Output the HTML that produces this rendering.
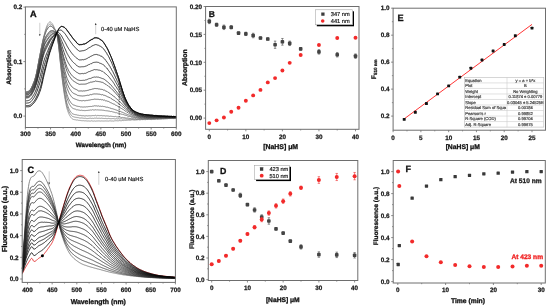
<!DOCTYPE html>
<html><head><meta charset="utf-8"><style>
html,body{margin:0;padding:0;background:#fff;}
svg{display:block;}
text{font-family:'Liberation Sans', Arial, sans-serif;text-rendering:geometricPrecision;}
.tl{font-weight:bold;fill:#1a1a1a;stroke:#1a1a1a;stroke-width:0.25px;}
.b{stroke-width:0.3px;}
</style></head><body>
<svg width="550" height="306" viewBox="0 0 550 306">
<rect width="550" height="306" fill="#fff"/>
<clipPath id="cA"><rect x="25.4" y="6.9" width="150.9" height="120.6"/></clipPath>
<polyline points="25.4,92.1 25.9,92.0 26.4,91.9 26.9,91.8 27.4,91.7 27.9,91.6 28.4,91.3 28.9,91.0 29.4,90.5 29.9,90.0 30.4,89.4 30.9,88.7 31.4,87.8 31.9,86.8 32.4,85.7 32.9,84.5 33.4,83.2 34.0,81.9 34.5,80.4 35.0,78.8 35.5,77.1 36.0,75.2 36.5,73.1 37.0,70.7 37.5,68.1 38.0,65.4 38.5,62.6 39.0,59.9 39.5,57.2 40.0,54.7 40.5,52.1 41.0,49.5 41.5,46.9 42.0,44.5 42.5,42.1 43.0,39.8 43.5,37.6 44.0,35.6 44.5,33.6 45.0,31.7 45.5,30.0 46.0,28.4 46.5,26.9 47.0,25.6 47.5,24.5 48.0,23.6 48.5,22.9 49.0,22.4 49.5,22.0 50.0,21.8 50.6,22.0 51.1,22.4 51.6,22.9 52.1,23.5 52.6,24.2 53.1,25.1 53.6,26.1 54.1,27.3 54.6,28.4 55.1,29.2 55.6,30.0 56.1,31.1 56.6,33.0 57.1,35.6 57.6,38.7 58.1,42.2 58.6,46.3 59.1,50.7 59.6,55.5 60.1,60.6 60.6,65.4 61.1,69.9 61.6,74.2 62.1,78.4 62.6,82.3 63.1,86.1 63.6,89.8 64.1,93.3 64.6,96.5 65.1,99.4 65.6,102.2 66.1,104.8 66.6,107.1 67.1,109.0 67.7,110.7 68.2,112.2 68.7,113.5 69.2,114.6 69.7,115.6 70.2,116.3 70.7,117.1 71.2,117.8 71.7,118.3 72.2,118.8 72.7,119.2 73.2,119.4 73.7,119.5 74.2,119.6 74.7,119.7 75.2,119.8 75.7,119.8 76.2,120.1 76.7,120.0 77.2,120.0 77.7,120.0 78.2,120.2 78.7,120.4 79.2,120.4 79.7,120.4 80.2,120.4 80.7,120.6 81.2,120.6 81.7,120.7 82.2,120.6 82.7,120.8 83.2,120.7 83.7,120.7 84.3,120.8 84.8,120.9 85.3,120.7 85.8,121.0 86.3,120.9 86.8,121.0 87.3,121.1 87.8,120.9 88.3,120.9 88.8,121.0 89.3,121.0 89.8,121.1 90.3,121.1 90.8,121.0 91.3,120.8 91.8,120.9 92.3,121.1 92.8,120.9 93.3,121.1 93.8,121.1 94.3,120.9 94.8,121.1 95.3,121.2 95.8,121.1 96.3,121.0 96.8,121.0 97.3,120.9 97.8,121.1 98.3,120.9 98.8,121.0 99.3,121.0 99.8,120.9 100.3,121.0 100.8,121.1 101.4,120.9 101.9,121.1 102.4,121.0 102.9,121.0 103.4,121.0 103.9,121.1 104.4,121.0 104.9,121.0 105.4,120.9 105.9,121.1 106.4,121.0 106.9,121.0 107.4,121.1 107.9,120.7 108.4,121.0 108.9,121.1 109.4,120.8 109.9,121.1 110.4,120.9 110.9,120.9 111.4,121.0 111.9,121.0 112.4,121.0 112.9,120.9 113.4,121.1 113.9,121.0 114.4,120.9 114.9,120.7 115.4,120.8 115.9,120.6 116.4,120.7 116.9,120.8 117.4,120.8 118.0,121.0 118.5,120.8 119.0,120.8 119.5,120.6 120.0,120.6 120.5,120.7 121.0,120.7 121.5,120.7 122.0,120.6 122.5,120.5 123.0,120.5 123.5,120.6 124.0,120.2 124.5,120.3 125.0,120.4 125.5,120.4 126.0,120.4 126.5,120.3 127.0,120.3 127.5,120.2 128.0,120.2 128.5,120.1 129.0,120.1 129.5,120.2 130.0,120.1 130.5,120.2 131.0,120.2 131.5,119.9 132.0,120.1 132.5,119.8 133.0,120.1 133.5,120.0 134.0,119.9 134.6,120.0 135.1,119.9 135.6,120.0 136.1,120.0 136.6,119.9 137.1,119.9 137.6,119.7 138.1,119.9 138.6,119.6 139.1,120.1 139.6,119.8 140.1,119.7 140.6,119.8 141.1,119.6 141.6,119.6 142.1,119.7 142.6,119.6 143.1,119.3 143.6,119.6 144.1,119.6 144.6,119.6 145.1,119.5 145.6,119.7 146.1,119.5 146.6,119.2 147.1,119.4 147.6,119.4 148.1,119.3 148.6,119.2 149.1,119.3 149.6,119.2 150.1,119.2 150.6,119.3 151.1,119.1 151.7,119.6 152.2,119.3 152.7,119.2 153.2,119.3 153.7,119.2 154.2,119.3 154.7,119.2 155.2,118.9 155.7,119.1 156.2,119.1 156.7,118.9 157.2,119.1 157.7,119.0 158.2,119.0 158.7,118.8 159.2,119.1 159.7,118.9 160.2,118.9 160.7,119.0 161.2,118.8 161.7,119.0 162.2,118.7 162.7,118.8 163.2,118.7 163.7,118.8 164.2,118.7 164.7,119.0 165.2,118.7 165.7,118.8 166.2,118.7 166.7,118.7 167.2,118.6 167.7,118.7 168.3,118.4 168.8,118.3 169.3,118.6 169.8,118.5 170.3,118.5 170.8,118.4 171.3,118.3 171.8,118.6 172.3,118.5 172.8,118.5 173.3,118.5 173.8,118.6 174.3,118.3 174.8,118.5 175.3,118.2 175.8,118.2 176.3,118.4" fill="none" stroke="rgb(140,140,140)" stroke-width="0.85" stroke-linejoin="round" clip-path="url(#cA)"/>
<polyline points="25.4,92.2 25.9,92.1 26.4,92.0 26.9,91.9 27.4,91.8 27.9,91.6 28.4,91.4 28.9,91.0 29.4,90.6 29.9,90.0 30.4,89.5 30.9,88.7 31.4,87.9 31.9,86.8 32.4,85.7 32.9,84.6 33.4,83.3 34.0,82.0 34.5,80.5 35.0,78.9 35.5,77.2 36.0,75.3 36.5,73.2 37.0,70.8 37.5,68.2 38.0,65.5 38.5,62.7 39.0,60.0 39.5,57.4 40.0,54.9 40.5,52.3 41.0,49.7 41.5,47.2 42.0,44.8 42.5,42.4 43.0,40.3 43.5,38.2 44.0,36.3 44.5,34.5 45.0,32.8 45.5,31.3 46.0,29.9 46.5,28.6 47.0,27.5 47.5,26.6 48.0,25.7 48.5,25.1 49.0,24.6 49.5,24.1 50.0,23.9 50.6,24.0 51.1,24.3 51.6,24.6 52.1,25.1 52.6,25.7 53.1,26.3 53.6,27.2 54.1,28.1 54.6,29.0 55.1,29.7 55.6,30.3 56.1,31.3 56.6,33.0 57.1,35.5 57.6,38.4 58.1,41.7 58.6,45.6 59.1,49.9 59.6,54.5 60.1,59.4 60.6,64.1 61.1,68.4 61.6,72.6 62.1,76.6 62.6,80.5 63.1,84.2 63.6,87.8 64.1,91.2 64.6,94.2 65.1,97.1 65.6,99.8 66.1,102.3 66.6,104.5 67.1,106.4 67.7,108.1 68.2,109.5 68.7,110.9 69.2,112.0 69.7,112.9 70.2,113.7 70.7,114.4 71.2,115.1 71.7,115.7 72.2,116.2 72.7,116.5 73.2,116.7 73.7,116.8 74.2,117.0 74.7,117.1 75.2,117.2 75.7,117.3 76.2,117.2 76.7,117.6 77.2,117.5 77.7,117.6 78.2,117.5 78.7,117.8 79.2,117.9 79.7,118.0 80.2,118.0 80.7,118.1 81.2,118.0 81.7,118.0 82.2,118.1 82.7,118.1 83.2,118.3 83.7,118.2 84.3,118.3 84.8,118.3 85.3,118.2 85.8,118.4 86.3,118.6 86.8,118.4 87.3,118.5 87.8,118.6 88.3,118.5 88.8,118.3 89.3,118.2 89.8,118.4 90.3,118.3 90.8,118.2 91.3,118.5 91.8,118.3 92.3,118.3 92.8,118.3 93.3,118.5 93.8,118.3 94.3,118.2 94.8,118.1 95.3,118.1 95.8,118.3 96.3,118.1 96.8,118.2 97.3,118.4 97.8,118.2 98.3,118.3 98.8,118.2 99.3,118.3 99.8,118.2 100.3,118.3 100.8,118.4 101.4,118.2 101.9,118.3 102.4,118.4 102.9,118.2 103.4,118.4 103.9,118.5 104.4,118.5 104.9,118.6 105.4,118.5 105.9,118.2 106.4,118.6 106.9,118.5 107.4,118.6 107.9,118.6 108.4,118.4 108.9,118.5 109.4,118.6 109.9,118.6 110.4,118.7 110.9,118.7 111.4,118.7 111.9,118.7 112.4,118.6 112.9,118.6 113.4,118.6 113.9,118.7 114.4,118.9 114.9,118.7 115.4,118.9 115.9,118.7 116.4,118.7 116.9,118.7 117.4,118.9 118.0,119.0 118.5,118.7 119.0,118.7 119.5,119.0 120.0,118.9 120.5,118.8 121.0,119.0 121.5,118.7 122.0,119.0 122.5,119.1 123.0,118.8 123.5,119.0 124.0,119.1 124.5,118.9 125.0,119.3 125.5,118.9 126.0,119.2 126.5,119.1 127.0,119.2 127.5,119.1 128.0,119.1 128.5,119.3 129.0,119.1 129.5,119.3 130.0,119.3 130.5,119.3 131.0,119.4 131.5,119.4 132.0,119.2 132.5,119.3 133.0,119.2 133.5,119.3 134.0,119.5 134.6,119.6 135.1,119.4 135.6,119.3 136.1,119.4 136.6,119.5 137.1,119.3 137.6,119.6 138.1,119.5 138.6,119.4 139.1,119.1 139.6,119.3 140.1,119.5 140.6,119.3 141.1,119.3 141.6,119.3 142.1,119.4 142.6,119.4 143.1,119.3 143.6,119.3 144.1,119.1 144.6,119.1 145.1,119.4 145.6,119.3 146.1,119.3 146.6,119.3 147.1,119.2 147.6,119.2 148.1,119.2 148.6,119.1 149.1,119.2 149.6,119.3 150.1,119.3 150.6,119.3 151.1,119.2 151.7,119.3 152.2,119.0 152.7,119.1 153.2,119.1 153.7,119.1 154.2,119.2 154.7,119.1 155.2,118.8 155.7,119.2 156.2,118.9 156.7,118.9 157.2,118.9 157.7,118.9 158.2,118.8 158.7,119.0 159.2,118.8 159.7,118.7 160.2,118.9 160.7,118.9 161.2,118.8 161.7,118.6 162.2,118.6 162.7,118.6 163.2,118.8 163.7,118.8 164.2,118.6 164.7,118.6 165.2,118.7 165.7,118.6 166.2,118.5 166.7,118.4 167.2,118.6 167.7,118.5 168.3,118.6 168.8,118.5 169.3,118.5 169.8,118.3 170.3,118.1 170.8,118.4 171.3,118.3 171.8,118.3 172.3,118.5 172.8,118.2 173.3,118.4 173.8,118.1 174.3,118.1 174.8,118.2 175.3,118.3 175.8,118.0 176.3,118.2" fill="none" stroke="rgb(130,130,130)" stroke-width="0.85" stroke-linejoin="round" clip-path="url(#cA)"/>
<polyline points="25.4,92.4 25.9,92.3 26.4,92.2 26.9,92.1 27.4,92.0 27.9,91.8 28.4,91.6 28.9,91.2 29.4,90.8 29.9,90.2 30.4,89.7 30.9,89.0 31.4,88.1 31.9,87.1 32.4,86.0 32.9,84.8 33.4,83.6 34.0,82.2 34.5,80.8 35.0,79.2 35.5,77.5 36.0,75.6 36.5,73.6 37.0,71.2 37.5,68.6 38.0,65.9 38.5,63.2 39.0,60.4 39.5,57.9 40.0,55.4 40.5,52.8 41.0,50.3 41.5,47.8 42.0,45.4 42.5,43.2 43.0,41.1 43.5,39.1 44.0,37.3 44.5,35.7 45.0,34.2 45.5,32.8 46.0,31.6 46.5,30.5 47.0,29.6 47.5,28.7 48.0,28.0 48.5,27.4 49.0,26.9 49.5,26.4 50.0,26.1 50.6,26.1 51.1,26.2 51.6,26.5 52.1,26.7 52.6,27.1 53.1,27.6 53.6,28.3 54.1,29.0 54.6,29.7 55.1,30.2 55.6,30.7 56.1,31.5 56.6,33.0 57.1,35.3 57.6,38.0 58.1,41.2 58.6,45.0 59.1,49.0 59.6,53.4 60.1,58.2 60.6,62.7 61.1,66.9 61.6,71.0 62.1,74.9 62.6,78.6 63.1,82.2 63.6,85.7 64.1,89.0 64.6,91.9 65.1,94.7 65.6,97.4 66.1,99.8 66.6,102.0 67.1,103.9 67.7,105.5 68.2,106.9 68.7,108.2 69.2,109.3 69.7,110.2 70.2,111.0 70.7,111.7 71.2,112.4 71.7,113.0 72.2,113.5 72.7,113.9 73.2,114.1 73.7,114.2 74.2,114.4 74.7,114.5 75.2,114.6 75.7,114.7 76.2,114.8 76.7,114.8 77.2,115.1 77.7,115.1 78.2,115.2 78.7,115.3 79.2,115.4 79.7,115.5 80.2,115.4 80.7,115.5 81.2,115.7 81.7,115.6 82.2,115.7 82.7,115.7 83.2,115.7 83.7,115.7 84.3,116.0 84.8,115.8 85.3,115.7 85.8,116.0 86.3,115.7 86.8,115.8 87.3,115.8 87.8,116.0 88.3,115.7 88.8,115.9 89.3,115.8 89.8,115.7 90.3,115.8 90.8,115.8 91.3,115.8 91.8,115.7 92.3,115.6 92.8,115.6 93.3,115.6 93.8,115.6 94.3,115.6 94.8,115.6 95.3,115.3 95.8,115.5 96.3,115.8 96.8,115.7 97.3,115.4 97.8,115.7 98.3,115.6 98.8,115.5 99.3,115.7 99.8,115.5 100.3,115.5 100.8,115.7 101.4,115.5 101.9,115.8 102.4,115.8 102.9,115.7 103.4,115.7 103.9,115.8 104.4,115.7 104.9,116.0 105.4,116.0 105.9,116.0 106.4,115.9 106.9,115.9 107.4,115.9 107.9,116.2 108.4,116.1 108.9,116.1 109.4,116.3 109.9,116.3 110.4,116.2 110.9,116.2 111.4,116.3 111.9,116.3 112.4,116.4 112.9,116.5 113.4,116.5 113.9,116.7 114.4,116.6 114.9,116.7 115.4,116.4 115.9,116.7 116.4,116.8 116.9,116.9 117.4,116.9 118.0,117.0 118.5,117.0 119.0,117.1 119.5,117.0 120.0,117.2 120.5,117.2 121.0,117.2 121.5,117.5 122.0,117.4 122.5,117.4 123.0,117.5 123.5,117.6 124.0,117.8 124.5,117.6 125.0,117.8 125.5,117.9 126.0,117.8 126.5,118.1 127.0,117.9 127.5,118.0 128.0,118.1 128.5,118.2 129.0,118.4 129.5,118.5 130.0,118.2 130.5,118.5 131.0,118.5 131.5,118.3 132.0,118.6 132.5,118.6 133.0,118.7 133.5,118.7 134.0,118.8 134.6,118.8 135.1,118.7 135.6,118.7 136.1,119.2 136.6,119.1 137.1,118.9 137.6,118.9 138.1,119.0 138.6,118.8 139.1,119.2 139.6,118.9 140.1,119.0 140.6,119.0 141.1,119.0 141.6,119.0 142.1,119.1 142.6,119.1 143.1,119.0 143.6,119.0 144.1,119.2 144.6,118.9 145.1,118.9 145.6,118.9 146.1,119.0 146.6,119.0 147.1,119.1 147.6,119.1 148.1,119.0 148.6,119.0 149.1,119.1 149.6,118.8 150.1,119.1 150.6,119.0 151.1,119.0 151.7,118.8 152.2,118.9 152.7,118.9 153.2,119.0 153.7,119.0 154.2,119.0 154.7,118.7 155.2,118.8 155.7,118.7 156.2,118.9 156.7,118.5 157.2,118.9 157.7,119.0 158.2,118.8 158.7,118.7 159.2,118.6 159.7,118.8 160.2,118.6 160.7,118.5 161.2,118.7 161.7,118.7 162.2,118.8 162.7,118.6 163.2,118.5 163.7,118.5 164.2,118.4 164.7,118.4 165.2,118.5 165.7,118.4 166.2,118.6 166.7,118.5 167.2,118.4 167.7,118.5 168.3,118.3 168.8,118.2 169.3,118.3 169.8,118.4 170.3,118.4 170.8,118.2 171.3,118.4 171.8,118.3 172.3,118.3 172.8,118.2 173.3,118.1 173.8,118.3 174.3,118.3 174.8,118.0 175.3,118.1 175.8,118.1 176.3,118.1" fill="none" stroke="rgb(121,121,121)" stroke-width="0.85" stroke-linejoin="round" clip-path="url(#cA)"/>
<polyline points="25.4,92.4 25.9,92.3 26.4,92.2 26.9,92.1 27.4,92.0 27.9,91.8 28.4,91.6 28.9,91.2 29.4,90.8 29.9,90.2 30.4,89.7 30.9,89.0 31.4,88.1 31.9,87.1 32.4,86.0 32.9,84.8 33.4,83.6 34.0,82.2 34.5,80.8 35.0,79.2 35.5,77.5 36.0,75.6 36.5,73.6 37.0,71.2 37.5,68.6 38.0,65.9 38.5,63.2 39.0,60.4 39.5,57.9 40.0,55.4 40.5,52.8 41.0,50.3 41.5,47.8 42.0,45.4 42.5,43.2 43.0,41.1 43.5,39.1 44.0,37.3 44.5,35.7 45.0,34.2 45.5,32.8 46.0,31.6 46.5,30.5 47.0,29.6 47.5,28.8 48.0,28.0 48.5,27.4 49.0,26.9 49.5,26.4 50.0,26.2 50.6,26.1 51.1,26.3 51.6,26.5 52.1,26.8 52.6,27.3 53.1,27.8 53.6,28.4 54.1,29.2 54.6,29.9 55.1,30.4 55.6,30.9 56.1,31.6 56.6,33.0 57.1,35.2 57.6,37.6 58.1,40.5 58.6,44.0 59.1,47.7 59.6,51.7 60.1,56.0 60.6,60.2 61.1,64.0 61.6,67.8 62.1,71.4 62.6,74.8 63.1,78.2 63.6,81.4 64.1,84.5 64.6,87.2 65.1,89.8 65.6,92.3 66.1,94.6 66.6,96.7 67.1,98.5 67.7,100.0 68.2,101.4 68.7,102.6 69.2,103.7 69.7,104.6 70.2,105.3 70.7,106.1 71.2,106.8 71.7,107.4 72.2,107.9 72.7,108.3 73.2,108.5 73.7,108.7 74.2,108.9 74.7,109.0 75.2,109.2 75.7,109.3 76.2,109.7 76.7,109.8 77.2,109.6 77.7,109.9 78.2,109.9 78.7,110.1 79.2,110.1 79.7,110.3 80.2,110.4 80.7,110.4 81.2,110.4 81.7,110.2 82.2,110.5 82.7,110.4 83.2,110.5 83.7,110.5 84.3,110.7 84.8,110.4 85.3,110.6 85.8,110.5 86.3,110.5 86.8,110.4 87.3,110.4 87.8,110.4 88.3,110.3 88.8,110.3 89.3,110.2 89.8,110.2 90.3,110.0 90.8,110.0 91.3,110.0 91.8,110.2 92.3,109.8 92.8,109.7 93.3,110.0 93.8,109.9 94.3,110.1 94.8,109.8 95.3,109.9 95.8,109.6 96.3,110.1 96.8,109.8 97.3,109.8 97.8,109.9 98.3,110.0 98.8,109.9 99.3,110.0 99.8,110.0 100.3,110.0 100.8,110.1 101.4,110.1 101.9,110.0 102.4,110.2 102.9,110.2 103.4,110.3 103.9,110.2 104.4,110.5 104.9,110.3 105.4,110.8 105.9,110.7 106.4,110.8 106.9,110.6 107.4,110.8 107.9,111.0 108.4,111.1 108.9,110.9 109.4,111.2 109.9,111.2 110.4,111.5 110.9,111.6 111.4,111.5 111.9,111.4 112.4,111.8 112.9,111.8 113.4,112.1 113.9,112.0 114.4,112.3 114.9,112.4 115.4,112.7 115.9,112.6 116.4,112.7 116.9,112.7 117.4,113.1 118.0,113.0 118.5,113.3 119.0,113.4 119.5,113.6 120.0,113.8 120.5,113.9 121.0,113.8 121.5,114.2 122.0,114.3 122.5,114.3 123.0,114.8 123.5,114.6 124.0,114.9 124.5,115.0 125.0,115.0 125.5,115.3 126.0,115.5 126.5,115.5 127.0,115.7 127.5,116.0 128.0,116.1 128.5,116.4 129.0,116.2 129.5,116.6 130.0,116.6 130.5,116.6 131.0,116.8 131.5,117.1 132.0,117.2 132.5,117.3 133.0,117.3 133.5,117.4 134.0,117.6 134.6,117.4 135.1,117.8 135.6,117.9 136.1,117.9 136.6,117.9 137.1,118.0 137.6,118.1 138.1,118.0 138.6,118.1 139.1,118.3 139.6,118.6 140.1,118.2 140.6,118.5 141.1,118.5 141.6,118.5 142.1,118.6 142.6,118.6 143.1,118.5 143.6,118.6 144.1,118.5 144.6,118.6 145.1,118.6 145.6,118.7 146.1,118.6 146.6,118.5 147.1,118.6 147.6,118.7 148.1,118.6 148.6,118.6 149.1,118.5 149.6,118.6 150.1,118.6 150.6,118.7 151.1,118.4 151.7,118.7 152.2,118.7 152.7,118.6 153.2,118.7 153.7,118.4 154.2,118.5 154.7,118.5 155.2,118.6 155.7,118.6 156.2,118.4 156.7,118.4 157.2,118.2 157.7,118.3 158.2,118.7 158.7,118.4 159.2,118.5 159.7,118.3 160.2,118.4 160.7,118.3 161.2,118.4 161.7,118.3 162.2,118.2 162.7,118.4 163.2,118.5 163.7,118.4 164.2,118.1 164.7,118.3 165.2,118.3 165.7,118.4 166.2,118.1 166.7,118.2 167.2,118.2 167.7,118.3 168.3,118.2 168.8,118.2 169.3,118.1 169.8,118.0 170.3,118.3 170.8,118.3 171.3,118.1 171.8,118.1 172.3,118.2 172.8,118.1 173.3,118.1 173.8,118.1 174.3,118.1 174.8,118.0 175.3,117.9 175.8,117.9 176.3,117.9" fill="none" stroke="rgb(112,112,112)" stroke-width="0.85" stroke-linejoin="round" clip-path="url(#cA)"/>
<polyline points="25.4,93.3 25.9,93.3 26.4,93.2 26.9,93.1 27.4,93.0 27.9,92.8 28.4,92.6 28.9,92.3 29.4,91.9 29.9,91.4 30.4,90.8 30.9,90.1 31.4,89.3 31.9,88.3 32.4,87.3 32.9,86.1 33.4,84.9 34.0,83.6 34.5,82.2 35.0,80.7 35.5,79.1 36.0,77.3 36.5,75.3 37.0,73.0 37.5,70.6 38.0,68.0 38.5,65.4 39.0,62.8 39.5,60.3 40.0,57.9 40.5,55.5 41.0,53.1 41.5,50.7 42.0,48.4 42.5,46.2 43.0,44.3 43.5,42.5 44.0,40.9 44.5,39.4 45.0,38.2 45.5,37.2 46.0,36.2 46.5,35.4 47.0,34.7 47.5,34.0 48.0,33.3 48.5,32.7 49.0,32.1 49.5,31.5 50.0,31.1 50.6,30.8 51.1,30.7 51.6,30.5 52.1,30.5 52.6,30.5 53.1,30.6 53.6,30.8 54.1,31.1 54.6,31.4 55.1,31.5 55.6,31.6 56.1,32.0 56.6,33.0 57.1,34.8 57.6,37.0 58.1,39.6 58.6,42.8 59.1,46.3 59.6,50.1 60.1,54.2 60.6,58.2 61.1,61.8 61.6,65.4 62.1,68.8 62.6,72.1 63.1,75.3 63.6,78.4 64.1,81.3 64.6,84.0 65.1,86.5 65.6,88.8 66.1,91.1 66.6,93.1 67.1,94.8 67.7,96.3 68.2,97.7 68.7,98.9 69.2,99.9 69.7,100.8 70.2,101.5 70.7,102.3 71.2,103.0 71.7,103.6 72.2,104.1 72.7,104.5 73.2,104.8 73.7,105.0 74.2,105.2 74.7,105.3 75.2,105.5 75.7,105.7 76.2,105.9 76.7,106.1 77.2,106.1 77.7,106.4 78.2,106.5 78.7,106.4 79.2,106.5 79.7,106.6 80.2,106.9 80.7,106.9 81.2,106.9 81.7,106.9 82.2,107.0 82.7,107.0 83.2,106.9 83.7,107.1 84.3,106.9 84.8,107.0 85.3,107.0 85.8,107.0 86.3,106.8 86.8,106.8 87.3,106.9 87.8,106.7 88.3,106.6 88.8,106.6 89.3,106.6 89.8,106.4 90.3,106.4 90.8,106.5 91.3,106.5 91.8,106.4 92.3,106.2 92.8,106.2 93.3,106.1 93.8,106.1 94.3,105.9 94.8,105.7 95.3,106.0 95.8,105.7 96.3,105.9 96.8,105.8 97.3,106.0 97.8,106.2 98.3,106.0 98.8,105.9 99.3,106.3 99.8,106.2 100.3,106.2 100.8,106.2 101.4,106.4 101.9,106.4 102.4,106.3 102.9,106.2 103.4,106.5 103.9,106.5 104.4,106.6 104.9,106.7 105.4,106.9 105.9,107.0 106.4,107.2 106.9,107.2 107.4,107.2 107.9,107.4 108.4,107.5 108.9,107.8 109.4,107.7 109.9,108.3 110.4,108.2 110.9,108.3 111.4,108.6 111.9,108.5 112.4,108.7 112.9,108.9 113.4,109.0 113.9,109.3 114.4,109.4 114.9,109.5 115.4,109.8 115.9,109.7 116.4,110.1 116.9,110.1 117.4,110.4 118.0,110.6 118.5,110.9 119.0,111.0 119.5,111.2 120.0,111.3 120.5,111.4 121.0,111.8 121.5,112.0 122.0,112.1 122.5,112.3 123.0,112.6 123.5,112.8 124.0,113.1 124.5,113.2 125.0,113.4 125.5,113.8 126.0,114.0 126.5,114.1 127.0,114.4 127.5,114.6 128.0,114.7 128.5,114.9 129.0,115.1 129.5,115.3 130.0,115.7 130.5,115.8 131.0,115.9 131.5,116.1 132.0,116.5 132.5,116.4 133.0,116.5 133.5,116.7 134.0,116.9 134.6,117.0 135.1,117.3 135.6,117.3 136.1,117.6 136.6,117.4 137.1,117.3 137.6,117.4 138.1,117.8 138.6,117.6 139.1,117.6 139.6,117.9 140.1,118.1 140.6,117.8 141.1,118.1 141.6,118.1 142.1,117.9 142.6,118.1 143.1,118.1 143.6,118.0 144.1,118.2 144.6,118.3 145.1,118.1 145.6,118.2 146.1,118.2 146.6,118.2 147.1,118.4 147.6,118.3 148.1,118.3 148.6,118.3 149.1,118.3 149.6,118.3 150.1,118.3 150.6,118.5 151.1,118.3 151.7,118.5 152.2,118.1 152.7,118.4 153.2,118.3 153.7,118.2 154.2,118.3 154.7,118.4 155.2,118.4 155.7,118.3 156.2,118.2 156.7,118.2 157.2,118.2 157.7,118.3 158.2,118.2 158.7,118.1 159.2,118.3 159.7,117.8 160.2,118.3 160.7,118.1 161.2,118.0 161.7,118.1 162.2,118.1 162.7,118.1 163.2,118.0 163.7,118.4 164.2,118.1 164.7,118.2 165.2,118.2 165.7,118.1 166.2,118.1 166.7,118.0 167.2,118.1 167.7,117.9 168.3,118.3 168.8,118.1 169.3,118.2 169.8,118.0 170.3,118.1 170.8,117.9 171.3,118.1 171.8,117.8 172.3,117.9 172.8,118.0 173.3,118.1 173.8,118.0 174.3,118.1 174.8,117.8 175.3,117.8 175.8,118.0 176.3,117.6" fill="none" stroke="rgb(102,102,102)" stroke-width="0.85" stroke-linejoin="round" clip-path="url(#cA)"/>
<polyline points="25.4,93.5 25.9,93.4 26.4,93.4 26.9,93.3 27.4,93.2 27.9,93.0 28.4,92.8 28.9,92.5 29.4,92.1 29.9,91.6 30.4,91.0 30.9,90.4 31.4,89.5 31.9,88.6 32.4,87.5 32.9,86.4 33.4,85.2 34.0,83.9 34.5,82.5 35.0,81.0 35.5,79.4 36.0,77.6 36.5,75.6 37.0,73.4 37.5,71.0 38.0,68.4 38.5,65.8 39.0,63.2 39.5,60.8 40.0,58.4 40.5,56.0 41.0,53.6 41.5,51.2 42.0,48.9 42.5,46.8 43.0,44.8 43.5,43.0 44.0,41.4 44.5,40.0 45.0,38.8 45.5,37.8 46.0,36.9 46.5,36.1 47.0,35.3 47.5,34.7 48.0,34.0 48.5,33.4 49.0,32.8 49.5,32.2 50.0,31.7 50.6,31.4 51.1,31.3 51.6,31.1 52.1,31.0 52.6,31.0 53.1,31.1 53.6,31.3 54.1,31.6 54.6,31.8 55.1,31.8 55.6,31.9 56.1,32.1 56.6,33.1 57.1,34.6 57.6,36.5 58.1,38.8 58.6,41.6 59.1,44.6 59.6,48.0 60.1,51.7 60.6,55.1 61.1,58.4 61.6,61.6 62.1,64.7 62.6,67.6 63.1,70.5 63.6,73.3 64.1,76.0 64.6,78.4 65.1,80.7 65.6,82.9 66.1,84.9 66.6,86.8 67.1,88.4 67.7,89.8 68.2,91.1 68.7,92.3 69.2,93.3 69.7,94.1 70.2,94.9 70.7,95.6 71.2,96.3 71.7,96.9 72.2,97.5 72.7,97.9 73.2,98.2 73.7,98.5 74.2,98.7 74.7,98.9 75.2,99.1 75.7,99.3 76.2,99.4 76.7,99.7 77.2,99.9 77.7,100.1 78.2,100.4 78.7,100.2 79.2,100.4 79.7,100.7 80.2,100.6 80.7,100.6 81.2,100.7 81.7,100.8 82.2,100.6 82.7,100.8 83.2,100.6 83.7,100.5 84.3,100.7 84.8,100.8 85.3,100.6 85.8,100.8 86.3,100.7 86.8,100.2 87.3,100.5 87.8,100.3 88.3,100.3 88.8,100.1 89.3,100.0 89.8,100.2 90.3,100.0 90.8,99.7 91.3,99.6 91.8,99.6 92.3,99.6 92.8,99.4 93.3,99.4 93.8,99.4 94.3,99.3 94.8,99.0 95.3,99.3 95.8,99.1 96.3,99.2 96.8,99.4 97.3,99.3 97.8,99.3 98.3,99.4 98.8,99.3 99.3,99.5 99.8,99.6 100.3,99.4 100.8,99.6 101.4,99.8 101.9,99.7 102.4,99.6 102.9,100.0 103.4,100.2 103.9,100.0 104.4,100.0 104.9,100.3 105.4,100.7 105.9,101.0 106.4,100.8 106.9,101.1 107.4,101.2 107.9,101.5 108.4,101.4 108.9,101.8 109.4,102.0 109.9,102.2 110.4,102.6 110.9,102.6 111.4,102.9 111.9,103.3 112.4,103.5 112.9,103.7 113.4,104.0 113.9,104.0 114.4,104.2 114.9,104.6 115.4,105.0 115.9,105.3 116.4,105.4 116.9,105.8 117.4,106.0 118.0,106.5 118.5,106.8 119.0,106.7 119.5,107.3 120.0,107.5 120.5,107.9 121.0,108.0 121.5,108.5 122.0,108.8 122.5,109.1 123.0,109.4 123.5,109.6 124.0,110.3 124.5,110.4 125.0,110.9 125.5,111.2 126.0,111.6 126.5,111.8 127.0,112.3 127.5,112.5 128.0,112.7 128.5,113.2 129.0,113.5 129.5,113.7 130.0,114.0 130.5,114.3 131.0,114.5 131.5,114.8 132.0,114.9 132.5,115.3 133.0,115.5 133.5,115.5 134.0,115.9 134.6,116.0 135.1,116.1 135.6,116.1 136.1,116.4 136.6,116.6 137.1,116.7 137.6,116.7 138.1,116.9 138.6,117.0 139.1,117.0 139.6,117.2 140.1,117.3 140.6,117.5 141.1,117.5 141.6,117.6 142.1,117.6 142.6,117.6 143.1,117.6 143.6,117.6 144.1,117.7 144.6,117.7 145.1,117.9 145.6,117.6 146.1,117.5 146.6,117.8 147.1,117.8 147.6,117.9 148.1,117.8 148.6,118.0 149.1,118.1 149.6,117.8 150.1,118.1 150.6,117.9 151.1,118.0 151.7,118.0 152.2,117.8 152.7,117.8 153.2,118.0 153.7,118.0 154.2,117.9 154.7,118.0 155.2,118.1 155.7,118.0 156.2,118.2 156.7,117.9 157.2,118.0 157.7,117.9 158.2,118.1 158.7,118.0 159.2,117.9 159.7,117.8 160.2,117.8 160.7,117.9 161.2,118.0 161.7,117.9 162.2,117.9 162.7,117.9 163.2,117.8 163.7,118.0 164.2,117.7 164.7,117.9 165.2,117.9 165.7,117.9 166.2,118.0 166.7,117.9 167.2,117.8 167.7,118.0 168.3,117.9 168.8,118.0 169.3,117.9 169.8,117.7 170.3,117.8 170.8,117.8 171.3,117.8 171.8,117.9 172.3,117.7 172.8,117.8 173.3,117.8 173.8,117.9 174.3,117.8 174.8,117.6 175.3,117.6 175.8,117.7 176.3,117.7" fill="none" stroke="rgb(93,93,93)" stroke-width="0.85" stroke-linejoin="round" clip-path="url(#cA)"/>
<polyline points="25.4,94.0 25.9,93.9 26.4,93.9 26.9,93.8 27.4,93.7 27.9,93.5 28.4,93.3 28.9,93.0 29.4,92.6 29.9,92.1 30.4,91.6 30.9,90.9 31.4,90.1 31.9,89.2 32.4,88.1 32.9,87.0 33.4,85.9 34.0,84.6 34.5,83.2 35.0,81.7 35.5,80.2 36.0,78.4 36.5,76.5 37.0,74.3 37.5,71.9 38.0,69.4 38.5,66.9 39.0,64.3 39.5,61.9 40.0,59.6 40.5,57.2 41.0,54.9 41.5,52.5 42.0,50.3 42.5,48.1 43.0,46.2 43.5,44.5 44.0,42.9 44.5,41.5 45.0,40.3 45.5,39.4 46.0,38.5 46.5,37.7 47.0,37.0 47.5,36.3 48.0,35.6 48.5,35.0 49.0,34.4 49.5,33.8 50.0,33.2 50.6,32.8 51.1,32.6 51.6,32.3 52.1,32.2 52.6,32.1 53.1,32.0 53.6,32.1 54.1,32.3 54.6,32.4 55.1,32.3 55.6,32.2 56.1,32.3 56.6,33.1 57.1,34.4 57.6,36.1 58.1,38.1 58.6,40.5 59.1,43.3 59.6,46.3 60.1,49.6 60.6,52.7 61.1,55.7 61.6,58.6 62.1,61.4 62.6,64.1 63.1,66.8 63.6,69.4 64.1,71.8 64.6,74.0 65.1,76.1 65.6,78.2 66.1,80.1 66.6,81.9 67.1,83.4 67.7,84.8 68.2,86.0 68.7,87.1 69.2,88.1 69.7,89.0 70.2,89.7 70.7,90.4 71.2,91.1 71.7,91.7 72.2,92.3 72.7,92.8 73.2,93.1 73.7,93.4 74.2,93.6 74.7,93.9 75.2,94.1 75.7,94.3 76.2,94.6 76.7,94.7 77.2,95.1 77.7,95.4 78.2,95.3 78.7,95.7 79.2,95.9 79.7,95.6 80.2,96.0 80.7,95.7 81.2,96.0 81.7,95.8 82.2,95.8 82.7,96.1 83.2,95.9 83.7,95.9 84.3,95.8 84.8,95.8 85.3,95.6 85.8,95.7 86.3,95.6 86.8,95.3 87.3,95.3 87.8,95.2 88.3,95.4 88.8,95.2 89.3,95.0 89.8,94.9 90.3,94.7 90.8,94.4 91.3,94.7 91.8,94.5 92.3,94.3 92.8,94.2 93.3,94.0 93.8,94.1 94.3,94.1 94.8,93.7 95.3,93.9 95.8,94.0 96.3,94.0 96.8,93.9 97.3,94.1 97.8,93.9 98.3,94.1 98.8,94.2 99.3,94.3 99.8,94.1 100.3,94.4 100.8,94.5 101.4,94.8 101.9,94.7 102.4,94.6 102.9,94.7 103.4,95.1 103.9,95.3 104.4,95.3 104.9,95.5 105.4,95.6 105.9,96.0 106.4,96.1 106.9,96.5 107.4,96.7 107.9,96.9 108.4,97.1 108.9,97.2 109.4,97.4 109.9,98.0 110.4,97.9 110.9,98.4 111.4,98.7 111.9,98.8 112.4,99.5 112.9,99.7 113.4,100.0 113.9,100.2 114.4,100.4 114.9,100.8 115.4,101.3 115.9,101.5 116.4,102.0 116.9,102.2 117.4,102.8 118.0,103.0 118.5,103.6 119.0,103.8 119.5,104.4 120.0,104.6 120.5,105.2 121.0,105.5 121.5,106.0 122.0,106.4 122.5,106.7 123.0,107.0 123.5,107.5 124.0,108.0 124.5,108.4 125.0,108.8 125.5,109.2 126.0,109.7 126.5,110.0 127.0,110.6 127.5,110.9 128.0,111.5 128.5,111.5 129.0,112.2 129.5,112.5 130.0,112.7 130.5,113.2 131.0,113.6 131.5,114.0 132.0,114.1 132.5,114.1 133.0,114.5 133.5,114.6 134.0,114.9 134.6,115.2 135.1,115.5 135.6,115.6 136.1,115.7 136.6,115.9 137.1,116.1 137.6,116.2 138.1,116.4 138.6,116.7 139.1,116.7 139.6,116.7 140.1,116.9 140.6,117.0 141.1,117.1 141.6,117.1 142.1,117.1 142.6,117.2 143.1,117.3 143.6,117.3 144.1,117.4 144.6,117.5 145.1,117.6 145.6,117.6 146.1,117.5 146.6,117.5 147.1,117.5 147.6,117.6 148.1,117.6 148.6,117.7 149.1,117.5 149.6,117.5 150.1,117.6 150.6,117.7 151.1,117.7 151.7,117.7 152.2,117.8 152.7,117.7 153.2,117.9 153.7,117.9 154.2,117.6 154.7,117.6 155.2,117.6 155.7,117.8 156.2,117.7 156.7,117.7 157.2,117.8 157.7,117.9 158.2,117.5 158.7,117.6 159.2,117.6 159.7,117.7 160.2,117.8 160.7,117.7 161.2,117.7 161.7,117.9 162.2,117.7 162.7,117.6 163.2,117.5 163.7,117.6 164.2,117.7 164.7,117.8 165.2,117.5 165.7,117.7 166.2,117.6 166.7,117.7 167.2,117.8 167.7,117.4 168.3,117.6 168.8,117.5 169.3,117.7 169.8,117.6 170.3,117.5 170.8,117.7 171.3,117.7 171.8,117.7 172.3,117.8 172.8,117.5 173.3,117.6 173.8,117.8 174.3,117.4 174.8,117.4 175.3,117.4 175.8,117.8 176.3,117.5" fill="none" stroke="rgb(84,84,84)" stroke-width="0.85" stroke-linejoin="round" clip-path="url(#cA)"/>
<polyline points="25.4,94.9 25.9,94.8 26.4,94.7 26.9,94.7 27.4,94.6 27.9,94.5 28.4,94.3 28.9,93.9 29.4,93.5 29.9,93.1 30.4,92.6 30.9,92.0 31.4,91.2 31.9,90.3 32.4,89.2 32.9,88.2 33.4,87.1 34.0,85.9 34.5,84.5 35.0,83.1 35.5,81.6 36.0,79.9 36.5,78.1 37.0,75.9 37.5,73.6 38.0,71.2 38.5,68.8 39.0,66.4 39.5,64.1 40.0,61.8 40.5,59.5 41.0,57.2 41.5,54.9 42.0,52.7 42.5,50.6 43.0,48.6 43.5,46.9 44.0,45.4 44.5,44.0 45.0,42.9 45.5,41.9 46.0,41.1 46.5,40.3 47.0,39.6 47.5,38.9 48.0,38.1 48.5,37.5 49.0,36.8 49.5,36.1 50.0,35.4 50.6,34.9 51.1,34.5 51.6,34.1 52.1,33.8 52.6,33.6 53.1,33.4 53.6,33.3 54.1,33.2 54.6,33.1 55.1,32.9 55.6,32.6 56.1,32.6 56.6,33.1 57.1,34.2 57.6,35.5 58.1,37.3 58.6,39.4 59.1,41.8 59.6,44.5 60.1,47.4 60.6,50.2 61.1,52.9 61.6,55.5 62.1,58.1 62.6,60.5 63.1,63.0 63.6,65.3 64.1,67.6 64.6,69.6 65.1,71.5 65.6,73.4 66.1,75.3 66.6,76.9 67.1,78.4 67.7,79.7 68.2,80.9 68.7,81.9 69.2,82.9 69.7,83.7 70.2,84.5 70.7,85.2 71.2,85.9 71.7,86.5 72.2,87.1 72.7,87.5 73.2,87.9 73.7,88.2 74.2,88.5 74.7,88.8 75.2,89.0 75.7,89.3 76.2,89.5 76.7,89.7 77.2,90.1 77.7,90.3 78.2,90.7 78.7,91.0 79.2,90.8 79.7,91.1 80.2,90.9 80.7,91.0 81.2,91.0 81.7,90.9 82.2,91.2 82.7,91.0 83.2,91.0 83.7,90.8 84.3,90.9 84.8,91.0 85.3,90.9 85.8,90.6 86.3,90.7 86.8,90.5 87.3,90.4 87.8,90.4 88.3,90.2 88.8,90.2 89.3,89.9 89.8,89.6 90.3,89.6 90.8,89.7 91.3,89.2 91.8,89.4 92.3,89.2 92.8,88.8 93.3,88.8 93.8,88.8 94.3,88.5 94.8,88.6 95.3,88.5 95.8,88.6 96.3,88.6 96.8,88.6 97.3,88.5 97.8,88.8 98.3,88.8 98.8,89.1 99.3,89.1 99.8,88.9 100.3,89.2 100.8,89.3 101.4,89.3 101.9,89.5 102.4,89.5 102.9,89.7 103.4,90.1 103.9,90.0 104.4,90.1 104.9,90.4 105.4,90.8 105.9,91.0 106.4,91.3 106.9,91.4 107.4,91.7 107.9,92.2 108.4,92.4 108.9,92.7 109.4,93.1 109.9,93.4 110.4,93.7 110.9,94.3 111.4,94.4 111.9,94.9 112.4,95.3 112.9,95.6 113.4,96.1 113.9,96.2 114.4,96.9 114.9,97.2 115.4,97.6 115.9,98.2 116.4,98.7 116.9,99.0 117.4,99.5 118.0,100.1 118.5,100.6 119.0,100.8 119.5,101.2 120.0,101.9 120.5,102.3 121.0,102.8 121.5,103.3 122.0,104.0 122.5,104.4 123.0,104.9 123.5,105.2 124.0,106.0 124.5,106.5 125.0,107.1 125.5,107.6 126.0,108.3 126.5,108.6 127.0,109.0 127.5,109.7 128.0,110.1 128.5,110.7 129.0,111.0 129.5,111.4 130.0,111.8 130.5,112.3 131.0,112.6 131.5,113.0 132.0,113.2 132.5,113.5 133.0,113.6 133.5,114.1 134.0,114.2 134.6,114.6 135.1,114.8 135.6,114.9 136.1,115.2 136.6,115.4 137.1,115.7 137.6,115.5 138.1,115.7 138.6,116.1 139.1,116.3 139.6,116.4 140.1,116.4 140.6,116.6 141.1,116.5 141.6,116.7 142.1,116.4 142.6,116.8 143.1,116.9 143.6,116.7 144.1,116.9 144.6,117.0 145.1,117.1 145.6,117.0 146.1,117.2 146.6,117.2 147.1,117.3 147.6,117.4 148.1,117.3 148.6,117.3 149.1,117.1 149.6,117.3 150.1,117.4 150.6,117.3 151.1,117.3 151.7,117.6 152.2,117.4 152.7,117.6 153.2,117.6 153.7,117.5 154.2,117.4 154.7,117.4 155.2,117.4 155.7,117.3 156.2,117.4 156.7,117.4 157.2,117.5 157.7,117.3 158.2,117.3 158.7,117.5 159.2,117.5 159.7,117.4 160.2,117.4 160.7,117.5 161.2,117.4 161.7,117.6 162.2,117.5 162.7,117.4 163.2,117.6 163.7,117.5 164.2,117.5 164.7,117.5 165.2,117.7 165.7,117.5 166.2,117.5 166.7,117.5 167.2,117.4 167.7,117.4 168.3,117.5 168.8,117.5 169.3,117.3 169.8,117.4 170.3,117.5 170.8,117.5 171.3,117.4 171.8,117.4 172.3,117.5 172.8,117.4 173.3,117.5 173.8,117.5 174.3,117.3 174.8,117.6 175.3,117.4 175.8,117.5 176.3,117.5" fill="none" stroke="rgb(74,74,74)" stroke-width="0.85" stroke-linejoin="round" clip-path="url(#cA)"/>
<polyline points="25.4,95.3 25.9,95.2 26.4,95.1 26.9,95.1 27.4,95.0 27.9,94.8 28.4,94.6 28.9,94.3 29.4,94.0 29.9,93.5 30.4,93.0 30.9,92.4 31.4,91.6 31.9,90.7 32.4,89.7 32.9,88.7 33.4,87.6 34.0,86.4 34.5,85.1 35.0,83.7 35.5,82.2 36.0,80.5 36.5,78.7 37.0,76.6 37.5,74.4 38.0,72.0 38.5,69.6 39.0,67.3 39.5,65.0 40.0,62.7 40.5,60.5 41.0,58.2 41.5,55.9 42.0,53.7 42.5,51.6 43.0,49.7 43.5,47.9 44.0,46.4 44.5,45.1 45.0,43.9 45.5,43.0 46.0,42.1 46.5,41.3 47.0,40.6 47.5,39.9 48.0,39.1 48.5,38.4 49.0,37.7 49.5,37.0 50.0,36.3 50.6,35.8 51.1,35.3 51.6,34.9 52.1,34.5 52.6,34.2 53.1,34.0 53.6,33.9 54.1,33.8 54.6,33.6 55.1,33.3 55.6,32.9 56.1,32.8 56.6,33.1 57.1,33.9 57.6,35.0 58.1,36.3 58.6,38.1 59.1,40.0 59.6,42.2 60.1,44.6 60.6,46.9 61.1,49.1 61.6,51.3 62.1,53.5 62.6,55.6 63.1,57.7 63.6,59.8 64.1,61.7 64.6,63.5 65.1,65.2 65.6,66.9 66.1,68.6 66.6,70.1 67.1,71.4 67.7,72.6 68.2,73.8 68.7,74.8 69.2,75.7 69.7,76.5 70.2,77.2 70.7,77.9 71.2,78.6 71.7,79.3 72.2,79.9 72.7,80.4 73.2,80.8 73.7,81.1 74.2,81.4 74.7,81.8 75.2,82.1 75.7,82.4 76.2,82.7 76.7,83.1 77.2,83.3 77.7,83.6 78.2,83.9 78.7,84.0 79.2,84.3 79.7,84.3 80.2,84.2 80.7,84.3 81.2,84.2 81.7,84.2 82.2,84.3 82.7,84.1 83.2,84.1 83.7,84.2 84.3,84.2 84.8,84.1 85.3,84.2 85.8,83.8 86.3,83.8 86.8,83.8 87.3,83.6 87.8,83.1 88.3,83.1 88.8,82.7 89.3,82.7 89.8,82.6 90.3,82.3 90.8,82.1 91.3,82.3 91.8,81.9 92.3,82.0 92.8,81.8 93.3,81.8 93.8,81.4 94.3,81.5 94.8,81.4 95.3,81.0 95.8,81.1 96.3,81.2 96.8,81.4 97.3,81.3 97.8,81.6 98.3,81.6 98.8,81.5 99.3,81.6 99.8,81.8 100.3,81.8 100.8,82.0 101.4,82.2 101.9,82.3 102.4,82.3 102.9,82.7 103.4,82.8 103.9,83.1 104.4,83.6 104.9,83.8 105.4,84.2 105.9,84.3 106.4,84.7 106.9,85.2 107.4,85.5 107.9,85.7 108.4,86.0 108.9,86.5 109.4,86.9 109.9,87.3 110.4,87.8 110.9,88.2 111.4,88.8 111.9,89.3 112.4,89.8 112.9,90.2 113.4,90.5 113.9,91.3 114.4,91.9 114.9,92.2 115.4,92.8 115.9,93.5 116.4,94.1 116.9,94.7 117.4,95.2 118.0,95.5 118.5,96.5 119.0,97.0 119.5,97.7 120.0,98.3 120.5,98.9 121.0,99.5 121.5,100.3 122.0,101.0 122.5,101.5 123.0,102.2 123.5,102.9 124.0,103.6 124.5,104.4 125.0,104.8 125.5,105.7 126.0,106.4 126.5,107.0 127.0,107.5 127.5,107.8 128.0,108.7 128.5,109.2 129.0,109.6 129.5,110.3 130.0,110.8 130.5,111.2 131.0,111.6 131.5,112.1 132.0,112.3 132.5,112.6 133.0,112.7 133.5,113.2 134.0,113.5 134.6,113.9 135.1,114.2 135.6,114.6 136.1,114.6 136.6,115.1 137.1,115.1 137.6,115.1 138.1,115.4 138.6,115.5 139.1,115.7 139.6,115.9 140.1,115.8 140.6,116.0 141.1,116.0 141.6,116.1 142.1,116.2 142.6,116.4 143.1,116.3 143.6,116.4 144.1,116.6 144.6,116.6 145.1,116.5 145.6,116.6 146.1,116.8 146.6,116.9 147.1,116.8 147.6,116.7 148.1,116.9 148.6,116.9 149.1,117.0 149.6,117.0 150.1,117.0 150.6,117.0 151.1,117.1 151.7,117.2 152.2,116.8 152.7,117.0 153.2,117.2 153.7,117.1 154.2,117.1 154.7,117.0 155.2,117.1 155.7,117.2 156.2,117.1 156.7,117.3 157.2,117.3 157.7,117.1 158.2,117.2 158.7,117.2 159.2,117.3 159.7,117.3 160.2,117.2 160.7,117.2 161.2,117.0 161.7,117.3 162.2,117.2 162.7,117.3 163.2,117.3 163.7,117.1 164.2,117.1 164.7,117.3 165.2,117.4 165.7,117.2 166.2,117.2 166.7,117.3 167.2,117.5 167.7,117.1 168.3,117.4 168.8,117.2 169.3,117.4 169.8,117.3 170.3,117.2 170.8,117.4 171.3,117.3 171.8,117.3 172.3,117.2 172.8,117.2 173.3,117.3 173.8,117.4 174.3,117.2 174.8,117.3 175.3,117.3 175.8,117.5 176.3,117.3" fill="none" stroke="rgb(65,65,65)" stroke-width="0.85" stroke-linejoin="round" clip-path="url(#cA)"/>
<polyline points="25.4,98.1 25.9,98.1 26.4,98.0 26.9,98.0 27.4,97.9 27.9,97.8 28.4,97.7 28.9,97.4 29.4,97.1 29.9,96.7 30.4,96.3 30.9,95.8 31.4,95.1 31.9,94.3 32.4,93.4 32.9,92.5 33.4,91.6 34.0,90.5 34.5,89.4 35.0,88.1 35.5,86.8 36.0,85.4 36.5,83.8 37.0,82.0 37.5,80.1 38.0,78.0 38.5,76.0 39.0,73.9 39.5,71.9 40.0,69.9 40.5,67.8 41.0,65.7 41.5,63.6 42.0,61.4 42.5,59.3 43.0,57.3 43.5,55.5 44.0,53.9 44.5,52.5 45.0,51.3 45.5,50.1 46.0,49.1 46.5,48.1 47.0,47.2 47.5,46.3 48.0,45.3 48.5,44.4 49.0,43.4 49.5,42.4 50.0,41.4 50.6,40.6 51.1,39.7 51.6,38.9 52.1,38.2 52.6,37.5 53.1,36.8 53.6,36.2 54.1,35.7 54.6,35.1 55.1,34.4 55.6,33.7 56.1,33.1 56.6,33.1 57.1,33.6 57.6,34.3 58.1,35.4 58.6,36.9 59.1,38.6 59.6,40.5 60.1,42.7 60.6,44.8 61.1,46.7 61.6,48.8 62.1,50.8 62.6,52.8 63.1,54.7 63.6,56.6 64.1,58.4 64.6,60.0 65.1,61.6 65.6,63.2 66.1,64.7 66.6,66.2 67.1,67.5 67.7,68.6 68.2,69.7 68.7,70.7 69.2,71.6 69.7,72.4 70.2,73.1 70.7,73.8 71.2,74.5 71.7,75.2 72.2,75.7 72.7,76.3 73.2,76.7 73.7,77.1 74.2,77.4 74.7,77.8 75.2,78.1 75.7,78.4 76.2,78.9 76.7,79.3 77.2,79.6 77.7,79.8 78.2,79.9 78.7,80.2 79.2,80.3 79.7,80.4 80.2,80.4 80.7,80.5 81.2,80.4 81.7,80.5 82.2,80.5 82.7,80.3 83.2,80.3 83.7,80.3 84.3,80.4 84.8,80.2 85.3,79.9 85.8,80.0 86.3,79.8 86.8,79.7 87.3,79.4 87.8,79.3 88.3,78.8 88.8,78.9 89.3,78.7 89.8,78.4 90.3,78.5 90.8,78.3 91.3,78.1 91.8,77.9 92.3,77.5 92.8,77.7 93.3,77.1 93.8,77.2 94.3,77.0 94.8,77.1 95.3,77.2 95.8,77.1 96.3,76.9 96.8,77.1 97.3,77.1 97.8,77.2 98.3,77.1 98.8,77.3 99.3,77.5 99.8,77.6 100.3,77.7 100.8,78.0 101.4,78.2 101.9,78.4 102.4,78.5 102.9,78.8 103.4,78.8 103.9,79.2 104.4,79.3 104.9,79.9 105.4,80.2 105.9,80.6 106.4,80.9 106.9,81.3 107.4,81.8 107.9,82.1 108.4,82.7 108.9,83.1 109.4,83.6 109.9,83.9 110.4,84.6 110.9,85.1 111.4,85.4 111.9,86.1 112.4,86.8 112.9,87.3 113.4,87.8 113.9,88.5 114.4,89.0 114.9,89.7 115.4,90.4 115.9,90.8 116.4,91.4 116.9,92.1 117.4,92.9 118.0,93.5 118.5,94.2 119.0,94.7 119.5,95.6 120.0,96.3 120.5,96.9 121.0,97.7 121.5,98.5 122.0,99.4 122.5,100.1 123.0,101.0 123.5,101.4 124.0,102.4 124.5,103.1 125.0,103.8 125.5,104.6 126.0,105.3 126.5,106.0 127.0,106.7 127.5,107.3 128.0,107.9 128.5,108.6 129.0,109.1 129.5,109.6 130.0,110.2 130.5,110.5 131.0,111.2 131.5,111.6 132.0,111.8 132.5,112.0 133.0,112.4 133.5,112.9 134.0,113.0 134.6,113.5 135.1,113.8 135.6,114.1 136.1,114.1 136.6,114.4 137.1,114.8 137.6,115.0 138.1,115.0 138.6,115.3 139.1,115.4 139.6,115.4 140.1,115.7 140.6,115.8 141.1,115.8 141.6,115.9 142.1,115.8 142.6,116.1 143.1,116.1 143.6,116.1 144.1,116.3 144.6,116.3 145.1,116.3 145.6,116.5 146.1,116.6 146.6,116.6 147.1,116.4 147.6,116.6 148.1,116.7 148.6,116.8 149.1,116.7 149.6,116.9 150.1,116.7 150.6,116.9 151.1,116.9 151.7,116.7 152.2,116.8 152.7,116.8 153.2,117.0 153.7,116.8 154.2,116.9 154.7,116.9 155.2,116.9 155.7,116.8 156.2,117.0 156.7,116.8 157.2,116.9 157.7,117.0 158.2,117.0 158.7,117.0 159.2,116.9 159.7,117.0 160.2,117.1 160.7,117.1 161.2,117.0 161.7,117.2 162.2,117.2 162.7,117.1 163.2,117.1 163.7,117.0 164.2,117.2 164.7,117.3 165.2,117.4 165.7,117.2 166.2,117.2 166.7,117.1 167.2,117.1 167.7,117.3 168.3,117.0 168.8,117.2 169.3,117.2 169.8,117.2 170.3,117.4 170.8,116.9 171.3,117.2 171.8,117.1 172.3,117.3 172.8,117.4 173.3,117.3 173.8,117.3 174.3,117.4 174.8,117.5 175.3,117.1 175.8,117.3 176.3,117.2" fill="none" stroke="rgb(56,56,56)" stroke-width="0.85" stroke-linejoin="round" clip-path="url(#cA)"/>
<polyline points="25.4,96.6 25.9,96.5 26.4,96.4 26.9,96.4 27.4,96.3 27.9,96.2 28.4,96.0 28.9,95.7 29.4,95.4 29.9,95.0 30.4,94.5 30.9,93.9 31.4,93.2 31.9,92.3 32.4,91.4 32.9,90.4 33.4,89.4 34.0,88.3 34.5,87.0 35.0,85.7 35.5,84.3 36.0,82.7 36.5,81.0 37.0,79.1 37.5,77.0 38.0,74.7 38.5,72.5 39.0,70.2 39.5,68.1 40.0,65.9 40.5,63.8 41.0,61.6 41.5,59.4 42.0,57.2 42.5,55.1 43.0,53.2 43.5,51.4 44.0,49.9 44.5,48.5 45.0,47.3 45.5,46.3 46.0,45.4 46.5,44.6 47.0,43.8 47.5,43.0 48.0,42.1 48.5,41.3 49.0,40.5 49.5,39.7 50.0,38.9 50.6,38.2 51.1,37.6 51.6,37.0 52.1,36.5 52.6,36.0 53.1,35.6 53.6,35.3 54.1,35.0 54.6,34.7 55.1,34.1 55.6,33.6 56.1,33.2 56.6,33.1 57.1,33.5 57.6,34.0 58.1,34.8 58.6,35.8 59.1,37.1 59.6,38.5 60.1,40.1 60.6,41.6 61.1,43.1 61.6,44.7 62.1,46.3 62.6,47.9 63.1,49.5 63.6,51.1 64.1,52.5 64.6,53.9 65.1,55.3 65.6,56.6 66.1,58.0 66.6,59.3 67.1,60.5 67.7,61.6 68.2,62.6 68.7,63.5 69.2,64.3 69.7,65.1 70.2,65.8 70.7,66.5 71.2,67.2 71.7,67.9 72.2,68.5 72.7,69.0 73.2,69.5 73.7,69.9 74.2,70.3 74.7,70.7 75.2,71.1 75.7,71.5 76.2,71.8 76.7,72.2 77.2,72.7 77.7,72.8 78.2,73.3 78.7,73.4 79.2,73.7 79.7,73.7 80.2,73.8 80.7,73.7 81.2,73.6 81.7,73.6 82.2,73.7 82.7,73.4 83.2,73.6 83.7,73.7 84.3,73.5 84.8,73.2 85.3,73.3 85.8,73.3 86.3,73.0 86.8,72.7 87.3,72.5 87.8,72.2 88.3,71.9 88.8,71.6 89.3,71.6 89.8,71.4 90.3,71.2 90.8,71.0 91.3,70.7 91.8,70.6 92.3,70.5 92.8,70.1 93.3,69.9 93.8,69.9 94.3,69.6 94.8,69.6 95.3,69.8 95.8,69.6 96.3,69.7 96.8,69.7 97.3,69.8 97.8,69.8 98.3,69.9 98.8,70.3 99.3,70.1 99.8,70.4 100.3,70.4 100.8,70.7 101.4,71.1 101.9,71.1 102.4,71.3 102.9,71.5 103.4,71.9 103.9,72.4 104.4,72.8 104.9,73.2 105.4,73.6 105.9,74.0 106.4,74.4 106.9,74.8 107.4,75.3 107.9,75.9 108.4,76.3 108.9,76.9 109.4,77.6 109.9,78.0 110.4,78.7 110.9,79.4 111.4,79.9 111.9,80.6 112.4,81.2 112.9,81.8 113.4,82.6 113.9,83.3 114.4,84.2 114.9,85.2 115.4,86.0 115.9,86.6 116.4,87.1 116.9,88.1 117.4,89.0 118.0,89.7 118.5,90.4 119.0,91.4 119.5,92.2 120.0,93.1 120.5,94.0 121.0,94.9 121.5,96.0 122.0,96.7 122.5,97.7 123.0,98.6 123.5,99.4 124.0,100.5 124.5,101.4 125.0,102.1 125.5,103.2 126.0,103.8 126.5,104.7 127.0,105.4 127.5,106.2 128.0,106.7 128.5,107.6 129.0,108.0 129.5,108.7 130.0,109.3 130.5,109.7 131.0,110.1 131.5,110.8 132.0,111.1 132.5,111.6 133.0,111.8 133.5,112.2 134.0,112.7 134.6,113.0 135.1,113.4 135.6,113.6 136.1,113.7 136.6,114.1 137.1,114.2 137.6,114.6 138.1,114.4 138.6,114.9 139.1,114.9 139.6,115.0 140.1,115.0 140.6,115.3 141.1,115.4 141.6,115.6 142.1,115.5 142.6,115.9 143.1,115.6 143.6,115.7 144.1,115.7 144.6,116.1 145.1,116.1 145.6,116.1 146.1,116.0 146.6,116.3 147.1,116.1 147.6,116.4 148.1,116.2 148.6,116.3 149.1,116.3 149.6,116.4 150.1,116.3 150.6,116.6 151.1,116.4 151.7,116.6 152.2,116.5 152.7,116.6 153.2,116.5 153.7,116.5 154.2,116.6 154.7,116.7 155.2,116.5 155.7,116.7 156.2,116.6 156.7,116.7 157.2,116.6 157.7,116.6 158.2,116.6 158.7,116.6 159.2,116.6 159.7,117.0 160.2,116.9 160.7,116.9 161.2,116.8 161.7,116.8 162.2,117.0 162.7,116.7 163.2,116.9 163.7,116.7 164.2,117.0 164.7,116.8 165.2,116.8 165.7,117.0 166.2,116.9 166.7,116.9 167.2,117.0 167.7,116.9 168.3,117.2 168.8,116.9 169.3,117.0 169.8,117.1 170.3,116.9 170.8,117.2 171.3,117.1 171.8,116.9 172.3,117.0 172.8,117.1 173.3,116.9 173.8,117.1 174.3,117.1 174.8,117.0 175.3,117.0 175.8,117.0 176.3,117.2" fill="none" stroke="rgb(46,46,46)" stroke-width="0.85" stroke-linejoin="round" clip-path="url(#cA)"/>
<polyline points="25.4,97.4 25.9,97.3 26.4,97.2 26.9,97.2 27.4,97.1 27.9,97.0 28.4,96.8 28.9,96.6 29.4,96.2 29.9,95.8 30.4,95.4 30.9,94.9 31.4,94.1 31.9,93.3 32.4,92.4 32.9,91.5 33.4,90.5 34.0,89.4 34.5,88.2 35.0,86.9 35.5,85.5 36.0,84.0 36.5,82.4 37.0,80.5 37.5,78.5 38.0,76.4 38.5,74.2 39.0,72.1 39.5,70.0 40.0,67.9 40.5,65.8 41.0,63.7 41.5,61.5 42.0,59.3 42.5,57.2 43.0,55.2 43.5,53.5 44.0,51.9 44.5,50.5 45.0,49.3 45.5,48.3 46.0,47.3 46.5,46.4 47.0,45.5 47.5,44.7 48.0,43.8 48.5,42.9 49.0,42.0 49.5,41.1 50.0,40.3 50.6,39.5 51.1,38.8 51.6,38.2 52.1,37.6 52.6,37.0 53.1,36.6 53.6,36.1 54.1,35.7 54.6,35.3 55.1,34.6 55.6,34.0 56.1,33.4 56.6,33.2 57.1,33.2 57.6,33.4 58.1,33.8 58.6,34.4 59.1,35.2 59.6,36.1 60.1,37.2 60.6,38.3 61.1,39.3 61.6,40.5 62.1,41.7 62.6,42.9 63.1,44.2 63.6,45.4 64.1,46.6 64.6,47.8 65.1,48.9 65.6,50.0 66.1,51.2 66.6,52.3 67.1,53.4 67.7,54.4 68.2,55.4 68.7,56.2 69.2,57.0 69.7,57.8 70.2,58.5 70.7,59.2 71.2,59.9 71.7,60.5 72.2,61.2 72.7,61.8 73.2,62.3 73.7,62.7 74.2,63.2 74.7,63.6 75.2,64.0 75.7,64.4 76.2,64.8 76.7,65.6 77.2,65.8 77.7,66.0 78.2,66.5 78.7,66.7 79.2,66.7 79.7,67.0 80.2,67.0 80.7,66.8 81.2,66.6 81.7,66.9 82.2,66.8 82.7,66.7 83.2,66.7 83.7,66.7 84.3,66.5 84.8,66.6 85.3,66.4 85.8,66.0 86.3,66.2 86.8,65.5 87.3,65.3 87.8,65.3 88.3,64.8 88.8,64.6 89.3,64.5 89.8,64.3 90.3,64.1 90.8,63.6 91.3,63.7 91.8,63.4 92.3,63.1 92.8,62.9 93.3,62.4 93.8,62.5 94.3,62.4 94.8,62.3 95.3,62.2 95.8,62.3 96.3,62.1 96.8,62.3 97.3,62.3 97.8,62.3 98.3,62.4 98.8,62.6 99.3,63.0 99.8,63.1 100.3,63.3 100.8,63.5 101.4,63.7 101.9,64.0 102.4,64.1 102.9,64.6 103.4,64.7 103.9,65.3 104.4,65.8 104.9,66.2 105.4,66.9 105.9,67.4 106.4,67.8 106.9,68.5 107.4,68.6 107.9,69.7 108.4,70.4 108.9,70.8 109.4,71.6 109.9,72.4 110.4,73.1 110.9,73.8 111.4,74.6 111.9,75.2 112.4,76.2 112.9,76.9 113.4,77.7 113.9,78.6 114.4,79.6 114.9,80.6 115.4,81.5 115.9,82.5 116.4,83.2 116.9,84.2 117.4,85.2 118.0,86.1 118.5,87.1 119.0,88.0 119.5,89.1 120.0,90.2 120.5,91.3 121.0,92.2 121.5,93.4 122.0,94.4 122.5,95.6 123.0,96.6 123.5,97.6 124.0,98.7 124.5,99.6 125.0,100.7 125.5,101.7 126.0,102.5 126.5,103.5 127.0,104.3 127.5,105.3 128.0,105.8 128.5,106.6 129.0,107.2 129.5,107.9 130.0,108.4 130.5,109.1 131.0,109.6 131.5,110.0 132.0,110.4 132.5,111.0 133.0,111.3 133.5,111.7 134.0,112.3 134.6,112.5 135.1,112.8 135.6,113.3 136.1,113.5 136.6,113.8 137.1,113.6 137.6,114.0 138.1,114.2 138.6,114.2 139.1,114.3 139.6,114.5 140.1,114.5 140.6,114.7 141.1,114.6 141.6,115.2 142.1,115.2 142.6,115.4 143.1,115.3 143.6,115.5 144.1,115.4 144.6,115.8 145.1,115.5 145.6,115.6 146.1,115.6 146.6,115.7 147.1,115.8 147.6,115.8 148.1,116.1 148.6,116.0 149.1,116.0 149.6,115.8 150.1,116.1 150.6,116.3 151.1,115.9 151.7,116.3 152.2,116.2 152.7,116.3 153.2,116.6 153.7,116.2 154.2,116.4 154.7,116.3 155.2,116.4 155.7,116.3 156.2,116.2 156.7,116.4 157.2,116.5 157.7,116.5 158.2,116.5 158.7,116.6 159.2,116.5 159.7,116.5 160.2,116.7 160.7,116.7 161.2,116.4 161.7,116.6 162.2,116.4 162.7,116.6 163.2,116.6 163.7,116.7 164.2,116.5 164.7,116.6 165.2,116.7 165.7,116.9 166.2,116.9 166.7,116.8 167.2,116.9 167.7,116.7 168.3,116.7 168.8,116.7 169.3,116.8 169.8,116.8 170.3,116.8 170.8,116.8 171.3,117.0 171.8,116.9 172.3,116.9 172.8,116.8 173.3,116.9 173.8,117.0 174.3,116.7 174.8,116.8 175.3,116.8 175.8,116.8 176.3,117.0" fill="none" stroke="rgb(37,37,37)" stroke-width="0.85" stroke-linejoin="round" clip-path="url(#cA)"/>
<polyline points="25.4,100.9 25.9,100.8 26.4,100.8 26.9,100.8 27.4,100.7 27.9,100.7 28.4,100.5 28.9,100.3 29.4,100.1 29.9,99.8 30.4,99.4 30.9,99.0 31.4,98.4 31.9,97.7 32.4,97.0 32.9,96.2 33.4,95.3 34.0,94.4 34.5,93.4 35.0,92.4 35.5,91.2 36.0,90.0 36.5,88.6 37.0,87.1 37.5,85.5 38.0,83.8 38.5,82.0 39.0,80.2 39.5,78.4 40.0,76.6 40.5,74.8 41.0,72.8 41.5,70.8 42.0,68.6 42.5,66.5 43.0,64.4 43.5,62.5 44.0,60.8 44.5,59.2 45.0,57.7 45.5,56.4 46.0,55.1 46.5,53.8 47.0,52.6 47.5,51.4 48.0,50.2 48.5,49.0 49.0,47.8 49.5,46.5 50.0,45.4 50.6,44.3 51.1,43.2 51.6,42.2 52.1,41.2 52.6,40.3 53.1,39.4 53.6,38.6 54.1,37.7 54.6,36.8 55.1,35.8 55.6,34.8 56.1,33.8 56.6,33.2 57.1,32.8 57.6,32.6 58.1,32.5 58.6,32.6 59.1,32.9 59.6,33.4 60.1,34.0 60.6,34.6 61.1,35.2 61.6,36.0 62.1,36.9 62.6,37.8 63.1,38.7 63.6,39.6 64.1,40.6 64.6,41.4 65.1,42.3 65.6,43.2 66.1,44.2 66.6,45.2 67.1,46.2 67.7,47.1 68.2,48.0 68.7,48.8 69.2,49.5 69.7,50.3 70.2,51.0 70.7,51.7 71.2,52.4 71.7,53.1 72.2,53.7 72.7,54.3 73.2,54.9 73.7,55.4 74.2,55.8 74.7,56.3 75.2,56.8 75.7,57.3 76.2,57.8 76.7,58.2 77.2,58.7 77.7,58.8 78.2,59.2 78.7,59.7 79.2,59.9 79.7,59.9 80.2,59.9 80.7,59.9 81.2,60.0 81.7,59.7 82.2,59.6 82.7,59.7 83.2,59.8 83.7,59.7 84.3,59.4 84.8,59.5 85.3,59.3 85.8,59.1 86.3,58.9 86.8,58.5 87.3,58.4 87.8,58.0 88.3,57.8 88.8,57.3 89.3,57.3 89.8,56.9 90.3,56.5 90.8,56.4 91.3,56.1 91.8,55.9 92.3,55.6 92.8,55.4 93.3,55.0 93.8,55.0 94.3,54.8 94.8,54.5 95.3,54.6 95.8,54.4 96.3,54.4 96.8,54.6 97.3,54.9 97.8,54.6 98.3,55.1 98.8,55.1 99.3,55.3 99.8,55.4 100.3,55.8 100.8,56.1 101.4,56.2 101.9,56.4 102.4,57.0 102.9,57.2 103.4,57.8 103.9,58.2 104.4,58.8 104.9,59.4 105.4,60.0 105.9,60.4 106.4,61.5 106.9,61.7 107.4,62.6 107.9,63.4 108.4,64.2 108.9,64.7 109.4,65.8 109.9,66.3 110.4,67.5 110.9,68.1 111.4,69.2 111.9,70.1 112.4,71.0 112.9,71.7 113.4,72.9 113.9,73.9 114.4,74.9 114.9,75.9 115.4,77.2 115.9,78.1 116.4,79.3 116.9,80.4 117.4,81.7 118.0,82.5 118.5,83.7 119.0,85.0 119.5,85.8 120.0,87.5 120.5,88.6 121.0,89.8 121.5,91.2 122.0,92.4 122.5,93.5 123.0,95.0 123.5,96.2 124.0,97.3 124.5,98.5 125.0,99.5 125.5,100.7 126.0,101.6 126.5,102.3 127.0,103.4 127.5,104.0 128.0,105.1 128.5,105.9 129.0,106.8 129.5,107.2 130.0,107.8 130.5,108.1 131.0,109.2 131.5,109.6 132.0,110.1 132.5,110.6 133.0,111.0 133.5,111.5 134.0,111.8 134.6,112.3 135.1,112.6 135.6,112.7 136.1,112.8 136.6,113.2 137.1,113.5 137.6,113.6 138.1,113.7 138.6,113.9 139.1,113.9 139.6,114.3 140.1,114.4 140.6,114.6 141.1,114.4 141.6,114.7 142.1,114.9 142.6,115.0 143.1,114.9 143.6,115.2 144.1,115.0 144.6,115.1 145.1,115.2 145.6,115.3 146.1,115.4 146.6,115.3 147.1,115.5 147.6,115.4 148.1,115.7 148.6,115.5 149.1,115.7 149.6,115.6 150.1,115.7 150.6,115.8 151.1,115.8 151.7,115.9 152.2,115.8 152.7,116.1 153.2,116.1 153.7,115.9 154.2,116.0 154.7,116.2 155.2,116.0 155.7,116.2 156.2,116.1 156.7,116.3 157.2,116.1 157.7,116.2 158.2,116.2 158.7,116.5 159.2,116.4 159.7,116.5 160.2,116.4 160.7,116.4 161.2,116.6 161.7,116.4 162.2,116.4 162.7,116.4 163.2,116.5 163.7,116.4 164.2,116.4 164.7,116.7 165.2,116.4 165.7,116.7 166.2,116.6 166.7,116.7 167.2,116.6 167.7,116.6 168.3,116.5 168.8,116.8 169.3,116.5 169.8,116.6 170.3,116.5 170.8,116.8 171.3,116.5 171.8,116.7 172.3,116.7 172.8,116.7 173.3,116.7 173.8,116.6 174.3,116.8 174.8,117.0 175.3,116.8 175.8,116.8 176.3,116.9" fill="none" stroke="rgb(28,28,28)" stroke-width="0.85" stroke-linejoin="round" clip-path="url(#cA)"/>
<polyline points="25.4,103.1 25.9,103.1 26.4,103.1 26.9,103.1 27.4,103.0 27.9,103.0 28.4,102.9 28.9,102.8 29.4,102.6 29.9,102.3 30.4,102.1 30.9,101.7 31.4,101.2 31.9,100.6 32.4,99.9 32.9,99.2 33.4,98.5 34.0,97.7 34.5,96.8 35.0,95.9 35.5,94.9 36.0,93.8 36.5,92.6 37.0,91.3 37.5,90.0 38.0,88.5 38.5,87.0 39.0,85.4 39.5,83.9 40.0,82.2 40.5,80.6 41.0,78.7 41.5,76.7 42.0,74.6 42.5,72.4 43.0,70.2 43.5,68.2 44.0,66.3 44.5,64.6 45.0,62.9 45.5,61.3 46.0,59.7 46.5,58.2 47.0,56.7 47.5,55.2 48.0,53.8 48.5,52.3 49.0,50.9 49.5,49.5 50.0,48.2 50.6,46.9 51.1,45.6 51.6,44.4 52.1,43.2 52.6,42.1 53.1,41.1 53.6,40.0 54.1,39.0 54.6,37.9 55.1,36.6 55.6,35.4 56.1,34.2 56.6,33.2 57.1,32.4 57.6,31.7 58.1,31.1 58.6,30.7 59.1,30.4 59.6,30.2 60.1,30.1 60.6,30.1 61.1,30.2 61.6,30.4 62.1,30.8 62.6,31.2 63.1,31.7 63.6,32.2 64.1,32.8 64.6,33.3 65.1,33.9 65.6,34.6 66.1,35.3 66.6,36.1 67.1,36.9 67.7,37.7 68.2,38.5 68.7,39.3 69.2,39.9 69.7,40.6 70.2,41.3 70.7,42.0 71.2,42.7 71.7,43.4 72.2,44.1 72.7,44.7 73.2,45.3 73.7,45.9 74.2,46.4 74.7,46.9 75.2,47.5 75.7,48.0 76.2,48.5 76.7,49.2 77.2,49.7 77.7,49.9 78.2,50.3 78.7,50.7 79.2,50.9 79.7,51.3 80.2,51.0 80.7,51.2 81.2,51.0 81.7,50.9 82.2,50.8 82.7,50.7 83.2,50.6 83.7,50.7 84.3,50.5 84.8,50.2 85.3,50.0 85.8,50.1 86.3,49.6 86.8,49.3 87.3,49.0 87.8,48.7 88.3,48.2 88.8,47.8 89.3,47.6 89.8,47.5 90.3,47.3 90.8,46.7 91.3,46.4 91.8,46.2 92.3,45.9 92.8,45.7 93.3,45.1 93.8,45.3 94.3,44.9 94.8,44.9 95.3,44.6 95.8,44.6 96.3,44.6 96.8,44.8 97.3,45.0 97.8,45.1 98.3,45.3 98.8,45.3 99.3,45.7 99.8,46.1 100.3,46.2 100.8,46.6 101.4,47.0 101.9,47.2 102.4,47.6 102.9,48.1 103.4,48.7 103.9,49.4 104.4,50.1 104.9,50.4 105.4,51.5 105.9,52.1 106.4,52.8 106.9,53.6 107.4,54.7 107.9,55.2 108.4,56.3 108.9,56.9 109.4,58.2 109.9,59.3 110.4,60.0 110.9,61.2 111.4,62.2 111.9,63.3 112.4,64.6 112.9,65.8 113.4,66.9 113.9,68.0 114.4,69.4 114.9,70.7 115.4,71.8 115.9,73.1 116.4,74.5 116.9,75.6 117.4,77.3 118.0,78.6 118.5,80.1 119.0,81.3 119.5,82.7 120.0,84.3 120.5,85.9 121.0,87.2 121.5,88.8 122.0,90.2 122.5,91.8 123.0,93.0 123.5,94.5 124.0,95.6 124.5,97.0 125.0,98.3 125.5,99.4 126.0,100.4 126.5,101.3 127.0,102.5 127.5,103.4 128.0,104.4 128.5,105.1 129.0,106.0 129.5,106.6 130.0,107.0 130.5,107.8 131.0,108.5 131.5,109.1 132.0,109.7 132.5,110.0 133.0,110.6 133.5,111.1 134.0,111.1 134.6,111.5 135.1,111.9 135.6,112.2 136.1,112.2 136.6,112.4 137.1,112.8 137.6,113.0 138.1,113.2 138.6,113.3 139.1,113.5 139.6,113.7 140.1,113.9 140.6,114.1 141.1,114.1 141.6,114.2 142.1,114.4 142.6,114.5 143.1,114.5 143.6,114.6 144.1,114.7 144.6,114.6 145.1,114.7 145.6,114.7 146.1,115.1 146.6,114.8 147.1,115.2 147.6,115.1 148.1,115.2 148.6,115.1 149.1,115.4 149.6,115.2 150.1,115.5 150.6,115.3 151.1,115.6 151.7,115.2 152.2,115.6 152.7,115.6 153.2,115.6 153.7,115.6 154.2,115.7 154.7,115.7 155.2,115.8 155.7,115.8 156.2,115.7 156.7,115.9 157.2,115.8 157.7,115.9 158.2,116.0 158.7,115.9 159.2,115.9 159.7,116.1 160.2,116.0 160.7,116.1 161.2,116.1 161.7,115.9 162.2,116.1 162.7,116.3 163.2,116.0 163.7,116.3 164.2,116.3 164.7,116.3 165.2,116.2 165.7,116.5 166.2,116.4 166.7,116.4 167.2,116.3 167.7,116.4 168.3,116.4 168.8,116.4 169.3,116.6 169.8,116.6 170.3,116.4 170.8,116.6 171.3,116.5 171.8,116.6 172.3,116.7 172.8,116.7 173.3,116.6 173.8,116.4 174.3,116.7 174.8,116.5 175.3,116.7 175.8,116.7 176.3,116.7" fill="none" stroke="rgb(18,18,18)" stroke-width="0.85" stroke-linejoin="round" clip-path="url(#cA)"/>
<polyline points="25.4,105.6 25.9,105.6 26.4,105.6 26.9,105.6 27.4,105.6 27.9,105.6 28.4,105.5 28.9,105.4 29.4,105.3 29.9,105.1 30.4,104.9 30.9,104.6 31.4,104.2 31.9,103.6 32.4,103.1 32.9,102.5 33.4,101.9 34.0,101.2 34.5,100.5 35.0,99.7 35.5,98.8 36.0,97.9 36.5,97.0 37.0,95.9 37.5,94.8 38.0,93.6 38.5,92.4 39.0,91.1 39.5,89.7 40.0,88.3 40.5,86.8 41.0,85.1 41.5,83.1 42.0,81.0 42.5,78.8 43.0,76.5 43.5,74.3 44.0,72.3 44.5,70.3 45.0,68.4 45.5,66.5 46.0,64.6 46.5,62.7 47.0,60.9 47.5,59.1 48.0,57.4 48.5,55.7 49.0,54.0 49.5,52.4 50.0,50.9 50.6,49.4 51.1,47.9 51.6,46.5 52.1,45.1 52.6,43.8 53.1,42.6 53.6,41.3 54.1,40.1 54.6,38.7 55.1,37.3 55.6,35.9 56.1,34.5 56.6,33.3 57.1,32.2 57.6,31.1 58.1,30.1 58.6,29.3 59.1,28.6 59.6,28.0 60.1,27.4 60.6,26.9 61.1,26.6 61.6,26.5 62.1,26.5 62.6,26.7 63.1,26.9 63.6,27.1 64.1,27.4 64.6,27.7 65.1,28.0 65.6,28.5 66.1,29.1 66.6,29.8 67.1,30.5 67.7,31.2 68.2,32.0 68.7,32.6 69.2,33.3 69.7,33.9 70.2,34.6 70.7,35.3 71.2,36.0 71.7,36.7 72.2,37.4 72.7,38.1 73.2,38.7 73.7,39.3 74.2,39.9 74.7,40.5 75.2,41.0 75.7,41.6 76.2,42.1 76.7,42.9 77.2,43.3 77.7,43.8 78.2,44.2 78.7,44.6 79.2,44.6 79.7,45.0 80.2,44.7 80.7,44.8 81.2,44.8 81.7,44.6 82.2,44.5 82.7,44.5 83.2,44.4 83.7,44.1 84.3,44.2 84.8,44.2 85.3,43.7 85.8,43.6 86.3,43.3 86.8,43.1 87.3,42.5 87.8,42.3 88.3,41.9 88.8,41.5 89.3,41.3 89.8,40.6 90.3,40.5 90.8,40.1 91.3,39.9 91.8,39.4 92.3,39.5 92.8,39.0 93.3,38.9 93.8,38.4 94.3,38.1 94.8,38.0 95.3,38.1 95.8,37.9 96.3,37.9 96.8,38.0 97.3,38.0 97.8,38.3 98.3,38.4 98.8,38.7 99.3,38.9 99.8,39.4 100.3,39.7 100.8,40.0 101.4,40.4 101.9,40.7 102.4,41.2 102.9,41.7 103.4,42.4 103.9,43.0 104.4,43.9 104.9,44.4 105.4,45.4 105.9,46.3 106.4,47.2 106.9,47.8 107.4,48.7 107.9,49.9 108.4,50.8 108.9,51.8 109.4,53.1 109.9,54.1 110.4,55.3 110.9,56.5 111.4,57.8 111.9,58.9 112.4,60.2 112.9,61.5 113.4,63.0 113.9,64.3 114.4,65.5 114.9,67.1 115.4,68.5 115.9,69.9 116.4,71.6 116.9,73.0 117.4,74.5 118.0,76.2 118.5,77.3 119.0,79.2 119.5,80.9 120.0,82.4 120.5,84.0 121.0,85.7 121.5,87.4 122.0,88.8 122.5,90.4 123.0,92.0 123.5,93.5 124.0,95.0 124.5,96.4 125.0,97.6 125.5,98.9 126.0,100.0 126.5,101.0 127.0,102.0 127.5,103.0 128.0,104.0 128.5,104.5 129.0,105.5 129.5,106.1 130.0,106.8 130.5,107.7 131.0,108.2 131.5,108.8 132.0,109.3 132.5,110.1 133.0,110.5 133.5,110.6 134.0,111.1 134.6,111.4 135.1,111.5 135.6,111.9 136.1,112.0 136.6,112.5 137.1,112.4 137.6,112.7 138.1,113.0 138.6,113.2 139.1,113.2 139.6,113.6 140.1,113.4 140.6,113.6 141.1,114.0 141.6,114.0 142.1,114.0 142.6,114.0 143.1,114.3 143.6,114.3 144.1,114.4 144.6,114.5 145.1,114.6 145.6,114.5 146.1,114.6 146.6,114.7 147.1,114.7 147.6,114.8 148.1,114.7 148.6,114.8 149.1,114.9 149.6,115.1 150.1,115.0 150.6,115.1 151.1,115.2 151.7,115.3 152.2,115.3 152.7,115.1 153.2,115.3 153.7,115.4 154.2,115.4 154.7,115.5 155.2,115.4 155.7,115.6 156.2,115.6 156.7,115.5 157.2,115.7 157.7,115.6 158.2,115.8 158.7,115.8 159.2,115.7 159.7,115.8 160.2,115.8 160.7,115.9 161.2,116.1 161.7,115.9 162.2,115.9 162.7,116.2 163.2,115.9 163.7,115.9 164.2,115.9 164.7,116.1 165.2,116.0 165.7,116.3 166.2,115.9 166.7,116.2 167.2,116.2 167.7,116.2 168.3,116.4 168.8,116.4 169.3,116.3 169.8,116.5 170.3,116.3 170.8,116.4 171.3,116.3 171.8,116.4 172.3,116.5 172.8,116.5 173.3,116.4 173.8,116.4 174.3,116.4 174.8,116.7 175.3,116.6 175.8,116.6 176.3,116.5" fill="none" stroke="rgb(9,9,9)" stroke-width="0.85" stroke-linejoin="round" clip-path="url(#cA)"/>
<polyline points="25.4,106.8 25.9,106.8 26.4,106.8 26.9,106.8 27.4,106.8 27.9,106.8 28.4,106.8 28.9,106.7 29.4,106.6 29.9,106.5 30.4,106.3 30.9,106.0 31.4,105.6 31.9,105.2 32.4,104.6 32.9,104.1 33.4,103.6 34.0,103.0 34.5,102.3 35.0,101.6 35.5,100.8 36.0,100.0 36.5,99.2 37.0,98.2 37.5,97.3 38.0,96.2 38.5,95.1 39.0,93.9 39.5,92.7 40.0,91.4 40.5,89.9 41.0,88.3 41.5,86.4 42.0,84.2 42.5,82.0 43.0,79.6 43.5,77.4 44.0,75.2 44.5,73.2 45.0,71.1 45.5,69.0 46.0,67.0 46.5,64.9 47.0,62.9 47.5,61.0 48.0,59.1 48.5,57.2 49.0,55.5 49.5,53.8 50.0,52.1 50.6,50.5 51.1,48.9 51.6,47.4 52.1,46.0 52.6,44.6 53.1,43.2 53.6,41.9 54.1,40.5 54.6,39.1 55.1,37.5 55.6,36.0 56.1,34.5 56.6,33.3 57.1,32.1 57.6,31.0 58.1,30.0 58.6,29.1 59.1,28.4 59.6,27.8 60.1,27.2 60.6,26.7 61.1,26.4 61.6,26.3 62.1,26.3 62.6,26.5 63.1,26.6 63.6,26.9 64.1,27.1 64.6,27.4 65.1,27.8 65.6,28.3 66.1,28.9 66.6,29.5 67.1,30.2 67.7,31.0 68.2,31.7 68.7,32.4 69.2,33.0 69.7,33.7 70.2,34.4 70.7,35.1 71.2,35.8 71.7,36.5 72.2,37.2 72.7,37.8 73.2,38.5 73.7,39.1 74.2,39.7 74.7,40.2 75.2,40.8 75.7,41.3 76.2,41.9 76.7,42.7 77.2,43.1 77.7,43.7 78.2,43.9 78.7,44.2 79.2,44.7 79.7,44.5 80.2,44.6 80.7,44.4 81.2,44.4 81.7,44.5 82.2,44.4 82.7,44.3 83.2,44.0 83.7,43.9 84.3,43.7 84.8,43.8 85.3,43.5 85.8,43.4 86.3,43.0 86.8,42.8 87.3,42.4 87.8,41.8 88.3,41.7 88.8,41.1 89.3,40.6 89.8,40.6 90.3,40.3 90.8,39.9 91.3,39.8 91.8,39.2 92.3,39.1 92.8,38.8 93.3,38.4 93.8,38.2 94.3,37.8 94.8,37.7 95.3,37.5 95.8,37.7 96.3,37.7 96.8,37.7 97.3,38.0 97.8,38.0 98.3,38.1 98.8,38.3 99.3,38.7 99.8,39.1 100.3,39.2 100.8,39.8 101.4,39.9 101.9,40.4 102.4,41.1 102.9,41.4 103.4,42.1 103.9,42.7 104.4,43.5 104.9,44.5 105.4,45.1 105.9,46.1 106.4,46.9 106.9,47.6 107.4,48.8 107.9,49.5 108.4,50.6 108.9,51.9 109.4,52.9 109.9,54.1 110.4,55.2 110.9,56.2 111.4,57.4 111.9,58.6 112.4,60.1 112.9,61.3 113.4,62.8 113.9,64.2 114.4,65.6 114.9,66.9 115.4,68.6 115.9,69.9 116.4,71.5 116.9,72.8 117.4,74.3 118.0,75.9 118.5,77.7 119.0,79.1 119.5,80.8 120.0,82.3 120.5,84.2 121.0,85.6 121.5,87.3 122.0,88.9 122.5,90.7 123.0,92.1 123.5,93.4 124.0,95.0 124.5,96.5 125.0,97.8 125.5,98.8 126.0,99.9 126.5,101.2 127.0,102.0 127.5,102.9 128.0,103.8 128.5,104.7 129.0,105.6 129.5,106.1 130.0,107.0 130.5,107.5 131.0,108.2 131.5,109.0 132.0,109.4 132.5,109.9 133.0,110.5 133.5,110.5 134.0,111.0 134.6,111.3 135.1,111.5 135.6,111.9 136.1,112.2 136.6,112.3 137.1,112.6 137.6,112.6 138.1,113.1 138.6,113.2 139.1,113.1 139.6,113.5 140.1,113.7 140.6,113.6 141.1,113.8 141.6,114.1 142.1,114.1 142.6,114.1 143.1,114.2 143.6,114.4 144.1,114.4 144.6,114.5 145.1,114.5 145.6,114.6 146.1,114.6 146.6,114.8 147.1,114.7 147.6,114.9 148.1,114.8 148.6,115.1 149.1,115.2 149.6,115.0 150.1,115.2 150.6,115.2 151.1,115.3 151.7,115.1 152.2,115.2 152.7,115.3 153.2,115.5 153.7,115.4 154.2,115.5 154.7,115.5 155.2,115.4 155.7,115.5 156.2,115.7 156.7,115.4 157.2,115.5 157.7,115.8 158.2,115.8 158.7,115.7 159.2,115.8 159.7,115.8 160.2,115.9 160.7,116.0 161.2,115.9 161.7,116.0 162.2,116.0 162.7,116.0 163.2,116.3 163.7,116.1 164.2,115.9 164.7,116.1 165.2,115.9 165.7,116.2 166.2,116.3 166.7,116.3 167.2,116.1 167.7,116.2 168.3,116.2 168.8,116.3 169.3,116.2 169.8,116.4 170.3,116.5 170.8,116.3 171.3,116.3 171.8,116.4 172.3,116.6 172.8,116.5 173.3,116.4 173.8,116.6 174.3,116.6 174.8,116.7 175.3,116.5 175.8,116.5 176.3,116.7" fill="none" stroke="rgb(0,0,0)" stroke-width="0.85" stroke-linejoin="round" clip-path="url(#cA)"/>
<line x1="119.2" y1="81" x2="119.2" y2="117" stroke="#222" stroke-width="0.7" stroke-dasharray="1.6,0.9"/>
<rect x="25.40" y="6.90" width="150.90" height="120.60" fill="none" stroke="#6e6e6e" stroke-width="1.0"/>
<line x1="25.40" y1="127.50" x2="25.40" y2="129.50" stroke="#6e6e6e" stroke-width="0.8"/>
<line x1="50.55" y1="127.50" x2="50.55" y2="129.50" stroke="#6e6e6e" stroke-width="0.8"/>
<line x1="75.70" y1="127.50" x2="75.70" y2="129.50" stroke="#6e6e6e" stroke-width="0.8"/>
<line x1="100.85" y1="127.50" x2="100.85" y2="129.50" stroke="#6e6e6e" stroke-width="0.8"/>
<line x1="126.00" y1="127.50" x2="126.00" y2="129.50" stroke="#6e6e6e" stroke-width="0.8"/>
<line x1="151.15" y1="127.50" x2="151.15" y2="129.50" stroke="#6e6e6e" stroke-width="0.8"/>
<line x1="176.30" y1="127.50" x2="176.30" y2="129.50" stroke="#6e6e6e" stroke-width="0.8"/>
<line x1="37.97" y1="127.50" x2="37.97" y2="128.70" stroke="#6e6e6e" stroke-width="0.7"/>
<line x1="63.12" y1="127.50" x2="63.12" y2="128.70" stroke="#6e6e6e" stroke-width="0.7"/>
<line x1="88.28" y1="127.50" x2="88.28" y2="128.70" stroke="#6e6e6e" stroke-width="0.7"/>
<line x1="113.43" y1="127.50" x2="113.43" y2="128.70" stroke="#6e6e6e" stroke-width="0.7"/>
<line x1="138.57" y1="127.50" x2="138.57" y2="128.70" stroke="#6e6e6e" stroke-width="0.7"/>
<line x1="163.73" y1="127.50" x2="163.73" y2="128.70" stroke="#6e6e6e" stroke-width="0.7"/>
<text x="25.40" y="135.96" font-size="6.3" text-anchor="middle" class="tl">300</text>
<text x="50.55" y="135.96" font-size="6.3" text-anchor="middle" class="tl">350</text>
<text x="75.70" y="135.96" font-size="6.3" text-anchor="middle" class="tl">400</text>
<text x="100.85" y="135.96" font-size="6.3" text-anchor="middle" class="tl">450</text>
<text x="126.00" y="135.96" font-size="6.3" text-anchor="middle" class="tl">500</text>
<text x="151.15" y="135.96" font-size="6.3" text-anchor="middle" class="tl">550</text>
<text x="176.30" y="135.96" font-size="6.3" text-anchor="middle" class="tl">600</text>
<line x1="23.40" y1="116.10" x2="25.40" y2="116.10" stroke="#6e6e6e" stroke-width="0.8"/>
<line x1="23.40" y1="61.60" x2="25.40" y2="61.60" stroke="#6e6e6e" stroke-width="0.8"/>
<line x1="23.40" y1="7.10" x2="25.40" y2="7.10" stroke="#6e6e6e" stroke-width="0.8"/>
<line x1="24.20" y1="88.85" x2="25.40" y2="88.85" stroke="#6e6e6e" stroke-width="0.7"/>
<line x1="24.20" y1="34.35" x2="25.40" y2="34.35" stroke="#6e6e6e" stroke-width="0.7"/>
<text x="22.20" y="118.36" font-size="6.3" text-anchor="end" class="tl">0.0</text>
<text x="22.20" y="63.86" font-size="6.3" text-anchor="end" class="tl">0.1</text>
<text x="22.20" y="9.36" font-size="6.3" text-anchor="end" class="tl">0.2</text>
<text x="30.10" y="17.40" font-size="9.2" text-anchor="start" font-weight="bold" fill="#111" stroke="#111" stroke-width="0.3" >A</text>
<text x="0" y="0" font-size="6.5" text-anchor="middle" font-weight="bold" fill="#111" stroke="#111" stroke-width="0.3" transform="translate(10.93,67.40) rotate(-90)">Absorption</text>
<text x="101.00" y="146.50" font-size="6.3" text-anchor="middle" font-weight="bold" fill="#111" stroke="#111" stroke-width="0.3" >Wavelength (nm)</text>
<line x1="39.80" y1="22.80" x2="39.80" y2="36.00" stroke="#bbb" stroke-width="0.7"/>
<path d="M38.90,34.20L40.70,34.20L39.80,36.00Z" fill="#333"/>
<line x1="95.70" y1="34.20" x2="95.70" y2="23.10" stroke="#bbb" stroke-width="0.7"/>
<path d="M94.80,24.90L96.60,24.90L95.70,23.10Z" fill="#333"/>
<text x="101.00" y="31.00" font-size="5.8" text-anchor="start" font-weight="normal" fill="#222" stroke="#222" stroke-width="0.2" >0-40 uM NaHS</text>
<rect x="205.60" y="6.50" width="153.40" height="122.80" fill="none" stroke="#6e6e6e" stroke-width="1.0"/>
<path d="M209.30,19.17V23.63M208.10,19.17H210.50M208.10,23.63H210.50" stroke="#444" stroke-width="0.6" fill="none"/>
<rect x="207.50" y="19.60" width="3.60" height="3.60" rx="0.9" fill="#444444"/>
<path d="M216.61,23.02V26.36M215.41,23.02H217.81M215.41,26.36H217.81" stroke="#444" stroke-width="0.6" fill="none"/>
<rect x="214.81" y="22.89" width="3.60" height="3.60" rx="0.9" fill="#444444"/>
<path d="M223.92,25.08V29.55M222.72,25.08H225.12M222.72,29.55H225.12" stroke="#444" stroke-width="0.6" fill="none"/>
<rect x="222.12" y="25.51" width="3.60" height="3.60" rx="0.9" fill="#444444"/>
<path d="M231.23,25.64V28.99M230.03,25.64H232.43M230.03,28.99H232.43" stroke="#444" stroke-width="0.6" fill="none"/>
<rect x="229.43" y="25.51" width="3.60" height="3.60" rx="0.9" fill="#444444"/>
<path d="M238.54,32.00V34.23M237.34,32.00H239.74M237.34,34.23H239.74" stroke="#444" stroke-width="0.6" fill="none"/>
<rect x="236.74" y="31.32" width="3.60" height="3.60" rx="0.9" fill="#444444"/>
<path d="M245.85,32.17V35.52M244.65,32.17H247.05M244.65,35.52H247.05" stroke="#444" stroke-width="0.6" fill="none"/>
<rect x="244.05" y="32.04" width="3.60" height="3.60" rx="0.9" fill="#444444"/>
<path d="M253.16,33.28V37.75M251.96,33.28H254.36M251.96,37.75H254.36" stroke="#444" stroke-width="0.6" fill="none"/>
<rect x="251.36" y="33.72" width="3.60" height="3.60" rx="0.9" fill="#444444"/>
<path d="M260.47,36.91V39.14M259.27,36.91H261.67M259.27,39.14H261.67" stroke="#444" stroke-width="0.6" fill="none"/>
<rect x="258.67" y="36.23" width="3.60" height="3.60" rx="0.9" fill="#444444"/>
<path d="M267.78,37.86V40.09M266.58,37.86H268.98M266.58,40.09H268.98" stroke="#444" stroke-width="0.6" fill="none"/>
<rect x="265.98" y="37.18" width="3.60" height="3.60" rx="0.9" fill="#444444"/>
<path d="M275.09,41.10V48.35M273.89,41.10H276.29M273.89,48.35H276.29" stroke="#444" stroke-width="0.6" fill="none"/>
<rect x="273.29" y="42.92" width="3.60" height="3.60" rx="0.9" fill="#444444"/>
<path d="M282.40,38.47V45.17M281.20,38.47H283.60M281.20,45.17H283.60" stroke="#444" stroke-width="0.6" fill="none"/>
<rect x="280.60" y="40.02" width="3.60" height="3.60" rx="0.9" fill="#444444"/>
<path d="M289.71,41.10V45.56M288.51,41.10H290.91M288.51,45.56H290.91" stroke="#444" stroke-width="0.6" fill="none"/>
<rect x="287.91" y="41.53" width="3.60" height="3.60" rx="0.9" fill="#444444"/>
<path d="M300.68,47.79V50.02M299.48,47.79H301.88M299.48,50.02H301.88" stroke="#444" stroke-width="0.6" fill="none"/>
<rect x="298.88" y="47.11" width="3.60" height="3.60" rx="0.9" fill="#444444"/>
<path d="M318.95,49.63V54.10M317.75,49.63H320.15M317.75,54.10H320.15" stroke="#444" stroke-width="0.6" fill="none"/>
<rect x="317.15" y="50.07" width="3.60" height="3.60" rx="0.9" fill="#444444"/>
<path d="M337.23,52.48V56.94M336.03,52.48H338.43M336.03,56.94H338.43" stroke="#444" stroke-width="0.6" fill="none"/>
<rect x="335.43" y="52.91" width="3.60" height="3.60" rx="0.9" fill="#444444"/>
<path d="M355.50,53.93V58.39M354.30,53.93H356.70M354.30,58.39H356.70" stroke="#444" stroke-width="0.6" fill="none"/>
<rect x="353.70" y="54.36" width="3.60" height="3.60" rx="0.9" fill="#444444"/>
<circle cx="209.30" cy="123.12" r="1.95" fill="#f22a2a"/>
<circle cx="216.61" cy="120.33" r="1.95" fill="#f22a2a"/>
<circle cx="223.92" cy="117.54" r="1.95" fill="#f22a2a"/>
<circle cx="231.23" cy="111.68" r="1.95" fill="#f22a2a"/>
<circle cx="238.54" cy="107.72" r="1.95" fill="#f22a2a"/>
<circle cx="245.85" cy="100.80" r="1.95" fill="#f22a2a"/>
<circle cx="253.16" cy="95.39" r="1.95" fill="#f22a2a"/>
<circle cx="260.47" cy="89.92" r="1.95" fill="#f22a2a"/>
<circle cx="267.78" cy="82.39" r="1.95" fill="#f22a2a"/>
<circle cx="275.09" cy="78.09" r="1.95" fill="#f22a2a"/>
<circle cx="282.40" cy="70.50" r="1.95" fill="#f22a2a"/>
<circle cx="289.71" cy="62.86" r="1.95" fill="#f22a2a"/>
<circle cx="300.68" cy="55.05" r="1.95" fill="#f22a2a"/>
<circle cx="318.95" cy="45.00" r="1.95" fill="#f22a2a"/>
<circle cx="337.23" cy="38.03" r="1.95" fill="#f22a2a"/>
<circle cx="355.50" cy="37.75" r="1.95" fill="#f22a2a"/>
<line x1="209.30" y1="129.30" x2="209.30" y2="131.30" stroke="#6e6e6e" stroke-width="0.8"/>
<line x1="245.85" y1="129.30" x2="245.85" y2="131.30" stroke="#6e6e6e" stroke-width="0.8"/>
<line x1="282.40" y1="129.30" x2="282.40" y2="131.30" stroke="#6e6e6e" stroke-width="0.8"/>
<line x1="318.95" y1="129.30" x2="318.95" y2="131.30" stroke="#6e6e6e" stroke-width="0.8"/>
<line x1="355.50" y1="129.30" x2="355.50" y2="131.30" stroke="#6e6e6e" stroke-width="0.8"/>
<line x1="227.58" y1="129.30" x2="227.58" y2="130.50" stroke="#6e6e6e" stroke-width="0.7"/>
<line x1="264.12" y1="129.30" x2="264.12" y2="130.50" stroke="#6e6e6e" stroke-width="0.7"/>
<line x1="300.68" y1="129.30" x2="300.68" y2="130.50" stroke="#6e6e6e" stroke-width="0.7"/>
<line x1="337.23" y1="129.30" x2="337.23" y2="130.50" stroke="#6e6e6e" stroke-width="0.7"/>
<text x="209.30" y="138.86" font-size="6.3" text-anchor="middle" class="tl">0</text>
<text x="245.85" y="138.86" font-size="6.3" text-anchor="middle" class="tl">10</text>
<text x="282.40" y="138.86" font-size="6.3" text-anchor="middle" class="tl">20</text>
<text x="318.95" y="138.86" font-size="6.3" text-anchor="middle" class="tl">30</text>
<text x="355.50" y="138.86" font-size="6.3" text-anchor="middle" class="tl">40</text>
<line x1="203.60" y1="118.10" x2="205.60" y2="118.10" stroke="#6e6e6e" stroke-width="0.8"/>
<line x1="203.60" y1="90.20" x2="205.60" y2="90.20" stroke="#6e6e6e" stroke-width="0.8"/>
<line x1="203.60" y1="62.30" x2="205.60" y2="62.30" stroke="#6e6e6e" stroke-width="0.8"/>
<line x1="203.60" y1="34.40" x2="205.60" y2="34.40" stroke="#6e6e6e" stroke-width="0.8"/>
<line x1="203.60" y1="6.50" x2="205.60" y2="6.50" stroke="#6e6e6e" stroke-width="0.8"/>
<line x1="204.40" y1="104.15" x2="205.60" y2="104.15" stroke="#6e6e6e" stroke-width="0.7"/>
<line x1="204.40" y1="76.25" x2="205.60" y2="76.25" stroke="#6e6e6e" stroke-width="0.7"/>
<line x1="204.40" y1="48.35" x2="205.60" y2="48.35" stroke="#6e6e6e" stroke-width="0.7"/>
<line x1="204.40" y1="20.45" x2="205.60" y2="20.45" stroke="#6e6e6e" stroke-width="0.7"/>
<text x="201.90" y="120.36" font-size="6.3" text-anchor="end" class="tl">0.00</text>
<text x="201.90" y="92.46" font-size="6.3" text-anchor="end" class="tl">0.05</text>
<text x="201.90" y="64.56" font-size="6.3" text-anchor="end" class="tl">0.10</text>
<text x="201.90" y="36.66" font-size="6.3" text-anchor="end" class="tl">0.15</text>
<text x="201.90" y="8.76" font-size="6.3" text-anchor="end" class="tl">0.20</text>
<text x="208.70" y="16.80" font-size="8.5" text-anchor="start" font-weight="bold" fill="#111" stroke="#111" stroke-width="0.3" >B</text>
<text x="0" y="0" font-size="6.9" text-anchor="middle" font-weight="bold" fill="#111" stroke="#111" stroke-width="0.3" transform="translate(186.77,67.70) rotate(-90)">Absorption</text>
<text x="280.70" y="148.90" font-size="6.9" text-anchor="middle" font-weight="bold" fill="#111" stroke="#111" stroke-width="0.3" >[NaHS] μM</text>
<rect x="316.8" y="11.3" width="37.2" height="15.0" fill="#000"/>
<rect x="315.3" y="9.8" width="37.4" height="15.0" fill="#fff" stroke="#999" stroke-width="0.5"/>
<rect x="321.25" y="12.45" width="3.30" height="3.30" rx="0.2" fill="#3c3c3c"/>
<circle cx="322.70" cy="21.00" r="1.80" fill="#f22a2a"/>
<text x="330.80" y="16.10" font-size="5.7" text-anchor="start" font-weight="normal" fill="#222" stroke="#222" stroke-width="0.2" >347 nm</text>
<text x="330.80" y="23.00" font-size="5.7" text-anchor="start" font-weight="normal" fill="#222" stroke="#222" stroke-width="0.2" >441 nm</text>
<rect x="393.10" y="8.20" width="152.40" height="122.00" fill="none" stroke="#6e6e6e" stroke-width="1.0"/>
<line x1="404.21" y1="118.85" x2="532.00" y2="24.39" stroke="#ff3535" stroke-width="1.0"/>
<rect x="402.76" y="117.89" width="2.90" height="2.90" rx="0.6" fill="#111"/>
<rect x="413.87" y="110.87" width="2.90" height="2.90" rx="0.6" fill="#111"/>
<rect x="424.99" y="102.11" width="2.90" height="2.90" rx="0.6" fill="#111"/>
<rect x="436.10" y="92.40" width="2.90" height="2.90" rx="0.6" fill="#111"/>
<rect x="447.21" y="84.44" width="2.90" height="2.90" rx="0.6" fill="#111"/>
<rect x="458.32" y="75.67" width="2.90" height="2.90" rx="0.6" fill="#111"/>
<rect x="469.43" y="66.77" width="2.90" height="2.90" rx="0.6" fill="#111"/>
<rect x="480.55" y="58.54" width="2.90" height="2.90" rx="0.6" fill="#111"/>
<rect x="491.66" y="49.51" width="2.90" height="2.90" rx="0.6" fill="#111"/>
<rect x="502.77" y="43.03" width="2.90" height="2.90" rx="0.6" fill="#111"/>
<rect x="513.88" y="34.26" width="2.90" height="2.90" rx="0.6" fill="#111"/>
<rect x="530.55" y="26.71" width="2.90" height="2.90" rx="0.6" fill="#111"/>
<line x1="393.10" y1="130.20" x2="393.10" y2="132.20" stroke="#6e6e6e" stroke-width="0.8"/>
<line x1="420.88" y1="130.20" x2="420.88" y2="132.20" stroke="#6e6e6e" stroke-width="0.8"/>
<line x1="448.66" y1="130.20" x2="448.66" y2="132.20" stroke="#6e6e6e" stroke-width="0.8"/>
<line x1="476.44" y1="130.20" x2="476.44" y2="132.20" stroke="#6e6e6e" stroke-width="0.8"/>
<line x1="504.22" y1="130.20" x2="504.22" y2="132.20" stroke="#6e6e6e" stroke-width="0.8"/>
<line x1="532.00" y1="130.20" x2="532.00" y2="132.20" stroke="#6e6e6e" stroke-width="0.8"/>
<line x1="406.99" y1="130.20" x2="406.99" y2="131.40" stroke="#6e6e6e" stroke-width="0.7"/>
<line x1="434.77" y1="130.20" x2="434.77" y2="131.40" stroke="#6e6e6e" stroke-width="0.7"/>
<line x1="462.55" y1="130.20" x2="462.55" y2="131.40" stroke="#6e6e6e" stroke-width="0.7"/>
<line x1="490.33" y1="130.20" x2="490.33" y2="131.40" stroke="#6e6e6e" stroke-width="0.7"/>
<line x1="518.11" y1="130.20" x2="518.11" y2="131.40" stroke="#6e6e6e" stroke-width="0.7"/>
<text x="393.10" y="139.76" font-size="6.3" text-anchor="middle" class="tl">0</text>
<text x="420.88" y="139.76" font-size="6.3" text-anchor="middle" class="tl">5</text>
<text x="448.66" y="139.76" font-size="6.3" text-anchor="middle" class="tl">10</text>
<text x="476.44" y="139.76" font-size="6.3" text-anchor="middle" class="tl">15</text>
<text x="504.22" y="139.76" font-size="6.3" text-anchor="middle" class="tl">20</text>
<text x="532.00" y="139.76" font-size="6.3" text-anchor="middle" class="tl">25</text>
<line x1="391.10" y1="116.10" x2="393.10" y2="116.10" stroke="#6e6e6e" stroke-width="0.8"/>
<line x1="391.10" y1="89.12" x2="393.10" y2="89.12" stroke="#6e6e6e" stroke-width="0.8"/>
<line x1="391.10" y1="62.15" x2="393.10" y2="62.15" stroke="#6e6e6e" stroke-width="0.8"/>
<line x1="391.10" y1="35.17" x2="393.10" y2="35.17" stroke="#6e6e6e" stroke-width="0.8"/>
<line x1="391.10" y1="8.20" x2="393.10" y2="8.20" stroke="#6e6e6e" stroke-width="0.8"/>
<line x1="391.90" y1="102.61" x2="393.10" y2="102.61" stroke="#6e6e6e" stroke-width="0.7"/>
<line x1="391.90" y1="75.64" x2="393.10" y2="75.64" stroke="#6e6e6e" stroke-width="0.7"/>
<line x1="391.90" y1="48.66" x2="393.10" y2="48.66" stroke="#6e6e6e" stroke-width="0.7"/>
<line x1="391.90" y1="21.69" x2="393.10" y2="21.69" stroke="#6e6e6e" stroke-width="0.7"/>
<text x="389.60" y="118.36" font-size="6.3" text-anchor="end" class="tl">0.2</text>
<text x="389.60" y="91.38" font-size="6.3" text-anchor="end" class="tl">0.4</text>
<text x="389.60" y="64.41" font-size="6.3" text-anchor="end" class="tl">0.6</text>
<text x="389.60" y="37.43" font-size="6.3" text-anchor="end" class="tl">0.8</text>
<text x="389.60" y="10.46" font-size="6.3" text-anchor="end" class="tl">1.0</text>
<text x="397.50" y="20.80" font-size="9.2" text-anchor="start" font-weight="bold" fill="#111" stroke="#111" stroke-width="0.3" >E</text>
<text x="0" y="0" font-size="6.7" font-weight="bold" fill="#111" stroke="#111" stroke-width="0.25" transform="translate(375.9,79.2) rotate(-90)">F<tspan font-size="4.5" dy="1.4">510 nm</tspan></text>
<text x="462.70" y="149.30" font-size="6.75" text-anchor="middle" font-weight="bold" fill="#111" stroke="#111" stroke-width="0.3" >[NaHS] μM</text>
<rect x="464.3" y="77.4" width="79.50" height="49.70" fill="#fff" stroke="#bbb" stroke-width="0.6"/>
<line x1="464.3" y1="82.92" x2="543.8" y2="82.92" stroke="#ccc" stroke-width="0.6"/>
<line x1="464.3" y1="88.44" x2="543.8" y2="88.44" stroke="#ccc" stroke-width="0.6"/>
<line x1="464.3" y1="93.97" x2="543.8" y2="93.97" stroke="#ccc" stroke-width="0.6"/>
<line x1="464.3" y1="99.49" x2="543.8" y2="99.49" stroke="#ccc" stroke-width="0.6"/>
<line x1="464.3" y1="105.01" x2="543.8" y2="105.01" stroke="#ccc" stroke-width="0.6"/>
<line x1="464.3" y1="110.53" x2="543.8" y2="110.53" stroke="#ccc" stroke-width="0.6"/>
<line x1="464.3" y1="116.06" x2="543.8" y2="116.06" stroke="#ccc" stroke-width="0.6"/>
<line x1="464.3" y1="121.58" x2="543.8" y2="121.58" stroke="#ccc" stroke-width="0.6"/>
<line x1="507.0" y1="77.4" x2="507.0" y2="127.1" stroke="#ccc" stroke-width="0.6"/>
<text x="465.30" y="81.56" font-size="4.1" text-anchor="start" font-weight="normal" fill="#444" stroke="#444" stroke-width="0.2" >Equation</text>
<text x="525.40" y="81.56" font-size="4.1" text-anchor="middle" font-weight="normal" fill="#444" stroke="#444" stroke-width="0.2" >y = a + b*x</text>
<text x="465.30" y="87.08" font-size="4.1" text-anchor="start" font-weight="normal" fill="#444" stroke="#444" stroke-width="0.2" >Plot</text>
<text x="525.40" y="87.08" font-size="4.1" text-anchor="middle" font-weight="normal" fill="#444" stroke="#444" stroke-width="0.2" >B</text>
<text x="465.30" y="92.61" font-size="4.1" text-anchor="start" font-weight="normal" fill="#444" stroke="#444" stroke-width="0.2" >Weight</text>
<text x="525.40" y="92.61" font-size="4.1" text-anchor="middle" font-weight="normal" fill="#444" stroke="#444" stroke-width="0.2" >No Weighting</text>
<text x="465.30" y="98.13" font-size="4.1" text-anchor="start" font-weight="normal" fill="#444" stroke="#444" stroke-width="0.2" >Intercept</text>
<text x="525.40" y="98.13" font-size="4.1" text-anchor="middle" font-weight="normal" fill="#444" stroke="#444" stroke-width="0.2" >0.11874 ± 0.00779</text>
<text x="465.30" y="103.65" font-size="4.1" text-anchor="start" font-weight="normal" fill="#444" stroke="#444" stroke-width="0.2" >Slope</text>
<text x="525.40" y="103.65" font-size="4.1" text-anchor="middle" font-weight="normal" fill="#444" stroke="#444" stroke-width="0.2" >0.03045 ± 5.24525E</text>
<text x="465.30" y="109.17" font-size="4.1" text-anchor="start" font-weight="normal" fill="#444" stroke="#444" stroke-width="0.2" >Residual Sum of Squa</text>
<text x="525.40" y="109.17" font-size="4.1" text-anchor="middle" font-weight="normal" fill="#444" stroke="#444" stroke-width="0.2" >0.00184</text>
<text x="465.30" y="114.69" font-size="4.1" text-anchor="start" font-weight="normal" fill="#444" stroke="#444" stroke-width="0.2" >Pearson's r</text>
<text x="525.40" y="114.69" font-size="4.1" text-anchor="middle" font-weight="normal" fill="#444" stroke="#444" stroke-width="0.2" >0.99852</text>
<text x="465.30" y="120.22" font-size="4.1" text-anchor="start" font-weight="normal" fill="#444" stroke="#444" stroke-width="0.2" >R-Square (COD)</text>
<text x="525.40" y="120.22" font-size="4.1" text-anchor="middle" font-weight="normal" fill="#444" stroke="#444" stroke-width="0.2" >0.99704</text>
<text x="465.30" y="125.74" font-size="4.1" text-anchor="start" font-weight="normal" fill="#444" stroke="#444" stroke-width="0.2" >Adj. R-Square</text>
<text x="525.40" y="125.74" font-size="4.1" text-anchor="middle" font-weight="normal" fill="#444" stroke="#444" stroke-width="0.2" >0.99675</text>
<clipPath id="cC"><rect x="22.2" y="159.5" width="153.20000000000002" height="122.89999999999998"/></clipPath>
<polyline points="20.1,276.3 20.6,275.7 21.1,275.2 21.6,274.6 22.1,273.9 22.6,273.1 23.1,272.2 23.6,271.2 24.0,270.2 24.5,269.2 25.0,268.3 25.5,267.5 26.0,266.6 26.5,265.7 27.0,264.9 27.5,264.1 28.0,263.3 28.5,262.6 29.0,261.8 29.5,261.1 30.0,260.3 30.5,259.4 31.0,258.7 31.4,258.4 31.9,258.6 32.4,258.9 32.9,259.8 33.4,260.9 33.9,261.4 34.4,261.4 34.9,261.3 35.4,261.1 35.9,260.8 36.4,260.4 36.9,259.9 37.4,259.4 37.9,258.9 38.3,258.6 38.8,258.2 39.3,257.9 39.8,257.6 40.3,257.3 40.8,257.0 41.3,256.6 41.8,256.2 42.3,255.8 42.8,255.3 43.3,254.8 43.8,254.3 44.3,253.7 44.8,253.1 45.2,252.5 45.7,251.9 46.2,251.3 46.7,250.6 47.2,249.9 47.7,249.2 48.2,248.5 48.7,247.8 49.2,247.0 49.7,246.3 50.2,245.6 50.7,244.9 51.2,244.2 51.7,243.4 52.2,242.5 52.6,241.6 53.1,240.5 53.6,239.3 54.1,238.0 54.6,236.5 55.1,235.0 55.6,233.5 56.1,231.8 56.6,230.1 57.1,228.2 57.6,226.3 58.1,224.4 58.6,222.6 59.1,220.9 59.5,219.2 60.0,217.4 60.5,215.7 61.0,214.1 61.5,212.4 62.0,210.7 62.5,209.0 63.0,207.4 63.5,205.7 64.0,204.0 64.5,202.4 65.0,200.8 65.5,199.2 66.0,197.7 66.4,196.2 66.9,194.8 67.4,193.3 67.9,191.9 68.4,190.6 68.9,189.3 69.4,188.0 69.9,186.9 70.4,185.8 70.9,184.7 71.4,183.6 71.9,182.6 72.4,181.7 72.9,180.8 73.3,180.0 73.8,179.3 74.3,178.6 74.8,178.0 75.3,177.5 75.8,177.0 76.3,176.5 76.8,176.2 77.3,176.0 77.8,175.8 78.3,175.6 78.8,175.4 79.3,175.3 79.8,175.3 80.3,175.3 80.7,175.3 81.2,175.4 81.7,175.5 82.2,175.7 82.7,175.8 83.2,176.0 83.7,176.3 84.2,176.7 84.7,177.1 85.2,177.6 85.7,178.1 86.2,178.7 86.7,179.3 87.2,179.9 87.6,180.6 88.1,181.3 88.6,182.2 89.1,183.0 89.6,184.0 90.1,184.9 90.6,185.9 91.1,186.9 91.6,187.9 92.1,189.0 92.6,190.2 93.1,191.4 93.6,192.6 94.1,194.0 94.5,195.3 95.0,196.6 95.5,198.0 96.0,199.4 96.5,200.7 97.0,202.0 97.5,203.4 98.0,204.7 98.5,206.0 99.0,207.4 99.5,208.7 100.0,210.1 100.5,211.4 101.0,212.7 101.4,214.0 101.9,215.2 102.4,216.4 102.9,217.7 103.4,218.9 103.9,220.1 104.4,221.2 104.9,222.4 105.4,223.6 105.9,224.8 106.4,226.0 106.9,227.2 107.4,228.5 107.9,229.7 108.4,231.0 108.8,232.2 109.3,233.4 109.8,234.6 110.3,235.7 110.8,236.8 111.3,237.8 111.8,238.8 112.3,239.7 112.8,240.6 113.3,241.4 113.8,242.2 114.3,243.0 114.8,243.8 115.3,244.6 115.7,245.4 116.2,246.1 116.7,246.8 117.2,247.6 117.7,248.3 118.2,249.0 118.7,249.7 119.2,250.4 119.7,251.1 120.2,251.8 120.7,252.4 121.2,253.1 121.7,253.8 122.2,254.4 122.6,255.0 123.1,255.6 123.6,256.2 124.1,256.8 124.6,257.3 125.1,257.9 125.6,258.4 126.1,258.9 126.6,259.4 127.1,259.9 127.6,260.4 128.1,260.9 128.6,261.4 129.1,261.9 129.6,262.3 130.0,262.7 130.5,263.2 131.0,263.6 131.5,264.0 132.0,264.4 132.5,264.7 133.0,265.1 133.5,265.5 134.0,265.8 134.5,266.2 135.0,266.5 135.5,266.9 136.0,267.2 136.5,267.5 136.9,267.8 137.4,268.1 137.9,268.4 138.4,268.7 138.9,269.0 139.4,269.3 139.9,269.5 140.4,269.8 140.9,270.0 141.4,270.2 141.9,270.4 142.4,270.7 142.9,270.9 143.4,271.1 143.8,271.3 144.3,271.5 144.8,271.7 145.3,271.8 145.8,272.0 146.3,272.2 146.8,272.4 147.3,272.5 147.8,272.7 148.3,272.9 148.8,273.0 149.3,273.2 149.8,273.3 150.3,273.4 150.8,273.6 151.2,273.7 151.7,273.8 152.2,274.0 152.7,274.1 153.2,274.2 153.7,274.4 154.2,274.5 154.7,274.6 155.2,274.7 155.7,274.8 156.2,274.9 156.7,275.0 157.2,275.1 157.7,275.2 158.1,275.3 158.6,275.4 159.1,275.5 159.6,275.6 160.1,275.7 160.6,275.7 161.1,275.8 161.6,275.9 162.1,275.9 162.6,276.0 163.1,276.1 163.6,276.1 164.1,276.2 164.6,276.2 165.0,276.3 165.5,276.3 166.0,276.4 166.5,276.4 167.0,276.5 167.5,276.5 168.0,276.6 168.5,276.6 169.0,276.7 169.5,276.7 170.0,276.8 170.5,276.8 171.0,276.8 171.5,276.9 171.9,276.9 172.4,277.0 172.9,277.0 173.4,277.1 173.9,277.1 174.4,277.2 174.9,277.2 175.4,277.3" fill="none" stroke="#e02020" stroke-width="0.85" stroke-linejoin="round" clip-path="url(#cC)"/>
<polyline points="20.1,272.5 20.6,270.2 21.1,268.1 21.6,265.7 22.1,262.7 22.6,258.4 23.1,252.8 23.6,246.4 24.0,240.0 24.5,233.2 25.0,225.8 25.5,218.5 26.0,211.8 26.5,205.7 27.0,199.7 27.5,194.4 28.0,190.1 28.5,186.6 29.0,183.6 29.5,181.4 30.0,179.8 30.5,178.5 31.0,177.6 31.4,177.2 31.9,176.8 32.4,176.6 32.9,176.4 33.4,176.2 33.9,176.0 34.4,175.6 34.9,174.8 35.4,174.0 35.9,173.3 36.4,172.7 36.9,172.0 37.4,171.5 37.9,171.1 38.3,171.0 38.8,170.9 39.3,170.8 39.8,170.9 40.3,171.1 40.8,171.4 41.3,171.7 41.8,172.2 42.3,172.8 42.8,173.6 43.3,174.4 43.8,175.2 44.3,176.0 44.8,176.9 45.2,177.8 45.7,178.7 46.2,179.7 46.7,180.8 47.2,181.9 47.7,183.0 48.2,184.1 48.7,185.4 49.2,186.6 49.7,187.9 50.2,189.3 50.7,190.7 51.2,192.0 51.7,193.5 52.2,194.9 52.6,196.5 53.1,198.1 53.6,199.9 54.1,201.8 54.6,203.9 55.1,206.0 55.6,208.2 56.1,210.4 56.6,212.7 57.1,215.3 57.6,217.9 58.1,220.4 58.6,222.6 59.1,224.7 59.5,226.7 60.0,228.7 60.5,230.5 61.0,232.3 61.5,234.0 62.0,235.6 62.5,237.2 63.0,238.7 63.5,240.2 64.0,241.6 64.5,242.9 65.0,244.2 65.5,245.4 66.0,246.5 66.4,247.5 66.9,248.5 67.4,249.5 67.9,250.5 68.4,251.4 68.9,252.2 69.4,253.0 69.9,253.8 70.4,254.5 70.9,255.2 71.4,255.8 71.9,256.3 72.4,256.9 72.9,257.4 73.3,257.9 73.8,258.4 74.3,258.8 74.8,259.2 75.3,259.6 75.8,260.0 76.3,260.4 76.8,260.8 77.3,261.1 77.8,261.5 78.3,261.8 78.8,262.2 79.3,262.5 79.8,262.8 80.3,263.1 80.7,263.3 81.2,263.6 81.7,263.8 82.2,264.1 82.7,264.3 83.2,264.5 83.7,264.7 84.2,264.9 84.7,265.1 85.2,265.2 85.7,265.4 86.2,265.6 86.7,265.7 87.2,265.9 87.6,266.1 88.1,266.2 88.6,266.4 89.1,266.5 89.6,266.7 90.1,266.8 90.6,267.0 91.1,267.1 91.6,267.3 92.1,267.4 92.6,267.5 93.1,267.7 93.6,267.8 94.1,267.9 94.5,268.1 95.0,268.2 95.5,268.3 96.0,268.5 96.5,268.6 97.0,268.7 97.5,268.9 98.0,269.0 98.5,269.1 99.0,269.2 99.5,269.4 100.0,269.5 100.5,269.6 101.0,269.8 101.4,269.9 101.9,270.1 102.4,270.2 102.9,270.3 103.4,270.5 103.9,270.6 104.4,270.7 104.9,270.9 105.4,271.0 105.9,271.2 106.4,271.3 106.9,271.4 107.4,271.5 107.9,271.7 108.4,271.8 108.8,271.9 109.3,272.0 109.8,272.2 110.3,272.3 110.8,272.4 111.3,272.5 111.8,272.6 112.3,272.7 112.8,272.8 113.3,272.9 113.8,273.0 114.3,273.1 114.8,273.2 115.3,273.3 115.7,273.4 116.2,273.5 116.7,273.6 117.2,273.7 117.7,273.8 118.2,273.9 118.7,274.0 119.2,274.1 119.7,274.2 120.2,274.3 120.7,274.4 121.2,274.5 121.7,274.5 122.2,274.6 122.6,274.7 123.1,274.8 123.6,274.9 124.1,274.9 124.6,275.0 125.1,275.1 125.6,275.1 126.1,275.2 126.6,275.3 127.1,275.3 127.6,275.4 128.1,275.5 128.6,275.5 129.1,275.6 129.6,275.6 130.0,275.7 130.5,275.8 131.0,275.8 131.5,275.9 132.0,275.9 132.5,276.0 133.0,276.1 133.5,276.1 134.0,276.2 134.5,276.2 135.0,276.3 135.5,276.3 136.0,276.4 136.5,276.4 136.9,276.5 137.4,276.5 137.9,276.6 138.4,276.6 138.9,276.7 139.4,276.7 139.9,276.8 140.4,276.8 140.9,276.9 141.4,276.9 141.9,277.0 142.4,277.0 142.9,277.0 143.4,277.1 143.8,277.1 144.3,277.2 144.8,277.2 145.3,277.2 145.8,277.3 146.3,277.3 146.8,277.4 147.3,277.4 147.8,277.4 148.3,277.4 148.8,277.5 149.3,277.5 149.8,277.5 150.3,277.6 150.8,277.6 151.2,277.6 151.7,277.6 152.2,277.7 152.7,277.7 153.2,277.7 153.7,277.7 154.2,277.8 154.7,277.8 155.2,277.8 155.7,277.8 156.2,277.8 156.7,277.9 157.2,277.9 157.7,277.9 158.1,277.9 158.6,277.9 159.1,277.9 159.6,278.0 160.1,278.0 160.6,278.0 161.1,278.0 161.6,278.0 162.1,278.0 162.6,278.1 163.1,278.1 163.6,278.1 164.1,278.1 164.6,278.1 165.0,278.1 165.5,278.1 166.0,278.2 166.5,278.2 167.0,278.2 167.5,278.2 168.0,278.2 168.5,278.2 169.0,278.3 169.5,278.3 170.0,278.3 170.5,278.3 171.0,278.3 171.5,278.3 171.9,278.3 172.4,278.4 172.9,278.4 173.4,278.4 173.9,278.4 174.4,278.4 174.9,278.4 175.4,278.5" fill="none" stroke="rgb(115,115,115)" stroke-width="0.85" stroke-linejoin="round" clip-path="url(#cC)"/>
<polyline points="20.1,272.9 20.6,270.9 21.1,268.9 21.6,266.8 22.1,264.1 22.6,260.2 23.1,255.1 23.6,249.4 24.0,243.6 24.5,237.5 25.0,230.9 25.5,224.3 26.0,218.3 26.5,212.8 27.0,207.5 27.5,202.8 28.0,198.9 28.5,195.7 29.0,193.0 29.5,191.0 30.0,189.4 30.5,188.2 31.0,187.3 31.4,186.9 31.9,186.6 32.4,186.4 32.9,186.3 33.4,186.4 33.9,186.2 34.4,185.8 34.9,185.2 35.4,184.4 35.9,183.8 36.4,183.2 36.9,182.5 37.4,182.0 37.9,181.6 38.3,181.5 38.8,181.3 39.3,181.2 39.8,181.3 40.3,181.4 40.8,181.6 41.3,181.8 41.8,182.2 42.3,182.7 42.8,183.4 43.3,184.0 43.8,184.6 44.3,185.3 44.8,186.0 45.2,186.7 45.7,187.5 46.2,188.3 46.7,189.1 47.2,190.0 47.7,190.9 48.2,191.8 48.7,192.8 49.2,193.8 49.7,194.9 50.2,195.9 50.7,197.1 51.2,198.2 51.7,199.3 52.2,200.5 52.6,201.7 53.1,203.0 53.6,204.4 54.1,205.9 54.6,207.5 55.1,209.1 55.6,210.8 56.1,212.6 56.6,214.5 57.1,216.5 57.6,218.6 58.1,220.7 58.6,222.6 59.1,224.4 59.5,226.2 60.0,227.9 60.5,229.6 61.0,231.2 61.5,232.8 62.0,234.3 62.5,235.7 63.0,237.1 63.5,238.5 64.0,239.8 64.5,241.0 65.0,242.2 65.5,243.3 66.0,244.3 66.4,245.3 66.9,246.2 67.4,247.1 67.9,247.9 68.4,248.7 68.9,249.5 69.4,250.2 69.9,250.9 70.4,251.5 70.9,252.1 71.4,252.6 71.9,253.2 72.4,253.6 72.9,254.1 73.3,254.5 73.8,255.0 74.3,255.4 74.8,255.7 75.3,256.1 75.8,256.5 76.3,256.8 76.8,257.1 77.3,257.5 77.8,257.8 78.3,258.1 78.8,258.4 79.3,258.7 79.8,259.0 80.3,259.3 80.7,259.5 81.2,259.8 81.7,260.0 82.2,260.3 82.7,260.5 83.2,260.7 83.7,260.9 84.2,261.1 84.7,261.3 85.2,261.5 85.7,261.7 86.2,261.8 86.7,262.0 87.2,262.2 87.6,262.4 88.1,262.6 88.6,262.8 89.1,262.9 89.6,263.1 90.1,263.3 90.6,263.5 91.1,263.7 91.6,263.9 92.1,264.0 92.6,264.2 93.1,264.4 93.6,264.6 94.1,264.8 94.5,264.9 95.0,265.1 95.5,265.3 96.0,265.5 96.5,265.7 97.0,265.9 97.5,266.0 98.0,266.2 98.5,266.4 99.0,266.6 99.5,266.8 100.0,267.0 100.5,267.1 101.0,267.3 101.4,267.5 101.9,267.7 102.4,267.9 102.9,268.1 103.4,268.3 103.9,268.4 104.4,268.6 104.9,268.8 105.4,269.0 105.9,269.2 106.4,269.3 106.9,269.5 107.4,269.7 107.9,269.9 108.4,270.0 108.8,270.2 109.3,270.4 109.8,270.5 110.3,270.7 110.8,270.9 111.3,271.0 111.8,271.1 112.3,271.3 112.8,271.4 113.3,271.6 113.8,271.7 114.3,271.8 114.8,272.0 115.3,272.1 115.7,272.2 116.2,272.4 116.7,272.5 117.2,272.6 117.7,272.7 118.2,272.8 118.7,273.0 119.2,273.1 119.7,273.2 120.2,273.3 120.7,273.4 121.2,273.5 121.7,273.6 122.2,273.8 122.6,273.9 123.1,274.0 123.6,274.1 124.1,274.2 124.6,274.2 125.1,274.3 125.6,274.4 126.1,274.5 126.6,274.6 127.1,274.7 127.6,274.8 128.1,274.8 128.6,274.9 129.1,275.0 129.6,275.1 130.0,275.1 130.5,275.2 131.0,275.3 131.5,275.4 132.0,275.4 132.5,275.5 133.0,275.6 133.5,275.7 134.0,275.7 134.5,275.8 135.0,275.9 135.5,275.9 136.0,276.0 136.5,276.1 136.9,276.1 137.4,276.2 137.9,276.2 138.4,276.3 138.9,276.4 139.4,276.4 139.9,276.5 140.4,276.5 140.9,276.6 141.4,276.6 141.9,276.7 142.4,276.7 142.9,276.8 143.4,276.8 143.8,276.9 144.3,276.9 144.8,277.0 145.3,277.0 145.8,277.1 146.3,277.1 146.8,277.1 147.3,277.2 147.8,277.2 148.3,277.3 148.8,277.3 149.3,277.3 149.8,277.4 150.3,277.4 150.8,277.4 151.2,277.4 151.7,277.5 152.2,277.5 152.7,277.5 153.2,277.6 153.7,277.6 154.2,277.6 154.7,277.6 155.2,277.7 155.7,277.7 156.2,277.7 156.7,277.7 157.2,277.8 157.7,277.8 158.1,277.8 158.6,277.8 159.1,277.8 159.6,277.9 160.1,277.9 160.6,277.9 161.1,277.9 161.6,277.9 162.1,278.0 162.6,278.0 163.1,278.0 163.6,278.0 164.1,278.0 164.6,278.0 165.0,278.1 165.5,278.1 166.0,278.1 166.5,278.1 167.0,278.1 167.5,278.1 168.0,278.2 168.5,278.2 169.0,278.2 169.5,278.2 170.0,278.2 170.5,278.2 171.0,278.2 171.5,278.3 171.9,278.3 172.4,278.3 172.9,278.3 173.4,278.3 173.9,278.4 174.4,278.4 174.9,278.4 175.4,278.4" fill="none" stroke="rgb(60,60,60)" stroke-width="0.85" stroke-linejoin="round" clip-path="url(#cC)"/>
<polyline points="20.1,273.1 20.6,271.1 21.1,269.2 21.6,267.1 22.1,264.5 22.6,260.8 23.1,255.9 23.6,250.4 24.0,244.8 24.5,239.0 25.0,232.6 25.5,226.3 26.0,220.6 26.5,215.3 27.0,210.2 27.5,205.6 28.0,201.9 28.5,198.8 29.0,196.2 29.5,194.2 30.0,192.7 30.5,191.5 31.0,190.7 31.4,190.2 31.9,190.0 32.4,189.8 32.9,189.8 33.4,189.8 33.9,189.7 34.4,189.3 34.9,188.7 35.4,188.0 35.9,187.4 36.4,186.8 36.9,186.1 37.4,185.6 37.9,185.2 38.3,185.1 38.8,184.9 39.3,184.8 39.8,184.8 40.3,184.9 40.8,185.1 41.3,185.3 41.8,185.7 42.3,186.2 42.8,186.7 43.3,187.3 43.8,187.9 44.3,188.5 44.8,189.1 45.2,189.8 45.7,190.5 46.2,191.2 46.7,192.0 47.2,192.8 47.7,193.6 48.2,194.5 48.7,195.4 49.2,196.3 49.7,197.3 50.2,198.3 50.7,199.3 51.2,200.3 51.7,201.4 52.2,202.5 52.6,203.6 53.1,204.8 53.6,206.1 54.1,207.4 54.6,208.9 55.1,210.4 55.6,211.9 56.1,213.5 56.6,215.2 57.1,217.1 57.6,219.0 58.1,220.9 58.6,222.6 59.1,224.3 59.5,225.8 60.0,227.4 60.5,228.9 61.0,230.3 61.5,231.7 62.0,233.0 62.5,234.3 63.0,235.5 63.5,236.7 64.0,237.9 64.5,238.9 65.0,240.0 65.5,240.9 66.0,241.8 66.4,242.6 66.9,243.4 67.4,244.2 67.9,244.9 68.4,245.6 68.9,246.2 69.4,246.9 69.9,247.4 70.4,248.0 70.9,248.5 71.4,248.9 71.9,249.4 72.4,249.8 72.9,250.1 73.3,250.5 73.8,250.9 74.3,251.2 74.8,251.5 75.3,251.9 75.8,252.2 76.3,252.5 76.8,252.8 77.3,253.1 77.8,253.4 78.3,253.7 78.8,254.0 79.3,254.2 79.8,254.5 80.3,254.8 80.7,255.0 81.2,255.2 81.7,255.5 82.2,255.7 82.7,255.9 83.2,256.1 83.7,256.3 84.2,256.5 84.7,256.7 85.2,256.9 85.7,257.2 86.2,257.4 86.7,257.6 87.2,257.8 87.6,258.0 88.1,258.2 88.6,258.4 89.1,258.6 89.6,258.9 90.1,259.1 90.6,259.3 91.1,259.5 91.6,259.8 92.1,260.0 92.6,260.2 93.1,260.5 93.6,260.7 94.1,260.9 94.5,261.2 95.0,261.4 95.5,261.7 96.0,261.9 96.5,262.2 97.0,262.4 97.5,262.7 98.0,262.9 98.5,263.1 99.0,263.4 99.5,263.6 100.0,263.9 100.5,264.1 101.0,264.4 101.4,264.6 101.9,264.9 102.4,265.1 102.9,265.4 103.4,265.6 103.9,265.8 104.4,266.1 104.9,266.3 105.4,266.5 105.9,266.8 106.4,267.0 106.9,267.2 107.4,267.5 107.9,267.7 108.4,267.9 108.8,268.2 109.3,268.4 109.8,268.6 110.3,268.8 110.8,269.0 111.3,269.2 111.8,269.4 112.3,269.6 112.8,269.8 113.3,269.9 113.8,270.1 114.3,270.3 114.8,270.4 115.3,270.6 115.7,270.8 116.2,270.9 116.7,271.1 117.2,271.3 117.7,271.4 118.2,271.6 118.7,271.7 119.2,271.9 119.7,272.0 120.2,272.2 120.7,272.3 121.2,272.4 121.7,272.6 122.2,272.7 122.6,272.8 123.1,273.0 123.6,273.1 124.1,273.2 124.6,273.3 125.1,273.4 125.6,273.6 126.1,273.7 126.6,273.8 127.1,273.9 127.6,274.0 128.1,274.1 128.6,274.2 129.1,274.3 129.6,274.4 130.0,274.5 130.5,274.6 131.0,274.7 131.5,274.8 132.0,274.8 132.5,274.9 133.0,275.0 133.5,275.1 134.0,275.2 134.5,275.3 135.0,275.4 135.5,275.4 136.0,275.5 136.5,275.6 136.9,275.7 137.4,275.7 137.9,275.8 138.4,275.9 138.9,276.0 139.4,276.0 139.9,276.1 140.4,276.2 140.9,276.2 141.4,276.3 141.9,276.3 142.4,276.4 142.9,276.5 143.4,276.5 143.8,276.6 144.3,276.6 144.8,276.7 145.3,276.7 145.8,276.8 146.3,276.8 146.8,276.9 147.3,276.9 147.8,277.0 148.3,277.0 148.8,277.1 149.3,277.1 149.8,277.1 150.3,277.2 150.8,277.2 151.2,277.2 151.7,277.3 152.2,277.3 152.7,277.3 153.2,277.4 153.7,277.4 154.2,277.4 154.7,277.5 155.2,277.5 155.7,277.5 156.2,277.6 156.7,277.6 157.2,277.6 157.7,277.6 158.1,277.7 158.6,277.7 159.1,277.7 159.6,277.7 160.1,277.8 160.6,277.8 161.1,277.8 161.6,277.8 162.1,277.8 162.6,277.9 163.1,277.9 163.6,277.9 164.1,277.9 164.6,277.9 165.0,278.0 165.5,278.0 166.0,278.0 166.5,278.0 167.0,278.0 167.5,278.1 168.0,278.1 168.5,278.1 169.0,278.1 169.5,278.1 170.0,278.1 170.5,278.2 171.0,278.2 171.5,278.2 171.9,278.2 172.4,278.2 172.9,278.2 173.4,278.3 173.9,278.3 174.4,278.3 174.9,278.3 175.4,278.3" fill="none" stroke="rgb(56,56,56)" stroke-width="0.85" stroke-linejoin="round" clip-path="url(#cC)"/>
<polyline points="20.1,273.3 20.6,271.3 21.1,269.5 21.6,267.5 22.1,265.0 22.6,261.4 23.1,256.7 23.6,251.4 24.0,246.1 24.5,240.5 25.0,234.4 25.5,228.3 26.0,222.8 26.5,217.8 27.0,212.9 27.5,208.5 28.0,204.9 28.5,201.9 29.0,199.4 29.5,197.5 30.0,196.0 30.5,194.8 31.0,194.0 31.4,193.6 31.9,193.3 32.4,193.2 32.9,193.2 33.4,193.3 33.9,193.3 34.4,192.9 34.9,192.3 35.4,191.6 35.9,191.0 36.4,190.4 36.9,189.7 37.4,189.2 37.9,188.9 38.3,188.7 38.8,188.5 39.3,188.4 39.8,188.4 40.3,188.5 40.8,188.6 41.3,188.8 41.8,189.1 42.3,189.6 42.8,190.1 43.3,190.6 43.8,191.1 44.3,191.7 44.8,192.3 45.2,192.9 45.7,193.5 46.2,194.1 46.7,194.8 47.2,195.6 47.7,196.3 48.2,197.1 48.7,197.9 49.2,198.8 49.7,199.7 50.2,200.6 50.7,201.6 51.2,202.5 51.7,203.5 52.2,204.5 52.6,205.5 53.1,206.6 53.6,207.7 54.1,209.0 54.6,210.3 55.1,211.6 55.6,213.1 56.1,214.5 56.6,216.0 57.1,217.7 57.6,219.4 58.1,221.1 58.6,222.6 59.1,224.0 59.5,225.4 60.0,226.8 60.5,228.1 61.0,229.3 61.5,230.5 62.0,231.6 62.5,232.6 63.0,233.7 63.5,234.7 64.0,235.6 64.5,236.5 65.0,237.3 65.5,238.1 66.0,238.8 66.4,239.5 66.9,240.1 67.4,240.7 67.9,241.3 68.4,241.9 68.9,242.4 69.4,242.9 69.9,243.3 70.4,243.8 70.9,244.1 71.4,244.5 71.9,244.8 72.4,245.1 72.9,245.4 73.3,245.7 73.8,246.0 74.3,246.3 74.8,246.6 75.3,246.8 75.8,247.1 76.3,247.3 76.8,247.6 77.3,247.9 77.8,248.1 78.3,248.4 78.8,248.6 79.3,248.9 79.8,249.1 80.3,249.4 80.7,249.6 81.2,249.8 81.7,250.0 82.2,250.3 82.7,250.5 83.2,250.7 83.7,250.9 84.2,251.1 84.7,251.3 85.2,251.6 85.7,251.8 86.2,252.0 86.7,252.3 87.2,252.5 87.6,252.7 88.1,253.0 88.6,253.2 89.1,253.5 89.6,253.8 90.1,254.1 90.6,254.3 91.1,254.6 91.6,254.9 92.1,255.2 92.6,255.5 93.1,255.8 93.6,256.1 94.1,256.4 94.5,256.7 95.0,257.0 95.5,257.4 96.0,257.7 96.5,258.0 97.0,258.3 97.5,258.6 98.0,258.9 98.5,259.3 99.0,259.6 99.5,259.9 100.0,260.2 100.5,260.6 101.0,260.9 101.4,261.2 101.9,261.5 102.4,261.8 102.9,262.1 103.4,262.4 103.9,262.7 104.4,263.0 104.9,263.3 105.4,263.6 105.9,263.9 106.4,264.2 106.9,264.5 107.4,264.8 107.9,265.1 108.4,265.4 108.8,265.7 109.3,266.0 109.8,266.3 110.3,266.6 110.8,266.8 111.3,267.1 111.8,267.3 112.3,267.6 112.8,267.8 113.3,268.0 113.8,268.2 114.3,268.4 114.8,268.6 115.3,268.9 115.7,269.1 116.2,269.3 116.7,269.5 117.2,269.6 117.7,269.8 118.2,270.0 118.7,270.2 119.2,270.4 119.7,270.6 120.2,270.8 120.7,271.0 121.2,271.1 121.7,271.3 122.2,271.5 122.6,271.6 123.1,271.8 123.6,271.9 124.1,272.1 124.6,272.2 125.1,272.4 125.6,272.5 126.1,272.7 126.6,272.8 127.1,272.9 127.6,273.1 128.1,273.2 128.6,273.3 129.1,273.4 129.6,273.6 130.0,273.7 130.5,273.8 131.0,273.9 131.5,274.0 132.0,274.1 132.5,274.2 133.0,274.3 133.5,274.5 134.0,274.6 134.5,274.7 135.0,274.8 135.5,274.9 136.0,275.0 136.5,275.0 136.9,275.1 137.4,275.2 137.9,275.3 138.4,275.4 138.9,275.5 139.4,275.6 139.9,275.7 140.4,275.7 140.9,275.8 141.4,275.9 141.9,275.9 142.4,276.0 142.9,276.1 143.4,276.2 143.8,276.2 144.3,276.3 144.8,276.3 145.3,276.4 145.8,276.5 146.3,276.5 146.8,276.6 147.3,276.6 147.8,276.7 148.3,276.7 148.8,276.8 149.3,276.8 149.8,276.9 150.3,276.9 150.8,277.0 151.2,277.0 151.7,277.0 152.2,277.1 152.7,277.1 153.2,277.2 153.7,277.2 154.2,277.2 154.7,277.3 155.2,277.3 155.7,277.3 156.2,277.4 156.7,277.4 157.2,277.4 157.7,277.5 158.1,277.5 158.6,277.5 159.1,277.6 159.6,277.6 160.1,277.6 160.6,277.6 161.1,277.7 161.6,277.7 162.1,277.7 162.6,277.7 163.1,277.8 163.6,277.8 164.1,277.8 164.6,277.8 165.0,277.8 165.5,277.9 166.0,277.9 166.5,277.9 167.0,277.9 167.5,277.9 168.0,278.0 168.5,278.0 169.0,278.0 169.5,278.0 170.0,278.0 170.5,278.1 171.0,278.1 171.5,278.1 171.9,278.1 172.4,278.1 172.9,278.2 173.4,278.2 173.9,278.2 174.4,278.2 174.9,278.2 175.4,278.3" fill="none" stroke="rgb(52,52,52)" stroke-width="0.85" stroke-linejoin="round" clip-path="url(#cC)"/>
<polyline points="20.1,273.4 20.6,271.6 21.1,269.8 21.6,267.9 22.1,265.5 22.6,262.0 23.1,257.5 23.6,252.4 24.0,247.3 24.5,241.9 25.0,236.1 25.5,230.4 26.0,225.1 26.5,220.2 27.0,215.6 27.5,211.4 28.0,207.9 28.5,205.1 29.0,202.6 29.5,200.8 30.0,199.3 30.5,198.1 31.0,197.3 31.4,196.9 31.9,196.7 32.4,196.6 32.9,196.6 33.4,196.8 33.9,196.8 34.4,196.4 34.9,195.8 35.4,195.2 35.9,194.6 36.4,194.0 36.9,193.4 37.4,192.8 37.9,192.5 38.3,192.3 38.8,192.1 39.3,192.0 39.8,192.0 40.3,192.0 40.8,192.2 41.3,192.3 41.8,192.6 42.3,193.0 42.8,193.4 43.3,193.9 43.8,194.4 44.3,194.9 44.8,195.4 45.2,195.9 45.7,196.5 46.2,197.1 46.7,197.7 47.2,198.4 47.7,199.1 48.2,199.8 48.7,200.5 49.2,201.3 49.7,202.1 50.2,202.9 50.7,203.8 51.2,204.7 51.7,205.5 52.2,206.4 52.6,207.4 53.1,208.4 53.6,209.4 54.1,210.5 54.6,211.7 55.1,212.9 55.6,214.2 56.1,215.5 56.6,216.8 57.1,218.3 57.6,219.8 58.1,221.3 58.6,222.6 59.1,223.8 59.5,225.0 60.0,226.2 60.5,227.2 61.0,228.3 61.5,229.2 62.0,230.2 62.5,231.0 63.0,231.8 63.5,232.6 64.0,233.4 64.5,234.1 65.0,234.7 65.5,235.4 66.0,235.9 66.4,236.4 66.9,236.9 67.4,237.4 67.9,237.8 68.4,238.2 68.9,238.6 69.4,239.0 69.9,239.3 70.4,239.6 70.9,239.9 71.4,240.2 71.9,240.4 72.4,240.6 72.9,240.8 73.3,241.0 73.8,241.3 74.3,241.5 74.8,241.7 75.3,241.9 75.8,242.1 76.3,242.3 76.8,242.5 77.3,242.7 77.8,243.0 78.3,243.2 78.8,243.4 79.3,243.6 79.8,243.8 80.3,244.1 80.7,244.3 81.2,244.5 81.7,244.7 82.2,244.9 82.7,245.1 83.2,245.3 83.7,245.6 84.2,245.8 84.7,246.0 85.2,246.3 85.7,246.5 86.2,246.8 86.7,247.0 87.2,247.3 87.6,247.6 88.1,247.9 88.6,248.2 89.1,248.5 89.6,248.8 90.1,249.1 90.6,249.5 91.1,249.8 91.6,250.1 92.1,250.5 92.6,250.8 93.1,251.2 93.6,251.6 94.1,251.9 94.5,252.3 95.0,252.7 95.5,253.1 96.0,253.5 96.5,253.9 97.0,254.3 97.5,254.7 98.0,255.1 98.5,255.5 99.0,255.9 99.5,256.3 100.0,256.7 100.5,257.0 101.0,257.4 101.4,257.8 101.9,258.2 102.4,258.6 102.9,258.9 103.4,259.3 103.9,259.7 104.4,260.0 104.9,260.4 105.4,260.8 105.9,261.1 106.4,261.5 106.9,261.9 107.4,262.2 107.9,262.6 108.4,263.0 108.8,263.3 109.3,263.7 109.8,264.0 110.3,264.4 110.8,264.7 111.3,265.0 111.8,265.3 112.3,265.6 112.8,265.8 113.3,266.1 113.8,266.4 114.3,266.6 114.8,266.9 115.3,267.1 115.7,267.4 116.2,267.6 116.7,267.8 117.2,268.1 117.7,268.3 118.2,268.5 118.7,268.8 119.2,269.0 119.7,269.2 120.2,269.4 120.7,269.6 121.2,269.8 121.7,270.0 122.2,270.2 122.6,270.4 123.1,270.6 123.6,270.8 124.1,271.0 124.6,271.2 125.1,271.4 125.6,271.5 126.1,271.7 126.6,271.8 127.1,272.0 127.6,272.2 128.1,272.3 128.6,272.5 129.1,272.6 129.6,272.8 130.0,272.9 130.5,273.0 131.0,273.2 131.5,273.3 132.0,273.4 132.5,273.6 133.0,273.7 133.5,273.8 134.0,273.9 134.5,274.1 135.0,274.2 135.5,274.3 136.0,274.4 136.5,274.5 136.9,274.6 137.4,274.7 137.9,274.8 138.4,274.9 138.9,275.0 139.4,275.1 139.9,275.2 140.4,275.3 140.9,275.4 141.4,275.5 141.9,275.6 142.4,275.6 142.9,275.7 143.4,275.8 143.8,275.9 144.3,275.9 144.8,276.0 145.3,276.1 145.8,276.1 146.3,276.2 146.8,276.3 147.3,276.3 147.8,276.4 148.3,276.5 148.8,276.5 149.3,276.6 149.8,276.6 150.3,276.7 150.8,276.7 151.2,276.8 151.7,276.8 152.2,276.9 152.7,276.9 153.2,277.0 153.7,277.0 154.2,277.0 154.7,277.1 155.2,277.1 155.7,277.2 156.2,277.2 156.7,277.2 157.2,277.3 157.7,277.3 158.1,277.4 158.6,277.4 159.1,277.4 159.6,277.5 160.1,277.5 160.6,277.5 161.1,277.5 161.6,277.6 162.1,277.6 162.6,277.6 163.1,277.6 163.6,277.7 164.1,277.7 164.6,277.7 165.0,277.7 165.5,277.8 166.0,277.8 166.5,277.8 167.0,277.8 167.5,277.8 168.0,277.9 168.5,277.9 169.0,277.9 169.5,277.9 170.0,278.0 170.5,278.0 171.0,278.0 171.5,278.0 171.9,278.0 172.4,278.1 172.9,278.1 173.4,278.1 173.9,278.1 174.4,278.2 174.9,278.2 175.4,278.2" fill="none" stroke="rgb(48,48,48)" stroke-width="0.85" stroke-linejoin="round" clip-path="url(#cC)"/>
<polyline points="20.1,273.7 20.6,272.0 21.1,270.3 21.6,268.5 22.1,266.3 22.6,263.1 23.1,258.9 23.6,254.3 24.0,249.5 24.5,244.6 25.0,239.3 25.5,234.0 26.0,229.1 26.5,224.7 27.0,220.4 27.5,216.5 28.0,213.3 28.5,210.6 29.0,208.4 29.5,206.6 30.0,205.3 30.5,204.1 31.0,203.3 31.4,202.9 31.9,202.7 32.4,202.6 32.9,202.8 33.4,203.0 33.9,203.0 34.4,202.7 34.9,202.2 35.4,201.6 35.9,201.0 36.4,200.4 36.9,199.8 37.4,199.3 37.9,198.9 38.3,198.7 38.8,198.5 39.3,198.4 39.8,198.3 40.3,198.4 40.8,198.4 41.3,198.6 41.8,198.7 42.3,199.1 42.8,199.5 43.3,199.8 43.8,200.2 44.3,200.6 44.8,201.0 45.2,201.4 45.7,201.9 46.2,202.3 46.7,202.9 47.2,203.4 47.7,203.9 48.2,204.5 48.7,205.1 49.2,205.7 49.7,206.4 50.2,207.1 50.7,207.8 51.2,208.5 51.7,209.2 52.2,209.9 52.6,210.7 53.1,211.4 53.6,212.3 54.1,213.1 54.6,214.0 55.1,215.0 55.6,216.0 56.1,217.0 56.6,218.0 57.1,219.2 57.6,220.4 58.1,221.6 58.6,222.6 59.1,223.6 59.5,224.5 60.0,225.4 60.5,226.3 61.0,227.1 61.5,227.9 62.0,228.6 62.5,229.2 63.0,229.9 63.5,230.5 64.0,231.1 64.5,231.6 65.0,232.1 65.5,232.5 66.0,232.9 66.4,233.2 66.9,233.6 67.4,233.9 67.9,234.2 68.4,234.5 68.9,234.7 69.4,235.0 69.9,235.2 70.4,235.4 70.9,235.6 71.4,235.7 71.9,235.9 72.4,236.0 72.9,236.1 73.3,236.3 73.8,236.4 74.3,236.5 74.8,236.7 75.3,236.8 75.8,237.0 76.3,237.1 76.8,237.3 77.3,237.5 77.8,237.7 78.3,237.9 78.8,238.1 79.3,238.3 79.8,238.5 80.3,238.7 80.7,238.9 81.2,239.1 81.7,239.3 82.2,239.5 82.7,239.7 83.2,239.9 83.7,240.1 84.2,240.4 84.7,240.6 85.2,240.9 85.7,241.2 86.2,241.5 86.7,241.7 87.2,242.0 87.6,242.3 88.1,242.7 88.6,243.0 89.1,243.4 89.6,243.7 90.1,244.1 90.6,244.5 91.1,244.9 91.6,245.2 92.1,245.6 92.6,246.1 93.1,246.5 93.6,246.9 94.1,247.4 94.5,247.9 95.0,248.3 95.5,248.8 96.0,249.3 96.5,249.7 97.0,250.2 97.5,250.7 98.0,251.1 98.5,251.6 99.0,252.1 99.5,252.5 100.0,253.0 100.5,253.5 101.0,253.9 101.4,254.4 101.9,254.8 102.4,255.3 102.9,255.7 103.4,256.1 103.9,256.6 104.4,257.0 104.9,257.4 105.4,257.9 105.9,258.3 106.4,258.7 106.9,259.2 107.4,259.6 107.9,260.0 108.4,260.5 108.8,260.9 109.3,261.3 109.8,261.7 110.3,262.1 110.8,262.5 111.3,262.9 111.8,263.2 112.3,263.5 112.8,263.9 113.3,264.2 113.8,264.5 114.3,264.8 114.8,265.1 115.3,265.4 115.7,265.6 116.2,265.9 116.7,266.2 117.2,266.5 117.7,266.7 118.2,267.0 118.7,267.3 119.2,267.5 119.7,267.8 120.2,268.0 120.7,268.3 121.2,268.5 121.7,268.8 122.2,269.0 122.6,269.2 123.1,269.5 123.6,269.7 124.1,269.9 124.6,270.1 125.1,270.3 125.6,270.5 126.1,270.7 126.6,270.9 127.1,271.1 127.6,271.2 128.1,271.4 128.6,271.6 129.1,271.8 129.6,271.9 130.0,272.1 130.5,272.3 131.0,272.4 131.5,272.6 132.0,272.7 132.5,272.9 133.0,273.0 133.5,273.2 134.0,273.3 134.5,273.4 135.0,273.6 135.5,273.7 136.0,273.8 136.5,274.0 136.9,274.1 137.4,274.2 137.9,274.3 138.4,274.4 138.9,274.6 139.4,274.7 139.9,274.8 140.4,274.9 140.9,275.0 141.4,275.1 141.9,275.2 142.4,275.2 142.9,275.3 143.4,275.4 143.8,275.5 144.3,275.6 144.8,275.7 145.3,275.7 145.8,275.8 146.3,275.9 146.8,276.0 147.3,276.0 147.8,276.1 148.3,276.2 148.8,276.2 149.3,276.3 149.8,276.4 150.3,276.4 150.8,276.5 151.2,276.5 151.7,276.6 152.2,276.6 152.7,276.7 153.2,276.7 153.7,276.8 154.2,276.8 154.7,276.9 155.2,276.9 155.7,277.0 156.2,277.0 156.7,277.1 157.2,277.1 157.7,277.2 158.1,277.2 158.6,277.2 159.1,277.3 159.6,277.3 160.1,277.3 160.6,277.4 161.1,277.4 161.6,277.4 162.1,277.5 162.6,277.5 163.1,277.5 163.6,277.5 164.1,277.6 164.6,277.6 165.0,277.6 165.5,277.6 166.0,277.7 166.5,277.7 167.0,277.7 167.5,277.7 168.0,277.8 168.5,277.8 169.0,277.8 169.5,277.8 170.0,277.9 170.5,277.9 171.0,277.9 171.5,277.9 171.9,278.0 172.4,278.0 172.9,278.0 173.4,278.0 173.9,278.0 174.4,278.1 174.9,278.1 175.4,278.1" fill="none" stroke="rgb(44,44,44)" stroke-width="0.85" stroke-linejoin="round" clip-path="url(#cC)"/>
<polyline points="20.1,274.0 20.6,272.5 21.1,271.0 21.6,269.3 22.1,267.3 22.6,264.4 23.1,260.7 23.6,256.5 24.0,252.3 24.5,247.9 25.0,243.2 25.5,238.5 26.0,234.2 26.5,230.2 27.0,226.4 27.5,222.9 28.0,220.0 28.5,217.6 29.0,215.6 29.5,214.0 30.0,212.7 30.5,211.5 31.0,210.8 31.4,210.4 31.9,210.2 32.4,210.2 32.9,210.4 33.4,210.8 33.9,210.9 34.4,210.6 34.9,210.1 35.4,209.6 35.9,209.1 36.4,208.5 36.9,207.9 37.4,207.4 37.9,207.0 38.3,206.8 38.8,206.6 39.3,206.4 39.8,206.3 40.3,206.3 40.8,206.3 41.3,206.4 41.8,206.5 42.3,206.7 42.8,207.0 43.3,207.2 43.8,207.5 44.3,207.7 44.8,208.0 45.2,208.3 45.7,208.6 46.2,208.9 46.7,209.3 47.2,209.6 47.7,210.0 48.2,210.4 48.7,210.8 49.2,211.3 49.7,211.7 50.2,212.2 50.7,212.7 51.2,213.3 51.7,213.8 52.2,214.3 52.6,214.8 53.1,215.3 53.6,215.8 54.1,216.4 54.6,216.9 55.1,217.5 55.6,218.2 56.1,218.8 56.6,219.5 57.1,220.3 57.6,221.1 58.1,221.9 58.6,222.6 59.1,223.3 59.5,224.0 60.0,224.6 60.5,225.2 61.0,225.8 61.5,226.4 62.0,226.9 62.5,227.4 63.0,227.9 63.5,228.3 64.0,228.7 64.5,229.0 65.0,229.3 65.5,229.6 66.0,229.9 66.4,230.1 66.9,230.3 67.4,230.4 67.9,230.6 68.4,230.7 68.9,230.9 69.4,231.0 69.9,231.1 70.4,231.2 70.9,231.2 71.4,231.3 71.9,231.3 72.4,231.4 72.9,231.4 73.3,231.5 73.8,231.5 74.3,231.6 74.8,231.7 75.3,231.8 75.8,231.9 76.3,232.0 76.8,232.1 77.3,232.3 77.8,232.4 78.3,232.6 78.8,232.7 79.3,232.9 79.8,233.1 80.3,233.3 80.7,233.5 81.2,233.7 81.7,233.9 82.2,234.1 82.7,234.3 83.2,234.5 83.7,234.7 84.2,235.0 84.7,235.2 85.2,235.5 85.7,235.8 86.2,236.1 86.7,236.4 87.2,236.7 87.6,237.1 88.1,237.4 88.6,237.8 89.1,238.2 89.6,238.6 90.1,239.1 90.6,239.5 91.1,239.9 91.6,240.4 92.1,240.8 92.6,241.3 93.1,241.8 93.6,242.3 94.1,242.9 94.5,243.4 95.0,243.9 95.5,244.5 96.0,245.0 96.5,245.6 97.0,246.1 97.5,246.6 98.0,247.2 98.5,247.7 99.0,248.3 99.5,248.8 100.0,249.4 100.5,249.9 101.0,250.4 101.4,250.9 101.9,251.5 102.4,252.0 102.9,252.5 103.4,253.0 103.9,253.5 104.4,254.0 104.9,254.5 105.4,254.9 105.9,255.4 106.4,255.9 106.9,256.4 107.4,256.9 107.9,257.5 108.4,258.0 108.8,258.5 109.3,259.0 109.8,259.4 110.3,259.9 110.8,260.3 111.3,260.7 111.8,261.1 112.3,261.5 112.8,261.9 113.3,262.2 113.8,262.6 114.3,262.9 114.8,263.3 115.3,263.6 115.7,263.9 116.2,264.2 116.7,264.5 117.2,264.9 117.7,265.2 118.2,265.5 118.7,265.8 119.2,266.1 119.7,266.4 120.2,266.7 120.7,266.9 121.2,267.2 121.7,267.5 122.2,267.8 122.6,268.0 123.1,268.3 123.6,268.5 124.1,268.8 124.6,269.0 125.1,269.2 125.6,269.5 126.1,269.7 126.6,269.9 127.1,270.1 127.6,270.3 128.1,270.5 128.6,270.7 129.1,270.9 129.6,271.1 130.0,271.3 130.5,271.5 131.0,271.7 131.5,271.8 132.0,272.0 132.5,272.2 133.0,272.3 133.5,272.5 134.0,272.7 134.5,272.8 135.0,273.0 135.5,273.1 136.0,273.3 136.5,273.4 136.9,273.6 137.4,273.7 137.9,273.8 138.4,274.0 138.9,274.1 139.4,274.2 139.9,274.3 140.4,274.4 140.9,274.5 141.4,274.7 141.9,274.8 142.4,274.9 142.9,275.0 143.4,275.1 143.8,275.1 144.3,275.2 144.8,275.3 145.3,275.4 145.8,275.5 146.3,275.6 146.8,275.7 147.3,275.7 147.8,275.8 148.3,275.9 148.8,276.0 149.3,276.0 149.8,276.1 150.3,276.2 150.8,276.2 151.2,276.3 151.7,276.4 152.2,276.4 152.7,276.5 153.2,276.5 153.7,276.6 154.2,276.6 154.7,276.7 155.2,276.8 155.7,276.8 156.2,276.9 156.7,276.9 157.2,276.9 157.7,277.0 158.1,277.0 158.6,277.1 159.1,277.1 159.6,277.2 160.1,277.2 160.6,277.2 161.1,277.3 161.6,277.3 162.1,277.3 162.6,277.4 163.1,277.4 163.6,277.4 164.1,277.5 164.6,277.5 165.0,277.5 165.5,277.5 166.0,277.6 166.5,277.6 167.0,277.6 167.5,277.6 168.0,277.7 168.5,277.7 169.0,277.7 169.5,277.7 170.0,277.8 170.5,277.8 171.0,277.8 171.5,277.8 171.9,277.9 172.4,277.9 172.9,277.9 173.4,277.9 173.9,278.0 174.4,278.0 174.9,278.0 175.4,278.1" fill="none" stroke="rgb(40,40,40)" stroke-width="0.85" stroke-linejoin="round" clip-path="url(#cC)"/>
<polyline points="20.1,274.2 20.6,272.8 21.1,271.4 21.6,269.8 22.1,267.9 22.6,265.2 23.1,261.7 23.6,257.8 24.0,253.9 24.5,249.8 25.0,245.4 25.5,241.0 26.0,237.0 26.5,233.3 27.0,229.8 27.5,226.5 28.0,223.9 28.5,221.6 29.0,219.7 29.5,218.2 30.0,216.9 30.5,215.8 31.0,215.0 31.4,214.6 31.9,214.5 32.4,214.5 32.9,214.8 33.4,215.2 33.9,215.4 34.4,215.1 34.9,214.7 35.4,214.2 35.9,213.6 36.4,213.1 36.9,212.5 37.4,212.0 37.9,211.6 38.3,211.3 38.8,211.1 39.3,211.0 39.8,210.9 40.3,210.8 40.8,210.8 41.3,210.8 41.8,210.9 42.3,211.1 42.8,211.3 43.3,211.4 43.8,211.6 44.3,211.8 44.8,212.0 45.2,212.2 45.7,212.4 46.2,212.7 46.7,212.9 47.2,213.2 47.7,213.5 48.2,213.8 48.7,214.1 49.2,214.4 49.7,214.8 50.2,215.2 50.7,215.6 51.2,216.0 51.7,216.4 52.2,216.8 52.6,217.1 53.1,217.5 53.6,217.9 54.1,218.3 54.6,218.7 55.1,219.1 55.6,219.5 56.1,220.0 56.6,220.4 57.1,221.0 57.6,221.6 58.1,222.1 58.6,222.6 59.1,223.1 59.5,223.5 60.0,224.0 60.5,224.4 61.0,224.8 61.5,225.1 62.0,225.4 62.5,225.7 63.0,226.0 63.5,226.2 64.0,226.4 64.5,226.6 65.0,226.7 65.5,226.8 66.0,226.9 66.4,226.9 66.9,227.0 67.4,227.0 67.9,227.0 68.4,227.0 68.9,227.0 69.4,227.0 69.9,227.0 70.4,227.0 70.9,226.9 71.4,226.9 71.9,226.8 72.4,226.7 72.9,226.7 73.3,226.7 73.8,226.7 74.3,226.7 74.8,226.7 75.3,226.7 75.8,226.8 76.3,226.8 76.8,226.9 77.3,227.0 77.8,227.2 78.3,227.3 78.8,227.4 79.3,227.6 79.8,227.7 80.3,227.9 80.7,228.1 81.2,228.3 81.7,228.5 82.2,228.7 82.7,228.8 83.2,229.0 83.7,229.3 84.2,229.5 84.7,229.8 85.2,230.1 85.7,230.5 86.2,230.8 86.7,231.1 87.2,231.5 87.6,231.8 88.1,232.2 88.6,232.6 89.1,233.1 89.6,233.6 90.1,234.0 90.6,234.5 91.1,235.0 91.6,235.5 92.1,236.0 92.6,236.6 93.1,237.1 93.6,237.7 94.1,238.3 94.5,238.9 95.0,239.5 95.5,240.2 96.0,240.8 96.5,241.4 97.0,242.0 97.5,242.6 98.0,243.2 98.5,243.8 99.0,244.5 99.5,245.1 100.0,245.7 100.5,246.3 101.0,246.9 101.4,247.5 101.9,248.1 102.4,248.7 102.9,249.2 103.4,249.8 103.9,250.4 104.4,250.9 104.9,251.5 105.4,252.0 105.9,252.6 106.4,253.2 106.9,253.7 107.4,254.3 107.9,254.9 108.4,255.5 108.8,256.0 109.3,256.6 109.8,257.1 110.3,257.6 110.8,258.1 111.3,258.6 111.8,259.0 112.3,259.5 112.8,259.9 113.3,260.3 113.8,260.7 114.3,261.1 114.8,261.5 115.3,261.8 115.7,262.2 116.2,262.5 116.7,262.9 117.2,263.2 117.7,263.6 118.2,263.9 118.7,264.3 119.2,264.6 119.7,264.9 120.2,265.3 120.7,265.6 121.2,265.9 121.7,266.2 122.2,266.5 122.6,266.8 123.1,267.1 123.6,267.4 124.1,267.7 124.6,267.9 125.1,268.2 125.6,268.4 126.1,268.7 126.6,268.9 127.1,269.2 127.6,269.4 128.1,269.6 128.6,269.9 129.1,270.1 129.6,270.3 130.0,270.5 130.5,270.7 131.0,270.9 131.5,271.1 132.0,271.3 132.5,271.5 133.0,271.7 133.5,271.9 134.0,272.0 134.5,272.2 135.0,272.4 135.5,272.5 136.0,272.7 136.5,272.9 136.9,273.0 137.4,273.2 137.9,273.3 138.4,273.5 138.9,273.6 139.4,273.7 139.9,273.9 140.4,274.0 140.9,274.1 141.4,274.2 141.9,274.4 142.4,274.5 142.9,274.6 143.4,274.7 143.8,274.8 144.3,274.9 144.8,275.0 145.3,275.1 145.8,275.2 146.3,275.3 146.8,275.4 147.3,275.4 147.8,275.5 148.3,275.6 148.8,275.7 149.3,275.8 149.8,275.8 150.3,275.9 150.8,276.0 151.2,276.1 151.7,276.1 152.2,276.2 152.7,276.3 153.2,276.3 153.7,276.4 154.2,276.4 154.7,276.5 155.2,276.6 155.7,276.6 156.2,276.7 156.7,276.7 157.2,276.8 157.7,276.8 158.1,276.9 158.6,276.9 159.1,277.0 159.6,277.0 160.1,277.1 160.6,277.1 161.1,277.1 161.6,277.2 162.1,277.2 162.6,277.2 163.1,277.3 163.6,277.3 164.1,277.3 164.6,277.4 165.0,277.4 165.5,277.4 166.0,277.5 166.5,277.5 167.0,277.5 167.5,277.5 168.0,277.6 168.5,277.6 169.0,277.6 169.5,277.6 170.0,277.7 170.5,277.7 171.0,277.7 171.5,277.8 171.9,277.8 172.4,277.8 172.9,277.8 173.4,277.9 173.9,277.9 174.4,277.9 174.9,278.0 175.4,278.0" fill="none" stroke="rgb(36,36,36)" stroke-width="0.85" stroke-linejoin="round" clip-path="url(#cC)"/>
<polyline points="20.1,274.5 20.6,273.2 21.1,271.9 21.6,270.4 22.1,268.7 22.6,266.3 23.1,263.1 23.6,259.6 24.0,256.1 24.5,252.4 25.0,248.5 25.5,244.6 26.0,241.0 26.5,237.7 27.0,234.5 27.5,231.6 28.0,229.1 28.5,227.1 29.0,225.3 29.5,223.9 30.0,222.7 30.5,221.6 31.0,220.8 31.4,220.5 31.9,220.4 32.4,220.5 32.9,220.8 33.4,221.3 33.9,221.5 34.4,221.3 34.9,220.9 35.4,220.4 35.9,220.0 36.4,219.4 36.9,218.9 37.4,218.3 37.9,217.9 38.3,217.7 38.8,217.4 39.3,217.2 39.8,217.1 40.3,217.0 40.8,217.0 41.3,217.0 41.8,217.0 42.3,217.0 42.8,217.2 43.3,217.3 43.8,217.3 44.3,217.4 44.8,217.5 45.2,217.6 45.7,217.7 46.2,217.8 46.7,218.0 47.2,218.1 47.7,218.3 48.2,218.4 48.7,218.6 49.2,218.8 49.7,219.0 50.2,219.2 50.7,219.5 51.2,219.7 51.7,220.0 52.2,220.2 52.6,220.4 53.1,220.6 53.6,220.7 54.1,220.9 54.6,221.0 55.1,221.2 55.6,221.3 56.1,221.5 56.6,221.7 57.1,221.9 57.6,222.2 58.1,222.4 58.6,222.6 59.1,222.8 59.5,223.0 60.0,223.2 60.5,223.4 61.0,223.5 61.5,223.7 62.0,223.8 62.5,223.8 63.0,223.9 63.5,223.9 64.0,223.9 64.5,223.9 65.0,223.8 65.5,223.7 66.0,223.6 66.4,223.5 66.9,223.4 67.4,223.2 67.9,223.1 68.4,223.0 68.9,222.8 69.4,222.7 69.9,222.5 70.4,222.4 70.9,222.2 71.4,222.1 71.9,221.9 72.4,221.8 72.9,221.6 73.3,221.5 73.8,221.4 74.3,221.4 74.8,221.3 75.3,221.3 75.8,221.2 76.3,221.3 76.8,221.3 77.3,221.4 77.8,221.5 78.3,221.6 78.8,221.7 79.3,221.8 79.8,221.9 80.3,222.1 80.7,222.3 81.2,222.4 81.7,222.6 82.2,222.8 82.7,223.0 83.2,223.2 83.7,223.4 84.2,223.7 84.7,224.0 85.2,224.3 85.7,224.7 86.2,225.0 86.7,225.4 87.2,225.7 87.6,226.2 88.1,226.6 88.6,227.1 89.1,227.6 89.6,228.1 90.1,228.6 90.6,229.1 91.1,229.7 91.6,230.2 92.1,230.8 92.6,231.4 93.1,232.1 93.6,232.7 94.1,233.4 94.5,234.1 95.0,234.8 95.5,235.5 96.0,236.2 96.5,236.9 97.0,237.6 97.5,238.3 98.0,239.0 98.5,239.7 99.0,240.4 99.5,241.1 100.0,241.8 100.5,242.4 101.0,243.1 101.4,243.8 101.9,244.5 102.4,245.1 102.9,245.7 103.4,246.4 103.9,247.0 104.4,247.6 104.9,248.3 105.4,248.9 105.9,249.5 106.4,250.1 106.9,250.8 107.4,251.4 107.9,252.1 108.4,252.8 108.8,253.4 109.3,254.0 109.8,254.6 110.3,255.2 110.8,255.8 111.3,256.3 111.8,256.8 112.3,257.3 112.8,257.8 113.3,258.2 113.8,258.7 114.3,259.1 114.8,259.5 115.3,259.9 115.7,260.3 116.2,260.7 116.7,261.1 117.2,261.5 117.7,261.9 118.2,262.3 118.7,262.7 119.2,263.0 119.7,263.4 120.2,263.8 120.7,264.1 121.2,264.5 121.7,264.8 122.2,265.2 122.6,265.5 123.1,265.8 123.6,266.1 124.1,266.5 124.6,266.7 125.1,267.0 125.6,267.3 126.1,267.6 126.6,267.9 127.1,268.1 127.6,268.4 128.1,268.7 128.6,268.9 129.1,269.2 129.6,269.4 130.0,269.7 130.5,269.9 131.0,270.1 131.5,270.3 132.0,270.5 132.5,270.7 133.0,270.9 133.5,271.1 134.0,271.3 134.5,271.5 135.0,271.7 135.5,271.9 136.0,272.1 136.5,272.3 136.9,272.4 137.4,272.6 137.9,272.8 138.4,272.9 138.9,273.1 139.4,273.2 139.9,273.4 140.4,273.5 140.9,273.7 141.4,273.8 141.9,273.9 142.4,274.0 142.9,274.2 143.4,274.3 143.8,274.4 144.3,274.5 144.8,274.6 145.3,274.7 145.8,274.8 146.3,274.9 146.8,275.0 147.3,275.1 147.8,275.2 148.3,275.3 148.8,275.4 149.3,275.5 149.8,275.6 150.3,275.6 150.8,275.7 151.2,275.8 151.7,275.9 152.2,275.9 152.7,276.0 153.2,276.1 153.7,276.2 154.2,276.2 154.7,276.3 155.2,276.4 155.7,276.4 156.2,276.5 156.7,276.5 157.2,276.6 157.7,276.7 158.1,276.7 158.6,276.8 159.1,276.8 159.6,276.9 160.1,276.9 160.6,276.9 161.1,277.0 161.6,277.0 162.1,277.1 162.6,277.1 163.1,277.1 163.6,277.2 164.1,277.2 164.6,277.2 165.0,277.3 165.5,277.3 166.0,277.3 166.5,277.4 167.0,277.4 167.5,277.4 168.0,277.5 168.5,277.5 169.0,277.5 169.5,277.5 170.0,277.6 170.5,277.6 171.0,277.6 171.5,277.7 171.9,277.7 172.4,277.7 172.9,277.7 173.4,277.8 173.9,277.8 174.4,277.8 174.9,277.9 175.4,277.9" fill="none" stroke="rgb(32,32,32)" stroke-width="0.85" stroke-linejoin="round" clip-path="url(#cC)"/>
<polyline points="20.1,274.8 20.6,273.5 21.1,272.3 21.6,271.0 22.1,269.4 22.6,267.2 23.1,264.3 23.6,261.2 24.0,258.0 24.5,254.6 25.0,251.1 25.5,247.6 26.0,244.4 26.5,241.4 27.0,238.5 27.5,235.9 28.0,233.7 28.5,231.8 29.0,230.2 29.5,228.9 30.0,227.7 30.5,226.7 31.0,225.9 31.4,225.5 31.9,225.5 32.4,225.6 32.9,226.0 33.4,226.6 33.9,226.9 34.4,226.7 34.9,226.3 35.4,225.9 35.9,225.4 36.4,224.9 36.9,224.3 37.4,223.8 37.9,223.4 38.3,223.1 38.8,222.9 39.3,222.7 39.8,222.5 40.3,222.4 40.8,222.3 41.3,222.2 41.8,222.2 42.3,222.2 42.8,222.2 43.3,222.3 43.8,222.3 44.3,222.2 44.8,222.2 45.2,222.3 45.7,222.3 46.2,222.3 46.7,222.3 47.2,222.4 47.7,222.4 48.2,222.4 48.7,222.5 49.2,222.5 49.7,222.6 50.2,222.7 50.7,222.9 51.2,223.0 51.7,223.1 52.2,223.1 52.6,223.2 53.1,223.2 53.6,223.1 54.1,223.1 54.6,223.0 55.1,223.0 55.6,222.9 56.1,222.8 56.6,222.7 57.1,222.7 57.6,222.7 58.1,222.7 58.6,222.6 59.1,222.6 59.5,222.6 60.0,222.5 60.5,222.5 61.0,222.5 61.5,222.4 62.0,222.3 62.5,222.2 63.0,222.1 63.5,221.9 64.0,221.8 64.5,221.6 65.0,221.3 65.5,221.1 66.0,220.9 66.4,220.6 66.9,220.3 67.4,220.1 67.9,219.8 68.4,219.5 68.9,219.2 69.4,219.0 69.9,218.7 70.4,218.5 70.9,218.3 71.4,218.0 71.9,217.7 72.4,217.5 72.9,217.3 73.3,217.1 73.8,217.0 74.3,216.8 74.8,216.7 75.3,216.6 75.8,216.6 76.3,216.5 76.8,216.5 77.3,216.6 77.8,216.6 78.3,216.7 78.8,216.8 79.3,216.9 79.8,217.0 80.3,217.1 80.7,217.3 81.2,217.4 81.7,217.6 82.2,217.8 82.7,218.0 83.2,218.2 83.7,218.4 84.2,218.7 84.7,219.0 85.2,219.4 85.7,219.7 86.2,220.1 86.7,220.5 87.2,220.9 87.6,221.3 88.1,221.8 88.6,222.3 89.1,222.8 89.6,223.4 90.1,224.0 90.6,224.6 91.1,225.2 91.6,225.8 92.1,226.4 92.6,227.0 93.1,227.7 93.6,228.5 94.1,229.2 94.5,230.0 95.0,230.8 95.5,231.5 96.0,232.3 96.5,233.1 97.0,233.8 97.5,234.6 98.0,235.3 98.5,236.1 99.0,236.9 99.5,237.6 100.0,238.4 100.5,239.2 101.0,239.9 101.4,240.6 101.9,241.4 102.4,242.1 102.9,242.8 103.4,243.5 103.9,244.2 104.4,244.8 104.9,245.5 105.4,246.2 105.9,246.9 106.4,247.6 106.9,248.3 107.4,249.0 107.9,249.7 108.4,250.4 108.8,251.1 109.3,251.8 109.8,252.5 110.3,253.2 110.8,253.8 111.3,254.3 111.8,254.9 112.3,255.4 112.8,255.9 113.3,256.4 113.8,256.9 114.3,257.4 114.8,257.8 115.3,258.3 115.7,258.7 116.2,259.2 116.7,259.6 117.2,260.0 117.7,260.5 118.2,260.9 118.7,261.3 119.2,261.7 119.7,262.1 120.2,262.5 120.7,262.9 121.2,263.3 121.7,263.7 122.2,264.0 122.6,264.4 123.1,264.7 123.6,265.1 124.1,265.4 124.6,265.7 125.1,266.1 125.6,266.4 126.1,266.7 126.6,267.0 127.1,267.3 127.6,267.6 128.1,267.8 128.6,268.1 129.1,268.4 129.6,268.7 130.0,268.9 130.5,269.2 131.0,269.4 131.5,269.7 132.0,269.9 132.5,270.1 133.0,270.3 133.5,270.5 134.0,270.8 134.5,271.0 135.0,271.2 135.5,271.4 136.0,271.6 136.5,271.8 136.9,272.0 137.4,272.1 137.9,272.3 138.4,272.5 138.9,272.7 139.4,272.8 139.9,273.0 140.4,273.1 140.9,273.3 141.4,273.4 141.9,273.6 142.4,273.7 142.9,273.8 143.4,273.9 143.8,274.1 144.3,274.2 144.8,274.3 145.3,274.4 145.8,274.5 146.3,274.6 146.8,274.7 147.3,274.8 147.8,274.9 148.3,275.0 148.8,275.1 149.3,275.2 149.8,275.3 150.3,275.4 150.8,275.5 151.2,275.6 151.7,275.7 152.2,275.7 152.7,275.8 153.2,275.9 153.7,276.0 154.2,276.0 154.7,276.1 155.2,276.2 155.7,276.3 156.2,276.3 156.7,276.4 157.2,276.4 157.7,276.5 158.1,276.6 158.6,276.6 159.1,276.7 159.6,276.7 160.1,276.8 160.6,276.8 161.1,276.9 161.6,276.9 162.1,276.9 162.6,277.0 163.1,277.0 163.6,277.1 164.1,277.1 164.6,277.1 165.0,277.2 165.5,277.2 166.0,277.2 166.5,277.3 167.0,277.3 167.5,277.3 168.0,277.4 168.5,277.4 169.0,277.4 169.5,277.5 170.0,277.5 170.5,277.5 171.0,277.5 171.5,277.6 171.9,277.6 172.4,277.6 172.9,277.7 173.4,277.7 173.9,277.7 174.4,277.8 174.9,277.8 175.4,277.8" fill="none" stroke="rgb(28,28,28)" stroke-width="0.85" stroke-linejoin="round" clip-path="url(#cC)"/>
<polyline points="20.1,275.0 20.6,273.8 21.1,272.7 21.6,271.5 22.1,270.0 22.6,268.0 23.1,265.4 23.6,262.6 24.0,259.7 24.5,256.7 25.0,253.5 25.5,250.4 26.0,247.5 26.5,244.8 27.0,242.2 27.5,239.8 28.0,237.8 28.5,236.1 29.0,234.6 29.5,233.3 30.0,232.2 30.5,231.2 31.0,230.4 31.4,230.1 31.9,230.1 32.4,230.2 32.9,230.7 33.4,231.4 33.9,231.7 34.4,231.5 34.9,231.1 35.4,230.7 35.9,230.3 36.4,229.8 36.9,229.3 37.4,228.7 37.9,228.3 38.3,228.0 38.8,227.8 39.3,227.6 39.8,227.4 40.3,227.2 40.8,227.1 41.3,227.0 41.8,226.9 42.3,226.9 42.8,226.8 43.3,226.8 43.8,226.7 44.3,226.6 44.8,226.5 45.2,226.4 45.7,226.4 46.2,226.3 46.7,226.2 47.2,226.2 47.7,226.1 48.2,226.0 48.7,226.0 49.2,225.9 49.7,225.9 50.2,225.9 50.7,225.9 51.2,225.9 51.7,225.9 52.2,225.8 52.6,225.7 53.1,225.6 53.6,225.4 54.1,225.2 54.6,224.9 55.1,224.6 55.6,224.4 56.1,224.1 56.6,223.7 57.1,223.4 57.6,223.2 58.1,222.9 58.6,222.6 59.1,222.4 59.5,222.1 60.0,221.8 60.5,221.6 61.0,221.3 61.5,221.0 62.0,220.7 62.5,220.4 63.0,220.0 63.5,219.7 64.0,219.3 64.5,218.9 65.0,218.5 65.5,218.1 66.0,217.6 66.4,217.2 66.9,216.8 67.4,216.3 67.9,215.9 68.4,215.5 68.9,215.1 69.4,214.7 69.9,214.3 70.4,213.9 70.9,213.6 71.4,213.2 71.9,212.8 72.4,212.5 72.9,212.2 73.3,211.9 73.8,211.7 74.3,211.5 74.8,211.3 75.3,211.2 75.8,211.0 76.3,211.0 76.8,210.9 77.3,210.9 77.8,210.9 78.3,211.0 78.8,211.0 79.3,211.1 79.8,211.2 80.3,211.3 80.7,211.4 81.2,211.6 81.7,211.8 82.2,211.9 82.7,212.1 83.2,212.3 83.7,212.6 84.2,212.9 84.7,213.2 85.2,213.6 85.7,213.9 86.2,214.3 86.7,214.8 87.2,215.2 87.6,215.7 88.1,216.2 88.6,216.7 89.1,217.3 89.6,217.9 90.1,218.5 90.6,219.2 91.1,219.8 91.6,220.5 92.1,221.2 92.6,221.9 93.1,222.7 93.6,223.5 94.1,224.3 94.5,225.2 95.0,226.0 95.5,226.9 96.0,227.7 96.5,228.6 97.0,229.4 97.5,230.2 98.0,231.1 98.5,231.9 99.0,232.8 99.5,233.6 100.0,234.5 100.5,235.3 101.0,236.1 101.4,236.9 101.9,237.7 102.4,238.5 102.9,239.3 103.4,240.0 103.9,240.8 104.4,241.6 104.9,242.3 105.4,243.1 105.9,243.8 106.4,244.6 106.9,245.4 107.4,246.2 107.9,247.0 108.4,247.7 108.8,248.5 109.3,249.3 109.8,250.0 110.3,250.7 110.8,251.4 111.3,252.0 111.8,252.6 112.3,253.2 112.8,253.8 113.3,254.3 113.8,254.9 114.3,255.4 114.8,255.9 115.3,256.4 115.7,256.9 116.2,257.4 116.7,257.8 117.2,258.3 117.7,258.8 118.2,259.2 118.7,259.7 119.2,260.1 119.7,260.6 120.2,261.0 120.7,261.4 121.2,261.9 121.7,262.3 122.2,262.7 122.6,263.1 123.1,263.5 123.6,263.9 124.1,264.2 124.6,264.6 125.1,264.9 125.6,265.3 126.1,265.6 126.6,265.9 127.1,266.3 127.6,266.6 128.1,266.9 128.6,267.2 129.1,267.5 129.6,267.8 130.0,268.1 130.5,268.3 131.0,268.6 131.5,268.9 132.0,269.1 132.5,269.4 133.0,269.6 133.5,269.8 134.0,270.1 134.5,270.3 135.0,270.5 135.5,270.8 136.0,271.0 136.5,271.2 136.9,271.4 137.4,271.6 137.9,271.8 138.4,272.0 138.9,272.2 139.4,272.3 139.9,272.5 140.4,272.7 140.9,272.8 141.4,273.0 141.9,273.1 142.4,273.3 142.9,273.4 143.4,273.5 143.8,273.7 144.3,273.8 144.8,273.9 145.3,274.1 145.8,274.2 146.3,274.3 146.8,274.4 147.3,274.5 147.8,274.6 148.3,274.7 148.8,274.8 149.3,274.9 149.8,275.0 150.3,275.1 150.8,275.2 151.2,275.3 151.7,275.4 152.2,275.5 152.7,275.6 153.2,275.7 153.7,275.7 154.2,275.8 154.7,275.9 155.2,276.0 155.7,276.1 156.2,276.1 156.7,276.2 157.2,276.3 157.7,276.3 158.1,276.4 158.6,276.5 159.1,276.5 159.6,276.6 160.1,276.6 160.6,276.7 161.1,276.7 161.6,276.8 162.1,276.8 162.6,276.9 163.1,276.9 163.6,276.9 164.1,277.0 164.6,277.0 165.0,277.0 165.5,277.1 166.0,277.1 166.5,277.2 167.0,277.2 167.5,277.2 168.0,277.3 168.5,277.3 169.0,277.3 169.5,277.4 170.0,277.4 170.5,277.4 171.0,277.4 171.5,277.5 171.9,277.5 172.4,277.5 172.9,277.6 173.4,277.6 173.9,277.6 174.4,277.7 174.9,277.7 175.4,277.8" fill="none" stroke="rgb(24,24,24)" stroke-width="0.85" stroke-linejoin="round" clip-path="url(#cC)"/>
<polyline points="20.1,275.2 20.6,274.1 21.1,273.1 21.6,272.0 22.1,270.6 22.6,268.8 23.1,266.5 23.6,263.9 24.0,261.3 24.5,258.7 25.0,255.9 25.5,253.1 26.0,250.6 26.5,248.2 27.0,245.8 27.5,243.7 28.0,241.9 28.5,240.3 29.0,239.0 29.5,237.8 30.0,236.7 30.5,235.7 31.0,235.0 31.4,234.6 31.9,234.7 32.4,234.8 32.9,235.4 33.4,236.1 33.9,236.4 34.4,236.3 34.9,236.0 35.4,235.6 35.9,235.2 36.4,234.7 36.9,234.2 37.4,233.7 37.9,233.2 38.3,232.9 38.8,232.7 39.3,232.4 39.8,232.2 40.3,232.1 40.8,231.9 41.3,231.8 41.8,231.6 42.3,231.5 42.8,231.4 43.3,231.3 43.8,231.1 44.3,231.0 44.8,230.8 45.2,230.6 45.7,230.5 46.2,230.3 46.7,230.2 47.2,230.0 47.7,229.8 48.2,229.6 48.7,229.5 49.2,229.3 49.7,229.2 50.2,229.1 50.7,229.0 51.2,228.9 51.7,228.7 52.2,228.5 52.6,228.3 53.1,228.0 53.6,227.6 54.1,227.2 54.6,226.8 55.1,226.3 55.6,225.9 56.1,225.3 56.6,224.8 57.1,224.2 57.6,223.7 58.1,223.2 58.6,222.6 59.1,222.1 59.5,221.6 60.0,221.1 60.5,220.5 61.0,220.0 61.5,219.5 62.0,218.9 62.5,218.4 63.0,217.8 63.5,217.2 64.0,216.6 64.5,215.9 65.0,215.3 65.5,214.7 66.0,214.1 66.4,213.5 66.9,212.8 67.4,212.2 67.9,211.6 68.4,211.0 68.9,210.4 69.4,209.9 69.9,209.4 70.4,208.9 70.9,208.4 71.4,207.9 71.9,207.4 72.4,207.0 72.9,206.6 73.3,206.2 73.8,205.9 74.3,205.6 74.8,205.4 75.3,205.1 75.8,204.9 76.3,204.8 76.8,204.7 77.3,204.7 77.8,204.6 78.3,204.6 78.8,204.6 79.3,204.6 79.8,204.7 80.3,204.8 80.7,205.0 81.2,205.1 81.7,205.3 82.2,205.4 82.7,205.6 83.2,205.8 83.7,206.0 84.2,206.4 84.7,206.7 85.2,207.1 85.7,207.5 86.2,207.9 86.7,208.4 87.2,208.8 87.6,209.4 88.1,209.9 88.6,210.5 89.1,211.1 89.6,211.8 90.1,212.5 90.6,213.2 91.1,213.9 91.6,214.6 92.1,215.4 92.6,216.2 93.1,217.1 93.6,217.9 94.1,218.9 94.5,219.8 95.0,220.7 95.5,221.7 96.0,222.6 96.5,223.6 97.0,224.5 97.5,225.4 98.0,226.3 98.5,227.3 99.0,228.2 99.5,229.1 100.0,230.1 100.5,231.0 101.0,231.9 101.4,232.8 101.9,233.7 102.4,234.5 102.9,235.4 103.4,236.2 103.9,237.1 104.4,237.9 104.9,238.7 105.4,239.6 105.9,240.4 106.4,241.2 106.9,242.1 107.4,243.0 107.9,243.9 108.4,244.7 108.8,245.6 109.3,246.4 109.8,247.2 110.3,248.0 110.8,248.8 111.3,249.5 111.8,250.1 112.3,250.8 112.8,251.4 113.3,252.0 113.8,252.6 114.3,253.2 114.8,253.7 115.3,254.3 115.7,254.8 116.2,255.3 116.7,255.9 117.2,256.4 117.7,256.9 118.2,257.4 118.7,257.9 119.2,258.4 119.7,258.9 120.2,259.4 120.7,259.8 121.2,260.3 121.7,260.8 122.2,261.2 122.6,261.6 123.1,262.1 123.6,262.5 124.1,262.9 124.6,263.3 125.1,263.7 125.6,264.0 126.1,264.4 126.6,264.8 127.1,265.1 127.6,265.5 128.1,265.8 128.6,266.1 129.1,266.5 129.6,266.8 130.0,267.1 130.5,267.4 131.0,267.7 131.5,268.0 132.0,268.3 132.5,268.5 133.0,268.8 133.5,269.1 134.0,269.3 134.5,269.6 135.0,269.8 135.5,270.1 136.0,270.3 136.5,270.5 136.9,270.7 137.4,271.0 137.9,271.2 138.4,271.4 138.9,271.6 139.4,271.8 139.9,272.0 140.4,272.1 140.9,272.3 141.4,272.5 141.9,272.6 142.4,272.8 142.9,273.0 143.4,273.1 143.8,273.2 144.3,273.4 144.8,273.5 145.3,273.7 145.8,273.8 146.3,273.9 146.8,274.0 147.3,274.2 147.8,274.3 148.3,274.4 148.8,274.5 149.3,274.6 149.8,274.7 150.3,274.8 150.8,274.9 151.2,275.0 151.7,275.1 152.2,275.2 152.7,275.3 153.2,275.4 153.7,275.5 154.2,275.6 154.7,275.7 155.2,275.8 155.7,275.8 156.2,275.9 156.7,276.0 157.2,276.1 157.7,276.1 158.1,276.2 158.6,276.3 159.1,276.3 159.6,276.4 160.1,276.5 160.6,276.5 161.1,276.6 161.6,276.6 162.1,276.7 162.6,276.7 163.1,276.7 163.6,276.8 164.1,276.8 164.6,276.9 165.0,276.9 165.5,277.0 166.0,277.0 166.5,277.0 167.0,277.1 167.5,277.1 168.0,277.1 168.5,277.2 169.0,277.2 169.5,277.2 170.0,277.3 170.5,277.3 171.0,277.3 171.5,277.4 171.9,277.4 172.4,277.4 172.9,277.5 173.4,277.5 173.9,277.6 174.4,277.6 174.9,277.6 175.4,277.7" fill="none" stroke="rgb(20,20,20)" stroke-width="0.85" stroke-linejoin="round" clip-path="url(#cC)"/>
<polyline points="20.1,275.4 20.6,274.4 21.1,273.5 21.6,272.5 22.1,271.3 22.6,269.7 23.1,267.6 23.6,265.4 24.0,263.1 24.5,260.8 25.0,258.3 25.5,255.9 26.0,253.7 26.5,251.6 27.0,249.6 27.5,247.7 28.0,246.1 28.5,244.7 29.0,243.4 29.5,242.4 30.0,241.3 30.5,240.4 31.0,239.6 31.4,239.3 31.9,239.3 32.4,239.6 32.9,240.1 33.4,241.0 33.9,241.3 34.4,241.2 34.9,240.9 35.4,240.6 35.9,240.2 36.4,239.8 36.9,239.2 37.4,238.7 37.9,238.3 38.3,238.0 38.8,237.7 39.3,237.4 39.8,237.2 40.3,237.0 40.8,236.8 41.3,236.6 41.8,236.4 42.3,236.3 42.8,236.1 43.3,235.9 43.8,235.6 44.3,235.4 44.8,235.2 45.2,234.9 45.7,234.7 46.2,234.4 46.7,234.2 47.2,233.9 47.7,233.6 48.2,233.3 48.7,233.1 49.2,232.8 49.7,232.5 50.2,232.3 50.7,232.1 51.2,231.9 51.7,231.6 52.2,231.3 52.6,230.9 53.1,230.5 53.6,230.0 54.1,229.4 54.6,228.7 55.1,228.1 55.6,227.4 56.1,226.7 56.6,225.9 57.1,225.1 57.6,224.2 58.1,223.4 58.6,222.6 59.1,221.8 59.5,221.1 60.0,220.3 60.5,219.5 61.0,218.7 61.5,218.0 62.0,217.2 62.5,216.3 63.0,215.5 63.5,214.7 64.0,213.8 64.5,213.0 65.0,212.1 65.5,211.3 66.0,210.5 66.4,209.7 66.9,208.9 67.4,208.1 67.9,207.3 68.4,206.5 68.9,205.8 69.4,205.1 69.9,204.5 70.4,203.8 70.9,203.2 71.4,202.6 71.9,202.0 72.4,201.4 72.9,200.9 73.3,200.5 73.8,200.1 74.3,199.7 74.8,199.4 75.3,199.1 75.8,198.8 76.3,198.6 76.8,198.5 77.3,198.4 77.8,198.3 78.3,198.2 78.8,198.2 79.3,198.2 79.8,198.3 80.3,198.4 80.7,198.5 81.2,198.6 81.7,198.7 82.2,198.9 82.7,199.1 83.2,199.3 83.7,199.5 84.2,199.9 84.7,200.2 85.2,200.6 85.7,201.1 86.2,201.5 86.7,202.0 87.2,202.5 87.6,203.1 88.1,203.7 88.6,204.3 89.1,205.0 89.6,205.7 90.1,206.5 90.6,207.2 91.1,208.0 91.6,208.8 92.1,209.6 92.6,210.5 93.1,211.4 93.6,212.4 94.1,213.4 94.5,214.4 95.0,215.5 95.5,216.5 96.0,217.5 96.5,218.6 97.0,219.6 97.5,220.6 98.0,221.6 98.5,222.6 99.0,223.6 99.5,224.7 100.0,225.7 100.5,226.7 101.0,227.7 101.4,228.7 101.9,229.6 102.4,230.6 102.9,231.5 103.4,232.4 103.9,233.3 104.4,234.3 104.9,235.2 105.4,236.1 105.9,237.0 106.4,237.9 106.9,238.9 107.4,239.8 107.9,240.8 108.4,241.7 108.8,242.7 109.3,243.6 109.8,244.5 110.3,245.3 110.8,246.2 111.3,246.9 111.8,247.7 112.3,248.4 112.8,249.0 113.3,249.7 113.8,250.3 114.3,251.0 114.8,251.6 115.3,252.2 115.7,252.7 116.2,253.3 116.7,253.9 117.2,254.4 117.7,255.0 118.2,255.6 118.7,256.1 119.2,256.6 119.7,257.2 120.2,257.7 120.7,258.2 121.2,258.7 121.7,259.2 122.2,259.7 122.6,260.2 123.1,260.6 123.6,261.1 124.1,261.5 124.6,262.0 125.1,262.4 125.6,262.8 126.1,263.2 126.6,263.6 127.1,264.0 127.6,264.4 128.1,264.7 128.6,265.1 129.1,265.5 129.6,265.8 130.0,266.2 130.5,266.5 131.0,266.8 131.5,267.1 132.0,267.4 132.5,267.7 133.0,268.0 133.5,268.3 134.0,268.6 134.5,268.8 135.0,269.1 135.5,269.4 136.0,269.6 136.5,269.9 136.9,270.1 137.4,270.3 137.9,270.6 138.4,270.8 138.9,271.0 139.4,271.2 139.9,271.4 140.4,271.6 140.9,271.8 141.4,272.0 141.9,272.2 142.4,272.3 142.9,272.5 143.4,272.7 143.8,272.8 144.3,273.0 144.8,273.1 145.3,273.3 145.8,273.4 146.3,273.5 146.8,273.7 147.3,273.8 147.8,273.9 148.3,274.1 148.8,274.2 149.3,274.3 149.8,274.4 150.3,274.5 150.8,274.6 151.2,274.7 151.7,274.8 152.2,274.9 152.7,275.0 153.2,275.1 153.7,275.2 154.2,275.3 154.7,275.4 155.2,275.5 155.7,275.6 156.2,275.7 156.7,275.8 157.2,275.9 157.7,275.9 158.1,276.0 158.6,276.1 159.1,276.2 159.6,276.2 160.1,276.3 160.6,276.3 161.1,276.4 161.6,276.4 162.1,276.5 162.6,276.5 163.1,276.6 163.6,276.6 164.1,276.7 164.6,276.7 165.0,276.8 165.5,276.8 166.0,276.9 166.5,276.9 167.0,276.9 167.5,277.0 168.0,277.0 168.5,277.1 169.0,277.1 169.5,277.1 170.0,277.2 170.5,277.2 171.0,277.2 171.5,277.3 171.9,277.3 172.4,277.3 172.9,277.4 173.4,277.4 173.9,277.5 174.4,277.5 174.9,277.5 175.4,277.6" fill="none" stroke="rgb(16,16,16)" stroke-width="0.85" stroke-linejoin="round" clip-path="url(#cC)"/>
<polyline points="20.1,275.6 20.6,274.7 21.1,273.8 21.6,272.9 22.1,271.8 22.6,270.3 23.1,268.5 23.6,266.5 24.0,264.4 24.5,262.4 25.0,260.2 25.5,258.1 26.0,256.1 26.5,254.3 27.0,252.5 27.5,250.8 28.0,249.4 28.5,248.1 29.0,246.9 29.5,245.9 30.0,245.0 30.5,244.0 31.0,243.3 31.4,242.9 31.9,243.0 32.4,243.2 32.9,243.9 33.4,244.8 33.9,245.2 34.4,245.0 34.9,244.8 35.4,244.5 35.9,244.2 36.4,243.7 36.9,243.2 37.4,242.6 37.9,242.2 38.3,241.9 38.8,241.6 39.3,241.3 39.8,241.1 40.3,240.9 40.8,240.7 41.3,240.4 41.8,240.2 42.3,240.0 42.8,239.7 43.3,239.5 43.8,239.2 44.3,238.9 44.8,238.6 45.2,238.3 45.7,238.0 46.2,237.6 46.7,237.3 47.2,237.0 47.7,236.6 48.2,236.2 48.7,235.9 49.2,235.5 49.7,235.2 50.2,234.9 50.7,234.6 51.2,234.2 51.7,233.9 52.2,233.5 52.6,233.0 53.1,232.5 53.6,231.8 54.1,231.1 54.6,230.3 55.1,229.5 55.6,228.7 56.1,227.8 56.6,226.8 57.1,225.7 57.6,224.7 58.1,223.7 58.6,222.6 59.1,221.6 59.5,220.6 60.0,219.6 60.5,218.5 61.0,217.5 61.5,216.5 62.0,215.4 62.5,214.4 63.0,213.3 63.5,212.2 64.0,211.1 64.5,210.0 65.0,209.0 65.5,207.9 66.0,206.9 66.4,205.9 66.9,204.9 67.4,204.0 67.9,203.0 68.4,202.1 68.9,201.2 69.4,200.3 69.9,199.5 70.4,198.8 70.9,198.0 71.4,197.3 71.9,196.6 72.4,195.9 72.9,195.3 73.3,194.7 73.8,194.2 74.3,193.8 74.8,193.4 75.3,193.0 75.8,192.7 76.3,192.4 76.8,192.2 77.3,192.1 77.8,192.0 78.3,191.9 78.8,191.8 79.3,191.8 79.8,191.8 80.3,191.9 80.7,192.0 81.2,192.1 81.7,192.2 82.2,192.4 82.7,192.5 83.2,192.7 83.7,193.0 84.2,193.4 84.7,193.7 85.2,194.2 85.7,194.7 86.2,195.1 86.7,195.6 87.2,196.2 87.6,196.7 88.1,197.4 88.6,198.1 89.1,198.8 89.6,199.6 90.1,200.4 90.6,201.2 91.1,202.1 91.6,203.0 92.1,203.8 92.6,204.8 93.1,205.8 93.6,206.9 94.1,207.9 94.5,209.1 95.0,210.2 95.5,211.3 96.0,212.4 96.5,213.6 97.0,214.7 97.5,215.7 98.0,216.8 98.5,218.0 99.0,219.1 99.5,220.2 100.0,221.3 100.5,222.4 101.0,223.5 101.4,224.5 101.9,225.6 102.4,226.6 102.9,227.6 103.4,228.6 103.9,229.6 104.4,230.6 104.9,231.6 105.4,232.6 105.9,233.6 106.4,234.6 106.9,235.6 107.4,236.6 107.9,237.7 108.4,238.7 108.8,239.7 109.3,240.7 109.8,241.7 110.3,242.6 110.8,243.5 111.3,244.4 111.8,245.2 112.3,245.9 112.8,246.7 113.3,247.4 113.8,248.1 114.3,248.7 114.8,249.4 115.3,250.0 115.7,250.7 116.2,251.3 116.7,251.9 117.2,252.5 117.7,253.1 118.2,253.7 118.7,254.3 119.2,254.9 119.7,255.5 120.2,256.0 120.7,256.6 121.2,257.1 121.7,257.7 122.2,258.2 122.6,258.7 123.1,259.2 123.6,259.7 124.1,260.2 124.6,260.7 125.1,261.1 125.6,261.6 126.1,262.0 126.6,262.4 127.1,262.9 127.6,263.3 128.1,263.7 128.6,264.1 129.1,264.5 129.6,264.8 130.0,265.2 130.5,265.6 131.0,265.9 131.5,266.2 132.0,266.6 132.5,266.9 133.0,267.2 133.5,267.5 134.0,267.8 134.5,268.1 135.0,268.4 135.5,268.7 136.0,268.9 136.5,269.2 136.9,269.5 137.4,269.7 137.9,270.0 138.4,270.2 138.9,270.5 139.4,270.7 139.9,270.9 140.4,271.1 140.9,271.3 141.4,271.5 141.9,271.7 142.4,271.9 142.9,272.0 143.4,272.2 143.8,272.4 144.3,272.6 144.8,272.7 145.3,272.9 145.8,273.0 146.3,273.2 146.8,273.3 147.3,273.5 147.8,273.6 148.3,273.7 148.8,273.9 149.3,274.0 149.8,274.1 150.3,274.2 150.8,274.3 151.2,274.5 151.7,274.6 152.2,274.7 152.7,274.8 153.2,274.9 153.7,275.0 154.2,275.1 154.7,275.2 155.2,275.3 155.7,275.4 156.2,275.5 156.7,275.6 157.2,275.7 157.7,275.7 158.1,275.8 158.6,275.9 159.1,276.0 159.6,276.0 160.1,276.1 160.6,276.2 161.1,276.2 161.6,276.3 162.1,276.3 162.6,276.4 163.1,276.4 163.6,276.5 164.1,276.5 164.6,276.6 165.0,276.6 165.5,276.7 166.0,276.7 166.5,276.8 167.0,276.8 167.5,276.9 168.0,276.9 168.5,276.9 169.0,277.0 169.5,277.0 170.0,277.0 170.5,277.1 171.0,277.1 171.5,277.2 171.9,277.2 172.4,277.2 172.9,277.3 173.4,277.3 173.9,277.4 174.4,277.4 174.9,277.4 175.4,277.5" fill="none" stroke="rgb(12,12,12)" stroke-width="0.85" stroke-linejoin="round" clip-path="url(#cC)"/>
<polyline points="20.1,275.7 20.6,274.9 21.1,274.1 21.6,273.3 22.1,272.3 22.6,271.0 23.1,269.4 23.6,267.6 24.0,265.9 24.5,264.1 25.0,262.3 25.5,260.4 26.0,258.7 26.5,257.1 27.0,255.6 27.5,254.1 28.0,252.8 28.5,251.7 29.0,250.6 29.5,249.7 30.0,248.8 30.5,247.8 31.0,247.1 31.4,246.8 31.9,246.9 32.4,247.1 32.9,247.8 33.4,248.8 33.9,249.2 34.4,249.1 34.9,248.9 35.4,248.6 35.9,248.3 36.4,247.8 36.9,247.3 37.4,246.8 37.9,246.4 38.3,246.0 38.8,245.7 39.3,245.5 39.8,245.2 40.3,245.0 40.8,244.7 41.3,244.5 41.8,244.2 42.3,243.9 42.8,243.6 43.3,243.3 43.8,242.9 44.3,242.6 44.8,242.2 45.2,241.8 45.7,241.4 46.2,241.0 46.7,240.6 47.2,240.2 47.7,239.7 48.2,239.3 48.7,238.8 49.2,238.4 49.7,238.0 50.2,237.6 50.7,237.2 51.2,236.7 51.7,236.3 52.2,235.8 52.6,235.2 53.1,234.5 53.6,233.8 54.1,232.9 54.6,232.0 55.1,231.0 55.6,230.0 56.1,228.9 56.6,227.7 57.1,226.5 57.6,225.2 58.1,223.9 58.6,222.6 59.1,221.4 59.5,220.1 60.0,218.8 60.5,217.5 61.0,216.2 61.5,214.9 62.0,213.6 62.5,212.3 63.0,211.0 63.5,209.7 64.0,208.3 64.5,207.0 65.0,205.7 65.5,204.5 66.0,203.2 66.4,202.1 66.9,200.9 67.4,199.7 67.9,198.6 68.4,197.4 68.9,196.4 69.4,195.4 69.9,194.4 70.4,193.5 70.9,192.6 71.4,191.8 71.9,190.9 72.4,190.2 72.9,189.4 73.3,188.8 73.8,188.2 74.3,187.7 74.8,187.2 75.3,186.7 75.8,186.3 76.3,186.0 76.8,185.8 77.3,185.6 77.8,185.5 78.3,185.3 78.8,185.2 79.3,185.2 79.8,185.2 80.3,185.2 80.7,185.3 81.2,185.4 81.7,185.5 82.2,185.7 82.7,185.8 83.2,186.0 83.7,186.3 84.2,186.6 84.7,187.1 85.2,187.5 85.7,188.0 86.2,188.5 86.7,189.0 87.2,189.6 87.6,190.2 88.1,190.9 88.6,191.7 89.1,192.5 89.6,193.3 90.1,194.2 90.6,195.1 91.1,196.0 91.6,196.9 92.1,197.9 92.6,198.9 93.1,200.0 93.6,201.1 94.1,202.3 94.5,203.5 95.0,204.7 95.5,206.0 96.0,207.2 96.5,208.4 97.0,209.6 97.5,210.8 98.0,211.9 98.5,213.2 99.0,214.4 99.5,215.6 100.0,216.8 100.5,218.0 101.0,219.1 101.4,220.3 101.9,221.4 102.4,222.5 102.9,223.6 103.4,224.7 103.9,225.8 104.4,226.8 104.9,227.9 105.4,229.0 105.9,230.0 106.4,231.1 106.9,232.2 107.4,233.4 107.9,234.5 108.4,235.6 108.8,236.7 109.3,237.8 109.8,238.9 110.3,239.9 110.8,240.8 111.3,241.7 111.8,242.6 112.3,243.4 112.8,244.2 113.3,245.0 113.8,245.7 114.3,246.4 114.8,247.2 115.3,247.9 115.7,248.5 116.2,249.2 116.7,249.9 117.2,250.5 117.7,251.2 118.2,251.8 118.7,252.5 119.2,253.1 119.7,253.7 120.2,254.3 120.7,254.9 121.2,255.5 121.7,256.1 122.2,256.7 122.6,257.2 123.1,257.8 123.6,258.3 124.1,258.8 124.6,259.3 125.1,259.8 125.6,260.3 126.1,260.8 126.6,261.2 127.1,261.7 127.6,262.1 128.1,262.6 128.6,263.0 129.1,263.4 129.6,263.8 130.0,264.2 130.5,264.6 131.0,265.0 131.5,265.3 132.0,265.7 132.5,266.0 133.0,266.3 133.5,266.7 134.0,267.0 134.5,267.3 135.0,267.6 135.5,267.9 136.0,268.2 136.5,268.5 136.9,268.8 137.4,269.1 137.9,269.4 138.4,269.6 138.9,269.9 139.4,270.1 139.9,270.3 140.4,270.6 140.9,270.8 141.4,271.0 141.9,271.2 142.4,271.4 142.9,271.6 143.4,271.8 143.8,271.9 144.3,272.1 144.8,272.3 145.3,272.5 145.8,272.6 146.3,272.8 146.8,272.9 147.3,273.1 147.8,273.2 148.3,273.4 148.8,273.5 149.3,273.6 149.8,273.8 150.3,273.9 150.8,274.0 151.2,274.2 151.7,274.3 152.2,274.4 152.7,274.5 153.2,274.6 153.7,274.7 154.2,274.8 154.7,275.0 155.2,275.1 155.7,275.2 156.2,275.3 156.7,275.4 157.2,275.5 157.7,275.5 158.1,275.6 158.6,275.7 159.1,275.8 159.6,275.9 160.1,275.9 160.6,276.0 161.1,276.1 161.6,276.1 162.1,276.2 162.6,276.2 163.1,276.3 163.6,276.4 164.1,276.4 164.6,276.5 165.0,276.5 165.5,276.5 166.0,276.6 166.5,276.6 167.0,276.7 167.5,276.7 168.0,276.8 168.5,276.8 169.0,276.9 169.5,276.9 170.0,276.9 170.5,277.0 171.0,277.0 171.5,277.1 171.9,277.1 172.4,277.1 172.9,277.2 173.4,277.2 173.9,277.3 174.4,277.3 174.9,277.4 175.4,277.4" fill="none" stroke="rgb(8,8,8)" stroke-width="0.85" stroke-linejoin="round" clip-path="url(#cC)"/>
<polyline points="20.1,276.0 20.6,275.3 21.1,274.7 21.6,274.0 22.1,273.1 22.6,272.1 23.1,270.8 23.6,269.5 24.0,268.1 24.5,266.8 25.0,265.4 25.5,264.1 26.0,262.8 26.5,261.6 27.0,260.4 27.5,259.3 28.0,258.3 28.5,257.4 29.0,256.5 29.5,255.7 30.0,254.8 30.5,253.9 31.0,253.1 31.4,252.8 31.9,253.0 32.4,253.3 32.9,254.1 33.4,255.1 33.9,255.6 34.4,255.5 34.9,255.4 35.4,255.1 35.9,254.8 36.4,254.4 36.9,253.9 37.4,253.4 37.9,252.9 38.3,252.6 38.8,252.3 39.3,252.0 39.8,251.7 40.3,251.4 40.8,251.1 41.3,250.8 41.8,250.5 42.3,250.1 42.8,249.7 43.3,249.3 43.8,248.8 44.3,248.4 44.8,247.9 45.2,247.4 45.7,246.9 46.2,246.4 46.7,245.8 47.2,245.3 47.7,244.7 48.2,244.1 48.7,243.5 49.2,242.9 49.7,242.3 50.2,241.8 50.7,241.2 51.2,240.7 51.7,240.0 52.2,239.4 52.6,238.6 53.1,237.8 53.6,236.8 54.1,235.7 54.6,234.5 55.1,233.3 55.6,232.0 56.1,230.6 56.6,229.1 57.1,227.5 57.6,225.9 58.1,224.3 58.6,222.6 59.1,221.0 59.5,219.4 60.0,217.8 60.5,216.2 61.0,214.5 61.5,212.9 62.0,211.3 62.5,209.6 63.0,208.0 63.5,206.3 64.0,204.7 64.5,203.1 65.0,201.5 65.5,200.0 66.0,198.5 66.4,197.0 66.9,195.6 67.4,194.2 67.9,192.8 68.4,191.5 68.9,190.2 69.4,189.0 69.9,187.9 70.4,186.8 70.9,185.7 71.4,184.7 71.9,183.7 72.4,182.8 72.9,181.9 73.3,181.1 73.8,180.4 74.3,179.8 74.8,179.2 75.3,178.7 75.8,178.2 76.3,177.8 76.8,177.5 77.3,177.2 77.8,177.0 78.3,176.8 78.8,176.7 79.3,176.6 79.8,176.6 80.3,176.6 80.7,176.6 81.2,176.7 81.7,176.8 82.2,177.0 82.7,177.1 83.2,177.3 83.7,177.6 84.2,178.0 84.7,178.4 85.2,178.9 85.7,179.4 86.2,180.0 86.7,180.5 87.2,181.2 87.6,181.8 88.1,182.6 88.6,183.4 89.1,184.3 89.6,185.2 90.1,186.1 90.6,187.1 91.1,188.1 91.6,189.1 92.1,190.2 92.6,191.3 93.1,192.5 93.6,193.8 94.1,195.0 94.5,196.4 95.0,197.7 95.5,199.0 96.0,200.4 96.5,201.7 97.0,203.0 97.5,204.3 98.0,205.6 98.5,207.0 99.0,208.3 99.5,209.6 100.0,210.9 100.5,212.2 101.0,213.5 101.4,214.8 101.9,216.0 102.4,217.2 102.9,218.4 103.4,219.6 103.9,220.8 104.4,222.0 104.9,223.1 105.4,224.3 105.9,225.5 106.4,226.7 106.9,227.9 107.4,229.1 107.9,230.4 108.4,231.6 108.8,232.8 109.3,234.0 109.8,235.2 110.3,236.3 110.8,237.3 111.3,238.3 111.8,239.3 112.3,240.2 112.8,241.0 113.3,241.9 113.8,242.7 114.3,243.5 114.8,244.3 115.3,245.0 115.7,245.8 116.2,246.5 116.7,247.2 117.2,247.9 117.7,248.7 118.2,249.4 118.7,250.1 119.2,250.8 119.7,251.4 120.2,252.1 120.7,252.8 121.2,253.4 121.7,254.1 122.2,254.7 122.6,255.3 123.1,255.9 123.6,256.5 124.1,257.0 124.6,257.6 125.1,258.1 125.6,258.6 126.1,259.2 126.6,259.7 127.1,260.2 127.6,260.7 128.1,261.1 128.6,261.6 129.1,262.1 129.6,262.5 130.0,262.9 130.5,263.4 131.0,263.8 131.5,264.2 132.0,264.5 132.5,264.9 133.0,265.3 133.5,265.6 134.0,266.0 134.5,266.3 135.0,266.7 135.5,267.0 136.0,267.3 136.5,267.7 136.9,268.0 137.4,268.3 137.9,268.6 138.4,268.8 138.9,269.1 139.4,269.4 139.9,269.6 140.4,269.9 140.9,270.1 141.4,270.3 141.9,270.5 142.4,270.8 142.9,271.0 143.4,271.2 143.8,271.4 144.3,271.6 144.8,271.7 145.3,271.9 145.8,272.1 146.3,272.3 146.8,272.4 147.3,272.6 147.8,272.8 148.3,272.9 148.8,273.1 149.3,273.2 149.8,273.4 150.3,273.5 150.8,273.6 151.2,273.8 151.7,273.9 152.2,274.0 152.7,274.2 153.2,274.3 153.7,274.4 154.2,274.5 154.7,274.6 155.2,274.8 155.7,274.9 156.2,275.0 156.7,275.1 157.2,275.2 157.7,275.3 158.1,275.4 158.6,275.5 159.1,275.6 159.6,275.6 160.1,275.7 160.6,275.8 161.1,275.8 161.6,275.9 162.1,276.0 162.6,276.0 163.1,276.1 163.6,276.2 164.1,276.2 164.6,276.3 165.0,276.3 165.5,276.4 166.0,276.4 166.5,276.5 167.0,276.5 167.5,276.6 168.0,276.6 168.5,276.7 169.0,276.7 169.5,276.7 170.0,276.8 170.5,276.8 171.0,276.9 171.5,276.9 171.9,277.0 172.4,277.0 172.9,277.0 173.4,277.1 173.9,277.1 174.4,277.2 174.9,277.2 175.4,277.3" fill="none" stroke="rgb(5,5,5)" stroke-width="0.85" stroke-linejoin="round" clip-path="url(#cC)"/>
<circle cx="42.40" cy="255.70" r="1.50" fill="#000"/>
<rect x="22.20" y="159.50" width="153.20" height="122.90" fill="none" stroke="#6e6e6e" stroke-width="1.0"/>
<line x1="27.50" y1="282.40" x2="27.50" y2="284.40" stroke="#6e6e6e" stroke-width="0.8"/>
<line x1="52.15" y1="282.40" x2="52.15" y2="284.40" stroke="#6e6e6e" stroke-width="0.8"/>
<line x1="76.80" y1="282.40" x2="76.80" y2="284.40" stroke="#6e6e6e" stroke-width="0.8"/>
<line x1="101.45" y1="282.40" x2="101.45" y2="284.40" stroke="#6e6e6e" stroke-width="0.8"/>
<line x1="126.10" y1="282.40" x2="126.10" y2="284.40" stroke="#6e6e6e" stroke-width="0.8"/>
<line x1="150.75" y1="282.40" x2="150.75" y2="284.40" stroke="#6e6e6e" stroke-width="0.8"/>
<line x1="175.40" y1="282.40" x2="175.40" y2="284.40" stroke="#6e6e6e" stroke-width="0.8"/>
<line x1="39.83" y1="282.40" x2="39.83" y2="283.60" stroke="#6e6e6e" stroke-width="0.7"/>
<line x1="64.47" y1="282.40" x2="64.47" y2="283.60" stroke="#6e6e6e" stroke-width="0.7"/>
<line x1="89.12" y1="282.40" x2="89.12" y2="283.60" stroke="#6e6e6e" stroke-width="0.7"/>
<line x1="113.78" y1="282.40" x2="113.78" y2="283.60" stroke="#6e6e6e" stroke-width="0.7"/>
<line x1="138.43" y1="282.40" x2="138.43" y2="283.60" stroke="#6e6e6e" stroke-width="0.7"/>
<line x1="163.07" y1="282.40" x2="163.07" y2="283.60" stroke="#6e6e6e" stroke-width="0.7"/>
<text x="27.50" y="291.66" font-size="6.3" text-anchor="middle" class="tl">400</text>
<text x="52.15" y="291.66" font-size="6.3" text-anchor="middle" class="tl">450</text>
<text x="76.80" y="291.66" font-size="6.3" text-anchor="middle" class="tl">500</text>
<text x="101.45" y="291.66" font-size="6.3" text-anchor="middle" class="tl">550</text>
<text x="126.10" y="291.66" font-size="6.3" text-anchor="middle" class="tl">600</text>
<text x="150.75" y="291.66" font-size="6.3" text-anchor="middle" class="tl">650</text>
<text x="175.40" y="291.66" font-size="6.3" text-anchor="middle" class="tl">700</text>
<line x1="20.20" y1="279.00" x2="22.20" y2="279.00" stroke="#6e6e6e" stroke-width="0.8"/>
<line x1="20.20" y1="257.32" x2="22.20" y2="257.32" stroke="#6e6e6e" stroke-width="0.8"/>
<line x1="20.20" y1="235.64" x2="22.20" y2="235.64" stroke="#6e6e6e" stroke-width="0.8"/>
<line x1="20.20" y1="213.96" x2="22.20" y2="213.96" stroke="#6e6e6e" stroke-width="0.8"/>
<line x1="20.20" y1="192.28" x2="22.20" y2="192.28" stroke="#6e6e6e" stroke-width="0.8"/>
<line x1="20.20" y1="170.60" x2="22.20" y2="170.60" stroke="#6e6e6e" stroke-width="0.8"/>
<line x1="21.00" y1="268.16" x2="22.20" y2="268.16" stroke="#6e6e6e" stroke-width="0.7"/>
<line x1="21.00" y1="246.48" x2="22.20" y2="246.48" stroke="#6e6e6e" stroke-width="0.7"/>
<line x1="21.00" y1="224.80" x2="22.20" y2="224.80" stroke="#6e6e6e" stroke-width="0.7"/>
<line x1="21.00" y1="203.12" x2="22.20" y2="203.12" stroke="#6e6e6e" stroke-width="0.7"/>
<line x1="21.00" y1="181.44" x2="22.20" y2="181.44" stroke="#6e6e6e" stroke-width="0.7"/>
<text x="18.60" y="281.26" font-size="6.3" text-anchor="end" class="tl">0.0</text>
<text x="18.60" y="259.58" font-size="6.3" text-anchor="end" class="tl">0.2</text>
<text x="18.60" y="237.90" font-size="6.3" text-anchor="end" class="tl">0.4</text>
<text x="18.60" y="216.22" font-size="6.3" text-anchor="end" class="tl">0.6</text>
<text x="18.60" y="194.54" font-size="6.3" text-anchor="end" class="tl">0.8</text>
<text x="18.60" y="172.86" font-size="6.3" text-anchor="end" class="tl">1.0</text>
<text x="27.60" y="173.20" font-size="9.2" text-anchor="start" font-weight="bold" fill="#111" stroke="#111" stroke-width="0.3" >C</text>
<text x="0" y="0" font-size="7.25" text-anchor="middle" font-weight="bold" fill="#111" stroke="#111" stroke-width="0.3" transform="translate(7.00,218.90) rotate(-90)">Fluorescence (a.u.)</text>
<text x="98.30" y="304.00" font-size="6.9" text-anchor="middle" font-weight="bold" fill="#111" stroke="#111" stroke-width="0.3" >Wavelength (nm)</text>
<line x1="49.20" y1="171.30" x2="49.20" y2="184.40" stroke="#bbb" stroke-width="0.7"/>
<path d="M48.30,182.60L50.10,182.60L49.20,184.40Z" fill="#333"/>
<line x1="98.80" y1="184.80" x2="98.80" y2="171.10" stroke="#bbb" stroke-width="0.7"/>
<path d="M97.90,172.90L99.70,172.90L98.80,171.10Z" fill="#333"/>
<text x="105.00" y="181.40" font-size="5.8" text-anchor="start" font-weight="normal" fill="#222" stroke="#222" stroke-width="0.2" >0-40 uM NaHS</text>
<rect x="208.30" y="160.50" width="149.50" height="120.00" fill="none" stroke="#6e6e6e" stroke-width="1.0"/>
<path d="M211.70,171.06V172.14M210.50,171.06H212.90M210.50,172.14H212.90" stroke="#444" stroke-width="0.6" fill="none"/>
<rect x="209.90" y="169.80" width="3.60" height="3.60" rx="0.9" fill="#444444"/>
<path d="M218.84,179.70V181.86M217.65,179.70H220.04M217.65,181.86H220.04" stroke="#444" stroke-width="0.6" fill="none"/>
<rect x="217.04" y="178.98" width="3.60" height="3.60" rx="0.9" fill="#444444"/>
<path d="M225.99,184.02V186.18M224.79,184.02H227.19M224.79,186.18H227.19" stroke="#444" stroke-width="0.6" fill="none"/>
<rect x="224.19" y="183.30" width="3.60" height="3.60" rx="0.9" fill="#444444"/>
<path d="M233.13,188.88V191.04M231.94,188.88H234.33M231.94,191.04H234.33" stroke="#444" stroke-width="0.6" fill="none"/>
<rect x="231.33" y="188.16" width="3.60" height="3.60" rx="0.9" fill="#444444"/>
<path d="M240.28,193.20V197.52M239.08,193.20H241.48M239.08,197.52H241.48" stroke="#444" stroke-width="0.6" fill="none"/>
<rect x="238.48" y="193.56" width="3.60" height="3.60" rx="0.9" fill="#444444"/>
<path d="M247.43,203.57V205.73M246.23,203.57H248.62M246.23,205.73H248.62" stroke="#444" stroke-width="0.6" fill="none"/>
<rect x="245.62" y="202.85" width="3.60" height="3.60" rx="0.9" fill="#444444"/>
<path d="M254.57,207.78V212.10M253.37,207.78H255.77M253.37,212.10H255.77" stroke="#444" stroke-width="0.6" fill="none"/>
<rect x="252.77" y="208.14" width="3.60" height="3.60" rx="0.9" fill="#444444"/>
<path d="M261.71,214.80V219.12M260.51,214.80H262.91M260.51,219.12H262.91" stroke="#444" stroke-width="0.6" fill="none"/>
<rect x="259.91" y="215.16" width="3.60" height="3.60" rx="0.9" fill="#444444"/>
<path d="M268.86,217.72V224.20M267.66,217.72H270.06M267.66,224.20H270.06" stroke="#444" stroke-width="0.6" fill="none"/>
<rect x="267.06" y="219.16" width="3.60" height="3.60" rx="0.9" fill="#444444"/>
<path d="M276.00,227.76V229.92M274.81,227.76H277.20M274.81,229.92H277.20" stroke="#444" stroke-width="0.6" fill="none"/>
<rect x="274.20" y="227.04" width="3.60" height="3.60" rx="0.9" fill="#444444"/>
<path d="M283.15,232.08V234.24M281.95,232.08H284.35M281.95,234.24H284.35" stroke="#444" stroke-width="0.6" fill="none"/>
<rect x="281.35" y="231.36" width="3.60" height="3.60" rx="0.9" fill="#444444"/>
<path d="M290.30,240.07V242.23M289.10,240.07H291.50M289.10,242.23H291.50" stroke="#444" stroke-width="0.6" fill="none"/>
<rect x="288.50" y="239.35" width="3.60" height="3.60" rx="0.9" fill="#444444"/>
<path d="M301.01,244.72V249.04M299.81,244.72H302.21M299.81,249.04H302.21" stroke="#444" stroke-width="0.6" fill="none"/>
<rect x="299.21" y="245.08" width="3.60" height="3.60" rx="0.9" fill="#444444"/>
<path d="M318.88,251.84V257.24M317.68,251.84H320.07M317.68,257.24H320.07" stroke="#444" stroke-width="0.6" fill="none"/>
<rect x="317.07" y="252.74" width="3.60" height="3.60" rx="0.9" fill="#444444"/>
<path d="M336.74,252.17V257.57M335.54,252.17H337.94M335.54,257.57H337.94" stroke="#444" stroke-width="0.6" fill="none"/>
<rect x="334.94" y="253.07" width="3.60" height="3.60" rx="0.9" fill="#444444"/>
<path d="M354.60,252.60V258.00M353.40,252.60H355.80M353.40,258.00H355.80" stroke="#444" stroke-width="0.6" fill="none"/>
<rect x="352.80" y="253.50" width="3.60" height="3.60" rx="0.9" fill="#444444"/>
<path d="M211.70,263.83V264.91M210.50,263.83H212.90M210.50,264.91H212.90" stroke="#f03030" stroke-width="0.6" fill="none"/>
<circle cx="211.70" cy="264.37" r="2.00" fill="#f22a2a"/>
<path d="M218.84,259.94V262.10M217.65,259.94H220.04M217.65,262.10H220.04" stroke="#f03030" stroke-width="0.6" fill="none"/>
<circle cx="218.84" cy="261.02" r="2.00" fill="#f22a2a"/>
<path d="M225.99,254.65V256.81M224.79,254.65H227.19M224.79,256.81H227.19" stroke="#f03030" stroke-width="0.6" fill="none"/>
<circle cx="225.99" cy="255.73" r="2.00" fill="#f22a2a"/>
<path d="M233.13,247.63V249.79M231.94,247.63H234.33M231.94,249.79H234.33" stroke="#f03030" stroke-width="0.6" fill="none"/>
<circle cx="233.13" cy="248.71" r="2.00" fill="#f22a2a"/>
<path d="M240.28,239.75V241.91M239.08,239.75H241.48M239.08,241.91H241.48" stroke="#f03030" stroke-width="0.6" fill="none"/>
<circle cx="240.28" cy="240.83" r="2.00" fill="#f22a2a"/>
<path d="M247.43,232.94V235.10M246.23,232.94H248.62M246.23,235.10H248.62" stroke="#f03030" stroke-width="0.6" fill="none"/>
<circle cx="247.43" cy="234.02" r="2.00" fill="#f22a2a"/>
<path d="M254.57,225.60V228.84M253.37,225.60H255.77M253.37,228.84H255.77" stroke="#f03030" stroke-width="0.6" fill="none"/>
<circle cx="254.57" cy="227.22" r="2.00" fill="#f22a2a"/>
<path d="M261.71,217.39V221.71M260.51,217.39H262.91M260.51,221.71H262.91" stroke="#f03030" stroke-width="0.6" fill="none"/>
<circle cx="261.71" cy="219.55" r="2.00" fill="#f22a2a"/>
<path d="M268.86,210.91V215.23M267.66,210.91H270.06M267.66,215.23H270.06" stroke="#f03030" stroke-width="0.6" fill="none"/>
<circle cx="268.86" cy="213.07" r="2.00" fill="#f22a2a"/>
<path d="M276.00,203.68V208.00M274.81,203.68H277.20M274.81,208.00H277.20" stroke="#f03030" stroke-width="0.6" fill="none"/>
<circle cx="276.00" cy="205.84" r="2.00" fill="#f22a2a"/>
<path d="M283.15,199.03V203.35M281.95,199.03H284.35M281.95,203.35H284.35" stroke="#f03030" stroke-width="0.6" fill="none"/>
<circle cx="283.15" cy="201.19" r="2.00" fill="#f22a2a"/>
<path d="M290.30,191.69V196.01M289.10,191.69H291.50M289.10,196.01H291.50" stroke="#f03030" stroke-width="0.6" fill="none"/>
<circle cx="290.30" cy="193.85" r="2.00" fill="#f22a2a"/>
<path d="M301.01,186.18V189.42M299.81,186.18H302.21M299.81,189.42H302.21" stroke="#f03030" stroke-width="0.6" fill="none"/>
<circle cx="301.01" cy="187.80" r="2.00" fill="#f22a2a"/>
<path d="M318.88,176.68V183.37M317.68,176.68H320.07M317.68,183.37H320.07" stroke="#f03030" stroke-width="0.6" fill="none"/>
<circle cx="318.88" cy="180.02" r="2.00" fill="#f22a2a"/>
<path d="M336.74,173.44V180.56M335.54,173.44H337.94M335.54,180.56H337.94" stroke="#f03030" stroke-width="0.6" fill="none"/>
<circle cx="336.74" cy="177.00" r="2.00" fill="#f22a2a"/>
<path d="M354.60,172.46V179.81M353.40,172.46H355.80M353.40,179.81H355.80" stroke="#f03030" stroke-width="0.6" fill="none"/>
<circle cx="354.60" cy="176.14" r="2.00" fill="#f22a2a"/>
<line x1="211.70" y1="280.50" x2="211.70" y2="282.50" stroke="#6e6e6e" stroke-width="0.8"/>
<line x1="247.43" y1="280.50" x2="247.43" y2="282.50" stroke="#6e6e6e" stroke-width="0.8"/>
<line x1="283.15" y1="280.50" x2="283.15" y2="282.50" stroke="#6e6e6e" stroke-width="0.8"/>
<line x1="318.88" y1="280.50" x2="318.88" y2="282.50" stroke="#6e6e6e" stroke-width="0.8"/>
<line x1="354.60" y1="280.50" x2="354.60" y2="282.50" stroke="#6e6e6e" stroke-width="0.8"/>
<line x1="229.56" y1="280.50" x2="229.56" y2="281.70" stroke="#6e6e6e" stroke-width="0.7"/>
<line x1="265.29" y1="280.50" x2="265.29" y2="281.70" stroke="#6e6e6e" stroke-width="0.7"/>
<line x1="301.01" y1="280.50" x2="301.01" y2="281.70" stroke="#6e6e6e" stroke-width="0.7"/>
<line x1="336.74" y1="280.50" x2="336.74" y2="281.70" stroke="#6e6e6e" stroke-width="0.7"/>
<text x="211.70" y="290.26" font-size="6.3" text-anchor="middle" class="tl">0</text>
<text x="247.43" y="290.26" font-size="6.3" text-anchor="middle" class="tl">10</text>
<text x="283.15" y="290.26" font-size="6.3" text-anchor="middle" class="tl">20</text>
<text x="318.88" y="290.26" font-size="6.3" text-anchor="middle" class="tl">30</text>
<text x="354.60" y="290.26" font-size="6.3" text-anchor="middle" class="tl">40</text>
<line x1="206.30" y1="279.60" x2="208.30" y2="279.60" stroke="#6e6e6e" stroke-width="0.8"/>
<line x1="206.30" y1="258.00" x2="208.30" y2="258.00" stroke="#6e6e6e" stroke-width="0.8"/>
<line x1="206.30" y1="236.40" x2="208.30" y2="236.40" stroke="#6e6e6e" stroke-width="0.8"/>
<line x1="206.30" y1="214.80" x2="208.30" y2="214.80" stroke="#6e6e6e" stroke-width="0.8"/>
<line x1="206.30" y1="193.20" x2="208.30" y2="193.20" stroke="#6e6e6e" stroke-width="0.8"/>
<line x1="206.30" y1="171.60" x2="208.30" y2="171.60" stroke="#6e6e6e" stroke-width="0.8"/>
<line x1="207.10" y1="268.80" x2="208.30" y2="268.80" stroke="#6e6e6e" stroke-width="0.7"/>
<line x1="207.10" y1="247.20" x2="208.30" y2="247.20" stroke="#6e6e6e" stroke-width="0.7"/>
<line x1="207.10" y1="225.60" x2="208.30" y2="225.60" stroke="#6e6e6e" stroke-width="0.7"/>
<line x1="207.10" y1="204.00" x2="208.30" y2="204.00" stroke="#6e6e6e" stroke-width="0.7"/>
<line x1="207.10" y1="182.40" x2="208.30" y2="182.40" stroke="#6e6e6e" stroke-width="0.7"/>
<text x="204.50" y="281.86" font-size="6.3" text-anchor="end" class="tl">0.0</text>
<text x="204.50" y="260.26" font-size="6.3" text-anchor="end" class="tl">0.2</text>
<text x="204.50" y="238.66" font-size="6.3" text-anchor="end" class="tl">0.4</text>
<text x="204.50" y="217.06" font-size="6.3" text-anchor="end" class="tl">0.6</text>
<text x="204.50" y="195.46" font-size="6.3" text-anchor="end" class="tl">0.8</text>
<text x="204.50" y="173.86" font-size="6.3" text-anchor="end" class="tl">1.0</text>
<text x="220.10" y="174.40" font-size="8.8" text-anchor="start" font-weight="bold" fill="#111" stroke="#111" stroke-width="0.3" >D</text>
<text x="0" y="0" font-size="6.5" text-anchor="middle" font-weight="bold" fill="#111" stroke="#111" stroke-width="0.3" transform="translate(193.73,219.30) rotate(-90)">Fluorescence (a.u.)</text>
<text x="282.80" y="302.30" font-size="6.7" text-anchor="middle" font-weight="bold" fill="#111" stroke="#111" stroke-width="0.3" >[NaHS] μM</text>
<rect x="256.1" y="166.8" width="34.9" height="14.3" fill="#000"/>
<rect x="254.6" y="165.3" width="34.7" height="14.3" fill="#fff" stroke="#999" stroke-width="0.5"/>
<rect x="259.95" y="167.35" width="3.30" height="3.30" rx="0.2" fill="#3c3c3c"/>
<circle cx="261.70" cy="175.70" r="1.90" fill="#f22a2a"/>
<text x="269.40" y="170.90" font-size="5.7" text-anchor="start" font-weight="normal" fill="#222" stroke="#222" stroke-width="0.2" >423 nm</text>
<text x="269.40" y="177.80" font-size="5.7" text-anchor="start" font-weight="normal" fill="#222" stroke="#222" stroke-width="0.2" >510 nm</text>
<rect x="393.20" y="160.50" width="152.10" height="122.50" fill="none" stroke="#6e6e6e" stroke-width="1.0"/>
<rect x="410.49" y="196.57" width="3.30" height="3.30" rx="0.4" fill="#383838"/>
<rect x="424.83" y="184.47" width="3.30" height="3.30" rx="0.4" fill="#383838"/>
<rect x="439.17" y="177.98" width="3.30" height="3.30" rx="0.4" fill="#383838"/>
<rect x="453.51" y="175.01" width="3.30" height="3.30" rx="0.4" fill="#383838"/>
<rect x="467.85" y="173.69" width="3.30" height="3.30" rx="0.4" fill="#383838"/>
<rect x="482.19" y="172.15" width="3.30" height="3.30" rx="0.4" fill="#383838"/>
<rect x="496.53" y="171.49" width="3.30" height="3.30" rx="0.4" fill="#383838"/>
<rect x="510.87" y="170.39" width="3.30" height="3.30" rx="0.4" fill="#383838"/>
<rect x="525.21" y="170.06" width="3.30" height="3.30" rx="0.4" fill="#383838"/>
<rect x="539.55" y="169.95" width="3.30" height="3.30" rx="0.4" fill="#383838"/>
<rect x="397.65" y="243.95" width="3.30" height="3.30" rx="0.4" fill="#383838"/>
<rect x="396.55" y="262.85" width="3.30" height="3.30" rx="0.4" fill="#383838"/>
<circle cx="412.14" cy="241.45" r="2.00" fill="#f22a2a"/>
<circle cx="426.48" cy="256.30" r="2.00" fill="#f22a2a"/>
<circle cx="440.82" cy="262.24" r="2.00" fill="#f22a2a"/>
<circle cx="455.16" cy="265.10" r="2.00" fill="#f22a2a"/>
<circle cx="469.50" cy="266.20" r="2.00" fill="#f22a2a"/>
<circle cx="483.84" cy="267.08" r="2.00" fill="#f22a2a"/>
<circle cx="498.18" cy="267.08" r="2.00" fill="#f22a2a"/>
<circle cx="512.52" cy="266.53" r="2.00" fill="#f22a2a"/>
<circle cx="526.86" cy="265.65" r="2.00" fill="#f22a2a"/>
<circle cx="541.20" cy="265.65" r="2.00" fill="#f22a2a"/>
<circle cx="398.10" cy="171.40" r="2.00" fill="#f22a2a"/>
<circle cx="399.30" cy="186.10" r="2.00" fill="#f22a2a"/>
<line x1="397.80" y1="283.00" x2="397.80" y2="285.00" stroke="#6e6e6e" stroke-width="0.8"/>
<line x1="445.60" y1="283.00" x2="445.60" y2="285.00" stroke="#6e6e6e" stroke-width="0.8"/>
<line x1="493.40" y1="283.00" x2="493.40" y2="285.00" stroke="#6e6e6e" stroke-width="0.8"/>
<line x1="541.20" y1="283.00" x2="541.20" y2="285.00" stroke="#6e6e6e" stroke-width="0.8"/>
<line x1="421.70" y1="283.00" x2="421.70" y2="284.20" stroke="#6e6e6e" stroke-width="0.7"/>
<line x1="469.50" y1="283.00" x2="469.50" y2="284.20" stroke="#6e6e6e" stroke-width="0.7"/>
<line x1="517.30" y1="283.00" x2="517.30" y2="284.20" stroke="#6e6e6e" stroke-width="0.7"/>
<text x="397.80" y="291.86" font-size="6.3" text-anchor="middle" class="tl">0</text>
<text x="445.60" y="291.86" font-size="6.3" text-anchor="middle" class="tl">10</text>
<text x="493.40" y="291.86" font-size="6.3" text-anchor="middle" class="tl">20</text>
<text x="541.20" y="291.86" font-size="6.3" text-anchor="middle" class="tl">30</text>
<line x1="391.20" y1="281.60" x2="393.20" y2="281.60" stroke="#6e6e6e" stroke-width="0.8"/>
<line x1="391.20" y1="259.60" x2="393.20" y2="259.60" stroke="#6e6e6e" stroke-width="0.8"/>
<line x1="391.20" y1="237.60" x2="393.20" y2="237.60" stroke="#6e6e6e" stroke-width="0.8"/>
<line x1="391.20" y1="215.60" x2="393.20" y2="215.60" stroke="#6e6e6e" stroke-width="0.8"/>
<line x1="391.20" y1="193.60" x2="393.20" y2="193.60" stroke="#6e6e6e" stroke-width="0.8"/>
<line x1="391.20" y1="171.60" x2="393.20" y2="171.60" stroke="#6e6e6e" stroke-width="0.8"/>
<line x1="392.00" y1="270.60" x2="393.20" y2="270.60" stroke="#6e6e6e" stroke-width="0.7"/>
<line x1="392.00" y1="248.60" x2="393.20" y2="248.60" stroke="#6e6e6e" stroke-width="0.7"/>
<line x1="392.00" y1="226.60" x2="393.20" y2="226.60" stroke="#6e6e6e" stroke-width="0.7"/>
<line x1="392.00" y1="204.60" x2="393.20" y2="204.60" stroke="#6e6e6e" stroke-width="0.7"/>
<line x1="392.00" y1="182.60" x2="393.20" y2="182.60" stroke="#6e6e6e" stroke-width="0.7"/>
<text x="389.60" y="283.86" font-size="6.3" text-anchor="end" class="tl">0.0</text>
<text x="389.60" y="261.86" font-size="6.3" text-anchor="end" class="tl">0.2</text>
<text x="389.60" y="239.86" font-size="6.3" text-anchor="end" class="tl">0.4</text>
<text x="389.60" y="217.86" font-size="6.3" text-anchor="end" class="tl">0.6</text>
<text x="389.60" y="195.86" font-size="6.3" text-anchor="end" class="tl">0.8</text>
<text x="389.60" y="173.86" font-size="6.3" text-anchor="end" class="tl">1.0</text>
<text x="405.40" y="172.30" font-size="9.0" text-anchor="start" font-weight="bold" fill="#111" stroke="#111" stroke-width="0.3" >F</text>
<text x="0" y="0" font-size="6.4" text-anchor="middle" font-weight="bold" fill="#111" stroke="#111" stroke-width="0.3" transform="translate(377.59,216.00) rotate(-90)">Fluorescence (a.u.)</text>
<text x="467.90" y="303.40" font-size="6.75" text-anchor="middle" font-weight="bold" fill="#111" stroke="#111" stroke-width="0.3" >Time (min)</text>
<text x="541.60" y="183.20" font-size="6.6" text-anchor="end" font-weight="bold" fill="#222" stroke="#222" stroke-width="0.3" >At 510 nm</text>
<text x="543.00" y="258.80" font-size="6.6" text-anchor="end" font-weight="bold" fill="#f02020" stroke="#f02020" stroke-width="0.3" >At 423 nm</text>
</svg>
</body></html>
